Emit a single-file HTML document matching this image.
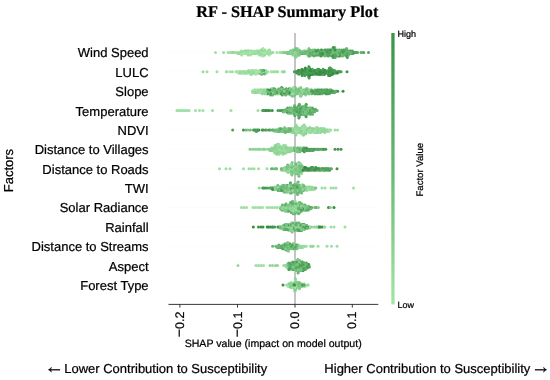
<!DOCTYPE html>
<html><head><meta charset="utf-8"><title>RF - SHAP Summary Plot</title>
<style>html,body{margin:0;padding:0;background:#fff}svg{display:block;text-rendering:geometricPrecision}text{stroke:#000;stroke-width:.22px}</style></head>
<body>
<svg width="550" height="380" viewBox="0 0 550 380">
<defs><linearGradient id="cb" x1="0" y1="0" x2="0" y2="1"><stop offset="0" stop-color="#3a9446"/><stop offset="0.5" stop-color="#68b872"/><stop offset="1" stop-color="#a2e6a6"/></linearGradient></defs>
<rect width="550" height="380" fill="#fff"/>
<line x1="168" x2="378" y1="52.40" y2="52.40" stroke="#ececec" stroke-width="0.5" stroke-dasharray="0.6 1.4"/>
<line x1="168" x2="378" y1="71.79" y2="71.79" stroke="#ececec" stroke-width="0.5" stroke-dasharray="0.6 1.4"/>
<line x1="168" x2="378" y1="91.17" y2="91.17" stroke="#ececec" stroke-width="0.5" stroke-dasharray="0.6 1.4"/>
<line x1="168" x2="378" y1="110.56" y2="110.56" stroke="#ececec" stroke-width="0.5" stroke-dasharray="0.6 1.4"/>
<line x1="168" x2="378" y1="129.94" y2="129.94" stroke="#ececec" stroke-width="0.5" stroke-dasharray="0.6 1.4"/>
<line x1="168" x2="378" y1="149.33" y2="149.33" stroke="#ececec" stroke-width="0.5" stroke-dasharray="0.6 1.4"/>
<line x1="168" x2="378" y1="168.72" y2="168.72" stroke="#ececec" stroke-width="0.5" stroke-dasharray="0.6 1.4"/>
<line x1="168" x2="378" y1="188.10" y2="188.10" stroke="#ececec" stroke-width="0.5" stroke-dasharray="0.6 1.4"/>
<line x1="168" x2="378" y1="207.49" y2="207.49" stroke="#ececec" stroke-width="0.5" stroke-dasharray="0.6 1.4"/>
<line x1="168" x2="378" y1="226.87" y2="226.87" stroke="#ececec" stroke-width="0.5" stroke-dasharray="0.6 1.4"/>
<line x1="168" x2="378" y1="246.26" y2="246.26" stroke="#ececec" stroke-width="0.5" stroke-dasharray="0.6 1.4"/>
<line x1="168" x2="378" y1="265.65" y2="265.65" stroke="#ececec" stroke-width="0.5" stroke-dasharray="0.6 1.4"/>
<line x1="168" x2="378" y1="285.03" y2="285.03" stroke="#ececec" stroke-width="0.5" stroke-dasharray="0.6 1.4"/>
<line x1="295" x2="295" y1="33" y2="304" stroke="#a6a6a6" stroke-width="1.3"/>
<g>
<circle cx="347.6" cy="51.1" r="1.5" fill="#52a35d"/>
<circle cx="316.5" cy="54.9" r="1.5" fill="#6cb976"/>
<circle cx="283.3" cy="52.4" r="1.5" fill="#8fd496"/>
<circle cx="304.4" cy="51.1" r="1.5" fill="#82ca8a"/>
<circle cx="291.5" cy="51.1" r="1.5" fill="#8dd294"/>
<circle cx="315.2" cy="54.9" r="1.5" fill="#5bab65"/>
<circle cx="345.0" cy="49.9" r="1.5" fill="#71bd7a"/>
<circle cx="241.2" cy="53.6" r="1.5" fill="#a9e7ad"/>
<circle cx="261.2" cy="49.9" r="1.5" fill="#93d799"/>
<circle cx="314.4" cy="49.9" r="1.5" fill="#75c07e"/>
<circle cx="256.7" cy="53.6" r="1.5" fill="#98db9e"/>
<circle cx="334.3" cy="51.1" r="1.5" fill="#469951"/>
<circle cx="265.1" cy="49.9" r="1.5" fill="#a7e5ab"/>
<circle cx="250.6" cy="53.6" r="1.5" fill="#9bdda1"/>
<circle cx="299.0" cy="51.1" r="1.5" fill="#85cc8d"/>
<circle cx="320.2" cy="52.4" r="1.5" fill="#76c07e"/>
<circle cx="302.4" cy="53.6" r="1.5" fill="#58a963"/>
<circle cx="298.2" cy="54.9" r="1.5" fill="#90d496"/>
<circle cx="256.5" cy="51.1" r="1.5" fill="#97d99c"/>
<circle cx="351.0" cy="51.1" r="1.5" fill="#61b06b"/>
<circle cx="342.5" cy="53.6" r="1.5" fill="#5faf69"/>
<circle cx="338.6" cy="53.6" r="1.5" fill="#67b571"/>
<circle cx="307.8" cy="51.1" r="1.5" fill="#6fbc79"/>
<circle cx="299.2" cy="52.4" r="1.5" fill="#82ca8a"/>
<circle cx="325.9" cy="53.6" r="1.5" fill="#64b26e"/>
<circle cx="324.9" cy="53.6" r="1.5" fill="#76c17f"/>
<circle cx="248.6" cy="53.6" r="1.5" fill="#9bdca0"/>
<circle cx="269.0" cy="54.9" r="1.5" fill="#a4e3a9"/>
<circle cx="324.6" cy="51.1" r="1.5" fill="#51a25b"/>
<circle cx="313.4" cy="54.9" r="1.5" fill="#52a35c"/>
<circle cx="334.7" cy="47.4" r="1.5" fill="#5dad67"/>
<circle cx="308.0" cy="54.9" r="1.5" fill="#82ca8a"/>
<circle cx="323.8" cy="53.6" r="1.5" fill="#77c180"/>
<circle cx="351.6" cy="52.4" r="1.5" fill="#70bc79"/>
<circle cx="241.5" cy="51.1" r="1.5" fill="#9adc9f"/>
<circle cx="263.1" cy="53.6" r="1.5" fill="#93d699"/>
<circle cx="241.2" cy="52.4" r="1.5" fill="#9fdfa4"/>
<circle cx="292.9" cy="49.9" r="1.5" fill="#7cc585"/>
<circle cx="357.8" cy="52.4" r="1.5" fill="#69b672"/>
<circle cx="295.7" cy="51.1" r="1.5" fill="#87ce8e"/>
<circle cx="228.1" cy="52.4" r="1.5" fill="#9cdea2"/>
<circle cx="293.3" cy="51.1" r="1.5" fill="#91d598"/>
<circle cx="264.2" cy="53.6" r="1.5" fill="#a9e7ad"/>
<circle cx="308.9" cy="48.6" r="1.5" fill="#81c988"/>
<circle cx="336.7" cy="52.4" r="1.5" fill="#4b9e56"/>
<circle cx="325.7" cy="49.9" r="1.5" fill="#5aaa64"/>
<circle cx="292.7" cy="52.4" r="1.5" fill="#85cc8c"/>
<circle cx="269.0" cy="51.1" r="1.5" fill="#97d99c"/>
<circle cx="268.7" cy="52.4" r="1.5" fill="#9bdda1"/>
<circle cx="313.3" cy="51.1" r="1.5" fill="#42964d"/>
<circle cx="331.0" cy="53.6" r="1.5" fill="#75c07e"/>
<circle cx="326.7" cy="53.6" r="1.5" fill="#6ab874"/>
<circle cx="250.8" cy="51.1" r="1.5" fill="#a4e3a8"/>
<circle cx="329.4" cy="51.1" r="1.5" fill="#6dba76"/>
<circle cx="251.8" cy="51.1" r="1.5" fill="#a8e6ac"/>
<circle cx="341.8" cy="49.9" r="1.5" fill="#5faf6a"/>
<circle cx="237.9" cy="53.6" r="1.5" fill="#94d79a"/>
<circle cx="301.0" cy="53.6" r="1.5" fill="#65b46f"/>
<circle cx="353.3" cy="52.4" r="1.5" fill="#6fbb78"/>
<circle cx="316.8" cy="53.6" r="1.5" fill="#56a761"/>
<circle cx="304.1" cy="52.4" r="1.5" fill="#7bc483"/>
<circle cx="257.3" cy="52.4" r="1.5" fill="#97d99c"/>
<circle cx="336.7" cy="53.6" r="1.5" fill="#69b773"/>
<circle cx="294.7" cy="53.6" r="1.5" fill="#8dd294"/>
<circle cx="326.8" cy="51.1" r="1.5" fill="#4a9c55"/>
<circle cx="330.9" cy="54.9" r="1.5" fill="#6cb976"/>
<circle cx="260.2" cy="52.4" r="1.5" fill="#9edfa4"/>
<circle cx="261.5" cy="52.4" r="1.5" fill="#92d698"/>
<circle cx="340.9" cy="53.6" r="1.5" fill="#5faf6a"/>
<circle cx="265.1" cy="51.1" r="1.5" fill="#97da9d"/>
<circle cx="300.5" cy="53.6" r="1.5" fill="#67b571"/>
<circle cx="294.3" cy="49.9" r="1.5" fill="#78c281"/>
<circle cx="335.8" cy="54.9" r="1.5" fill="#499b54"/>
<circle cx="289.4" cy="52.4" r="1.5" fill="#92d699"/>
<circle cx="344.0" cy="51.1" r="1.5" fill="#42964d"/>
<circle cx="347.3" cy="57.4" r="1.5" fill="#4d9f58"/>
<circle cx="248.2" cy="52.4" r="1.5" fill="#93d799"/>
<circle cx="347.0" cy="54.9" r="1.5" fill="#6bb874"/>
<circle cx="269.7" cy="52.4" r="1.5" fill="#95d89b"/>
<circle cx="245.7" cy="51.1" r="1.5" fill="#96d99c"/>
<circle cx="263.4" cy="54.9" r="1.5" fill="#a0e0a5"/>
<circle cx="310.6" cy="52.4" r="1.5" fill="#5dad67"/>
<circle cx="268.1" cy="51.1" r="1.5" fill="#9fe0a4"/>
<circle cx="338.5" cy="52.4" r="1.5" fill="#40944c"/>
<circle cx="314.3" cy="51.1" r="1.5" fill="#5dad67"/>
<circle cx="334.7" cy="53.6" r="1.5" fill="#4a9d55"/>
<circle cx="254.8" cy="52.4" r="1.5" fill="#99db9f"/>
<circle cx="336.4" cy="52.4" r="1.5" fill="#5cac67"/>
<circle cx="319.5" cy="54.9" r="1.5" fill="#469a52"/>
<circle cx="337.6" cy="52.4" r="1.5" fill="#6dba76"/>
<circle cx="259.4" cy="54.9" r="1.5" fill="#9bdda0"/>
<circle cx="333.3" cy="57.4" r="1.5" fill="#499c54"/>
<circle cx="254.7" cy="53.6" r="1.5" fill="#a1e1a6"/>
<circle cx="333.7" cy="52.4" r="1.5" fill="#3f944b"/>
<circle cx="293.4" cy="53.6" r="1.5" fill="#87cd8e"/>
<circle cx="343.9" cy="52.4" r="1.5" fill="#41954c"/>
<circle cx="336.3" cy="51.1" r="1.5" fill="#499c54"/>
<circle cx="251.4" cy="52.4" r="1.5" fill="#a9e8ad"/>
<circle cx="231.0" cy="52.4" r="1.5" fill="#9bdda0"/>
<circle cx="296.9" cy="49.9" r="1.5" fill="#84cb8b"/>
<circle cx="260.9" cy="54.9" r="1.5" fill="#a0e1a5"/>
<circle cx="322.1" cy="54.9" r="1.5" fill="#3d9249"/>
<circle cx="296.7" cy="53.6" r="1.5" fill="#82c989"/>
<circle cx="265.4" cy="53.6" r="1.5" fill="#9edfa3"/>
<circle cx="356.3" cy="52.4" r="1.5" fill="#67b571"/>
<circle cx="338.1" cy="51.1" r="1.5" fill="#58a963"/>
<circle cx="309.8" cy="49.9" r="1.5" fill="#75c07e"/>
<circle cx="256.3" cy="52.4" r="1.5" fill="#9ddea2"/>
<circle cx="337.7" cy="56.1" r="1.5" fill="#42964d"/>
<circle cx="262.0" cy="53.6" r="1.5" fill="#9cdda1"/>
<circle cx="252.0" cy="52.4" r="1.5" fill="#92d698"/>
<circle cx="243.2" cy="53.6" r="1.5" fill="#a3e3a8"/>
<circle cx="258.3" cy="52.4" r="1.5" fill="#92d698"/>
<circle cx="258.7" cy="51.1" r="1.5" fill="#a5e4aa"/>
<circle cx="307.2" cy="52.4" r="1.5" fill="#65b36f"/>
<circle cx="312.4" cy="53.6" r="1.5" fill="#61b06b"/>
<circle cx="248.6" cy="52.4" r="1.5" fill="#a0e1a5"/>
<circle cx="349.0" cy="51.1" r="1.5" fill="#64b36e"/>
<circle cx="293.7" cy="52.4" r="1.5" fill="#8cd192"/>
<circle cx="320.4" cy="54.9" r="1.5" fill="#61b06b"/>
<circle cx="333.9" cy="49.9" r="1.5" fill="#65b36f"/>
<circle cx="339.5" cy="54.9" r="1.5" fill="#63b26d"/>
<circle cx="291.5" cy="53.6" r="1.5" fill="#8ad091"/>
<circle cx="348.1" cy="54.9" r="1.5" fill="#5bab66"/>
<circle cx="353.2" cy="53.6" r="1.5" fill="#50a15b"/>
<circle cx="344.8" cy="51.1" r="1.5" fill="#6fbb79"/>
<circle cx="340.2" cy="51.1" r="1.5" fill="#51a35c"/>
<circle cx="266.1" cy="53.6" r="1.5" fill="#9edfa3"/>
<circle cx="330.9" cy="52.4" r="1.5" fill="#469951"/>
<circle cx="345.1" cy="52.4" r="1.5" fill="#72be7c"/>
<circle cx="264.3" cy="52.4" r="1.5" fill="#9ddea2"/>
<circle cx="261.7" cy="49.9" r="1.5" fill="#94d79a"/>
<circle cx="361.1" cy="52.4" r="1.5" fill="#60af6a"/>
<circle cx="346.1" cy="51.1" r="1.5" fill="#66b470"/>
<circle cx="242.7" cy="52.4" r="1.5" fill="#9edfa3"/>
<circle cx="333.4" cy="53.6" r="1.5" fill="#4ea059"/>
<circle cx="250.1" cy="53.6" r="1.5" fill="#a8e6ac"/>
<circle cx="334.7" cy="52.4" r="1.5" fill="#73be7c"/>
<circle cx="255.7" cy="53.6" r="1.5" fill="#a2e2a7"/>
<circle cx="341.3" cy="52.4" r="1.5" fill="#469a52"/>
<circle cx="343.9" cy="53.6" r="1.5" fill="#469951"/>
<circle cx="248.7" cy="51.1" r="1.5" fill="#a8e7ad"/>
<circle cx="343.4" cy="49.9" r="1.5" fill="#60af6a"/>
<circle cx="288.8" cy="53.6" r="1.5" fill="#87ce8e"/>
<circle cx="322.1" cy="53.6" r="1.5" fill="#70bc7a"/>
<circle cx="287.3" cy="52.4" r="1.5" fill="#8cd293"/>
<circle cx="250.6" cy="54.9" r="1.5" fill="#a1e1a6"/>
<circle cx="318.0" cy="49.9" r="1.5" fill="#4ea059"/>
<circle cx="328.8" cy="53.6" r="1.5" fill="#3f934b"/>
<circle cx="286.2" cy="52.4" r="1.5" fill="#84cb8b"/>
<circle cx="348.5" cy="54.9" r="1.5" fill="#6bb875"/>
<circle cx="341.6" cy="52.4" r="1.5" fill="#74bf7d"/>
<circle cx="329.9" cy="52.4" r="1.5" fill="#3c9147"/>
<circle cx="337.5" cy="49.9" r="1.5" fill="#75c07e"/>
<circle cx="310.9" cy="54.9" r="1.5" fill="#74bf7d"/>
<circle cx="325.5" cy="52.4" r="1.5" fill="#6bb874"/>
<circle cx="333.0" cy="48.6" r="1.5" fill="#4c9f57"/>
<circle cx="309.5" cy="56.1" r="1.5" fill="#5dad67"/>
<circle cx="318.2" cy="52.4" r="1.5" fill="#61b06b"/>
<circle cx="298.6" cy="53.6" r="1.5" fill="#7dc685"/>
<circle cx="293.7" cy="53.6" r="1.5" fill="#8ed394"/>
<circle cx="351.8" cy="53.6" r="1.5" fill="#4fa15a"/>
<circle cx="254.1" cy="51.1" r="1.5" fill="#a3e3a7"/>
<circle cx="318.0" cy="51.1" r="1.5" fill="#4a9d55"/>
<circle cx="290.7" cy="51.1" r="1.5" fill="#85cc8c"/>
<circle cx="340.6" cy="51.1" r="1.5" fill="#52a45d"/>
<circle cx="333.3" cy="54.9" r="1.5" fill="#54a55f"/>
<circle cx="320.6" cy="53.6" r="1.5" fill="#69b773"/>
<circle cx="346.5" cy="49.9" r="1.5" fill="#5cac67"/>
<circle cx="290.4" cy="52.4" r="1.5" fill="#88cf8f"/>
<circle cx="324.4" cy="54.9" r="1.5" fill="#51a25c"/>
<circle cx="297.5" cy="49.9" r="1.5" fill="#82ca8a"/>
<circle cx="268.4" cy="53.6" r="1.5" fill="#98da9d"/>
<circle cx="314.8" cy="52.4" r="1.5" fill="#67b571"/>
<circle cx="328.9" cy="49.9" r="1.5" fill="#50a15a"/>
<circle cx="307.0" cy="53.6" r="1.5" fill="#78c281"/>
<circle cx="331.8" cy="56.1" r="1.5" fill="#62b16c"/>
<circle cx="288.1" cy="52.4" r="1.5" fill="#79c382"/>
<circle cx="339.4" cy="49.9" r="1.5" fill="#62b16c"/>
<circle cx="262.0" cy="54.9" r="1.5" fill="#9cdda1"/>
<circle cx="264.0" cy="54.9" r="1.5" fill="#96d99c"/>
<circle cx="333.2" cy="51.1" r="1.5" fill="#66b570"/>
<circle cx="332.1" cy="52.4" r="1.5" fill="#69b773"/>
<circle cx="257.7" cy="53.6" r="1.5" fill="#9fdfa4"/>
<circle cx="327.0" cy="54.9" r="1.5" fill="#3e9249"/>
<circle cx="334.6" cy="48.6" r="1.5" fill="#73be7c"/>
<circle cx="257.8" cy="51.1" r="1.5" fill="#9bdda1"/>
<circle cx="318.8" cy="51.1" r="1.5" fill="#5eae68"/>
<circle cx="352.5" cy="51.1" r="1.5" fill="#54a55f"/>
<circle cx="322.2" cy="51.1" r="1.5" fill="#75c07e"/>
<circle cx="260.8" cy="53.6" r="1.5" fill="#97da9d"/>
<circle cx="309.1" cy="49.9" r="1.5" fill="#75c07e"/>
<circle cx="296.6" cy="54.9" r="1.5" fill="#7dc685"/>
<circle cx="309.6" cy="54.9" r="1.5" fill="#78c280"/>
<circle cx="306.0" cy="53.6" r="1.5" fill="#6fbb78"/>
<circle cx="247.2" cy="51.1" r="1.5" fill="#93d799"/>
<circle cx="244.8" cy="52.4" r="1.5" fill="#95d89b"/>
<circle cx="329.9" cy="49.9" r="1.5" fill="#4a9c55"/>
<circle cx="260.4" cy="51.1" r="1.5" fill="#9adca0"/>
<circle cx="319.1" cy="53.6" r="1.5" fill="#61b06b"/>
<circle cx="295.5" cy="57.4" r="1.5" fill="#8ad091"/>
<circle cx="308.9" cy="52.4" r="1.5" fill="#55a660"/>
<circle cx="347.4" cy="53.6" r="1.5" fill="#5aaa64"/>
<circle cx="326.7" cy="49.9" r="1.5" fill="#6dba76"/>
<circle cx="340.3" cy="52.4" r="1.5" fill="#53a55e"/>
<circle cx="308.6" cy="51.1" r="1.5" fill="#82ca8a"/>
<circle cx="317.3" cy="51.1" r="1.5" fill="#62b16c"/>
<circle cx="316.7" cy="52.4" r="1.5" fill="#6ab773"/>
<circle cx="311.2" cy="53.6" r="1.5" fill="#58a963"/>
<circle cx="252.7" cy="53.6" r="1.5" fill="#9edfa3"/>
<circle cx="345.6" cy="54.9" r="1.5" fill="#5aaa64"/>
<circle cx="339.4" cy="54.9" r="1.5" fill="#55a65f"/>
<circle cx="321.5" cy="52.4" r="1.5" fill="#499c54"/>
<circle cx="339.5" cy="49.9" r="1.5" fill="#64b26e"/>
<circle cx="304.6" cy="53.6" r="1.5" fill="#67b571"/>
<circle cx="312.5" cy="49.9" r="1.5" fill="#7fc787"/>
<circle cx="297.9" cy="53.6" r="1.5" fill="#7bc483"/>
<circle cx="324.6" cy="49.9" r="1.5" fill="#51a25c"/>
<circle cx="312.1" cy="54.9" r="1.5" fill="#66b470"/>
<circle cx="308.8" cy="56.1" r="1.5" fill="#68b672"/>
<circle cx="253.2" cy="52.4" r="1.5" fill="#9fdfa4"/>
<circle cx="264.2" cy="51.1" r="1.5" fill="#94d89a"/>
<circle cx="305.6" cy="52.4" r="1.5" fill="#68b672"/>
<circle cx="325.0" cy="52.4" r="1.5" fill="#58a963"/>
<circle cx="310.8" cy="51.1" r="1.5" fill="#5aaa64"/>
<circle cx="242.3" cy="52.4" r="1.5" fill="#92d698"/>
<circle cx="341.6" cy="51.1" r="1.5" fill="#51a35c"/>
<circle cx="350.3" cy="51.1" r="1.5" fill="#52a35d"/>
<circle cx="345.4" cy="54.9" r="1.5" fill="#59a963"/>
<circle cx="299.1" cy="49.9" r="1.5" fill="#7dc685"/>
<circle cx="314.0" cy="56.1" r="1.5" fill="#70bc7a"/>
<circle cx="296.8" cy="52.4" r="1.5" fill="#92d698"/>
<circle cx="296.6" cy="51.1" r="1.5" fill="#7ec786"/>
<circle cx="299.3" cy="54.9" r="1.5" fill="#7cc585"/>
<circle cx="248.0" cy="53.6" r="1.5" fill="#98db9e"/>
<circle cx="239.1" cy="52.4" r="1.5" fill="#98da9d"/>
<circle cx="315.7" cy="53.6" r="1.5" fill="#5aaa64"/>
<circle cx="328.2" cy="56.1" r="1.5" fill="#5dad67"/>
<circle cx="334.5" cy="51.1" r="1.5" fill="#74bf7d"/>
<circle cx="248.5" cy="51.1" r="1.5" fill="#95d89b"/>
<circle cx="262.7" cy="49.9" r="1.5" fill="#96d99c"/>
<circle cx="350.3" cy="53.6" r="1.5" fill="#5aab65"/>
<circle cx="315.2" cy="53.6" r="1.5" fill="#4b9e56"/>
<circle cx="319.4" cy="52.4" r="1.5" fill="#72be7b"/>
<circle cx="346.4" cy="53.6" r="1.5" fill="#70bc79"/>
<circle cx="334.8" cy="56.1" r="1.5" fill="#3c9147"/>
<circle cx="331.9" cy="53.6" r="1.5" fill="#60af6a"/>
<circle cx="237.8" cy="52.4" r="1.5" fill="#a6e5aa"/>
<circle cx="248.1" cy="54.9" r="1.5" fill="#9adc9f"/>
<circle cx="324.5" cy="51.1" r="1.5" fill="#5cac67"/>
<circle cx="313.8" cy="54.9" r="1.5" fill="#51a25c"/>
<circle cx="293.0" cy="54.9" r="1.5" fill="#88ce8f"/>
<circle cx="326.2" cy="54.9" r="1.5" fill="#479a53"/>
<circle cx="294.5" cy="54.9" r="1.5" fill="#90d597"/>
<circle cx="295.7" cy="56.1" r="1.5" fill="#85cc8c"/>
<circle cx="308.0" cy="52.4" r="1.5" fill="#55a660"/>
<circle cx="269.0" cy="53.6" r="1.5" fill="#a3e3a8"/>
<circle cx="295.8" cy="54.9" r="1.5" fill="#88ce8f"/>
<circle cx="276.9" cy="52.4" r="1.5" fill="#a0e1a5"/>
<circle cx="344.1" cy="49.9" r="1.5" fill="#57a761"/>
<circle cx="240.3" cy="53.6" r="1.5" fill="#9fe0a4"/>
<circle cx="347.4" cy="52.4" r="1.5" fill="#58a862"/>
<circle cx="316.4" cy="52.4" r="1.5" fill="#6cb975"/>
<circle cx="315.1" cy="49.9" r="1.5" fill="#71bd7a"/>
<circle cx="304.8" cy="51.1" r="1.5" fill="#7fc787"/>
<circle cx="281.8" cy="52.4" r="1.5" fill="#91d598"/>
<circle cx="297.5" cy="48.6" r="1.5" fill="#92d698"/>
<circle cx="307.0" cy="51.1" r="1.5" fill="#70bc79"/>
<circle cx="264.6" cy="54.9" r="1.5" fill="#97da9d"/>
<circle cx="297.1" cy="56.1" r="1.5" fill="#8cd193"/>
<circle cx="343.5" cy="54.9" r="1.5" fill="#6ebb78"/>
<circle cx="266.5" cy="53.6" r="1.5" fill="#a5e5aa"/>
<circle cx="279.9" cy="52.4" r="1.5" fill="#99db9f"/>
<circle cx="341.0" cy="54.9" r="1.5" fill="#76c07f"/>
<circle cx="263.4" cy="51.1" r="1.5" fill="#9ddea3"/>
<circle cx="337.7" cy="53.6" r="1.5" fill="#69b773"/>
<circle cx="330.1" cy="54.9" r="1.5" fill="#42964d"/>
<circle cx="250.4" cy="51.1" r="1.5" fill="#9ddea2"/>
<circle cx="269.4" cy="49.9" r="1.5" fill="#95d89b"/>
<circle cx="346.7" cy="56.1" r="1.5" fill="#4ea059"/>
<circle cx="335.2" cy="57.4" r="1.5" fill="#5aaa64"/>
<circle cx="339.5" cy="56.1" r="1.5" fill="#3b9046"/>
<circle cx="327.5" cy="51.1" r="1.5" fill="#74bf7d"/>
<circle cx="291.1" cy="53.6" r="1.5" fill="#7ac382"/>
<circle cx="244.9" cy="53.6" r="1.5" fill="#a0e0a5"/>
<circle cx="290.4" cy="51.1" r="1.5" fill="#80c888"/>
<circle cx="298.5" cy="51.1" r="1.5" fill="#8bd192"/>
<circle cx="256.9" cy="51.1" r="1.5" fill="#9edfa3"/>
<circle cx="241.7" cy="54.9" r="1.5" fill="#9fe0a4"/>
<circle cx="272.7" cy="52.4" r="1.5" fill="#93d699"/>
<circle cx="289.5" cy="53.6" r="1.5" fill="#82ca8a"/>
<circle cx="332.3" cy="51.1" r="1.5" fill="#5cac66"/>
<circle cx="270.7" cy="52.4" r="1.5" fill="#a0e0a5"/>
<circle cx="329.6" cy="53.6" r="1.5" fill="#71bd7a"/>
<circle cx="361.5" cy="52.4" r="1.5" fill="#66b470"/>
<circle cx="348.8" cy="52.4" r="1.5" fill="#59aa64"/>
<circle cx="314.7" cy="51.1" r="1.5" fill="#60af6a"/>
<circle cx="311.6" cy="51.1" r="1.5" fill="#79c381"/>
<circle cx="350.6" cy="52.4" r="1.5" fill="#6eba77"/>
<circle cx="230.0" cy="52.4" r="1.5" fill="#a1e1a6"/>
<circle cx="324.1" cy="52.4" r="1.5" fill="#6bb874"/>
<circle cx="315.6" cy="54.9" r="1.5" fill="#5dad67"/>
<circle cx="342.9" cy="54.9" r="1.5" fill="#51a25c"/>
<circle cx="295.3" cy="51.1" r="1.5" fill="#92d698"/>
<circle cx="335.8" cy="49.9" r="1.5" fill="#67b671"/>
<circle cx="347.1" cy="51.1" r="1.5" fill="#5aaa65"/>
<circle cx="319.5" cy="51.1" r="1.5" fill="#54a55f"/>
<circle cx="262.8" cy="56.1" r="1.5" fill="#a4e3a9"/>
<circle cx="309.5" cy="53.6" r="1.5" fill="#85cc8c"/>
<circle cx="320.0" cy="53.6" r="1.5" fill="#41954d"/>
<circle cx="334.2" cy="53.6" r="1.5" fill="#479a52"/>
<circle cx="266.6" cy="52.4" r="1.5" fill="#95d89b"/>
<circle cx="339.5" cy="53.6" r="1.5" fill="#50a15a"/>
<circle cx="259.6" cy="53.6" r="1.5" fill="#97d99d"/>
<circle cx="265.8" cy="52.4" r="1.5" fill="#9ddea2"/>
<circle cx="325.4" cy="54.9" r="1.5" fill="#6cb976"/>
<circle cx="342.5" cy="56.1" r="1.5" fill="#66b470"/>
<circle cx="233.7" cy="52.4" r="1.5" fill="#99db9f"/>
<circle cx="355.5" cy="52.4" r="1.5" fill="#6bb874"/>
<circle cx="245.5" cy="53.6" r="1.5" fill="#9adca0"/>
<circle cx="338.0" cy="54.9" r="1.5" fill="#72bd7b"/>
<circle cx="280.6" cy="52.4" r="1.5" fill="#9edfa3"/>
<circle cx="264.7" cy="52.4" r="1.5" fill="#a7e6ab"/>
<circle cx="308.8" cy="54.9" r="1.5" fill="#62b16c"/>
<circle cx="240.1" cy="52.4" r="1.5" fill="#9cdda1"/>
<circle cx="321.9" cy="49.9" r="1.5" fill="#58a963"/>
<circle cx="246.9" cy="52.4" r="1.5" fill="#aae8ae"/>
<circle cx="244.4" cy="52.4" r="1.5" fill="#a1e1a5"/>
<circle cx="346.3" cy="52.4" r="1.5" fill="#67b571"/>
<circle cx="262.5" cy="52.4" r="1.5" fill="#a7e6ab"/>
<circle cx="287.4" cy="53.6" r="1.5" fill="#8fd496"/>
<circle cx="317.9" cy="54.9" r="1.5" fill="#55a660"/>
<circle cx="321.4" cy="54.9" r="1.5" fill="#4fa159"/>
<circle cx="329.9" cy="51.1" r="1.5" fill="#73be7c"/>
<circle cx="313.5" cy="53.6" r="1.5" fill="#62b16c"/>
<circle cx="356.7" cy="52.4" r="1.5" fill="#56a761"/>
<circle cx="336.0" cy="53.6" r="1.5" fill="#6ab874"/>
<circle cx="328.5" cy="54.9" r="1.5" fill="#4b9d56"/>
<circle cx="299.5" cy="52.4" r="1.5" fill="#82ca8a"/>
<circle cx="325.7" cy="51.1" r="1.5" fill="#4fa059"/>
<circle cx="333.3" cy="47.4" r="1.5" fill="#40944c"/>
<circle cx="245.7" cy="52.4" r="1.5" fill="#a8e6ac"/>
<circle cx="232.9" cy="52.4" r="1.5" fill="#94d79a"/>
<circle cx="350.6" cy="53.6" r="1.5" fill="#62b16c"/>
<circle cx="309.4" cy="53.6" r="1.5" fill="#59a963"/>
<circle cx="291.7" cy="52.4" r="1.5" fill="#86cd8d"/>
<circle cx="335.4" cy="49.9" r="1.5" fill="#3c9148"/>
<circle cx="349.9" cy="52.4" r="1.5" fill="#60b06b"/>
<circle cx="332.6" cy="49.9" r="1.5" fill="#3e934a"/>
<circle cx="247.1" cy="53.6" r="1.5" fill="#a1e1a6"/>
<circle cx="251.6" cy="53.6" r="1.5" fill="#9edfa3"/>
<circle cx="314.2" cy="52.4" r="1.5" fill="#57a761"/>
<circle cx="348.9" cy="53.6" r="1.5" fill="#69b673"/>
<circle cx="284.4" cy="52.4" r="1.5" fill="#81c989"/>
<circle cx="235.8" cy="52.4" r="1.5" fill="#98db9e"/>
<circle cx="339.5" cy="51.1" r="1.5" fill="#6dba76"/>
<circle cx="262.1" cy="51.1" r="1.5" fill="#9adca0"/>
<circle cx="316.5" cy="51.1" r="1.5" fill="#41954c"/>
<circle cx="331.7" cy="54.9" r="1.5" fill="#74bf7d"/>
<circle cx="302.8" cy="53.6" r="1.5" fill="#62b16c"/>
<circle cx="268.1" cy="52.4" r="1.5" fill="#9edfa3"/>
<circle cx="258.7" cy="53.6" r="1.5" fill="#a5e4a9"/>
<circle cx="329.5" cy="52.4" r="1.5" fill="#4b9e56"/>
<circle cx="295.8" cy="52.4" r="1.5" fill="#81c989"/>
<circle cx="327.9" cy="54.9" r="1.5" fill="#54a55f"/>
<circle cx="310.0" cy="52.4" r="1.5" fill="#5aaa64"/>
<circle cx="269.8" cy="51.1" r="1.5" fill="#a1e1a5"/>
<circle cx="322.8" cy="52.4" r="1.5" fill="#72bd7b"/>
<circle cx="301.1" cy="52.4" r="1.5" fill="#68b672"/>
<circle cx="321.0" cy="56.1" r="1.5" fill="#499c54"/>
<circle cx="254.3" cy="53.6" r="1.5" fill="#94d79a"/>
<circle cx="295.8" cy="53.6" r="1.5" fill="#8dd294"/>
<circle cx="300.0" cy="51.1" r="1.5" fill="#74bf7d"/>
<circle cx="327.3" cy="52.4" r="1.5" fill="#65b470"/>
<circle cx="223.6" cy="52.4" r="1.5" fill="#9cdda1"/>
<circle cx="245.5" cy="51.1" r="1.5" fill="#95d89b"/>
<circle cx="238.8" cy="53.6" r="1.5" fill="#95d89b"/>
<circle cx="243.9" cy="53.6" r="1.5" fill="#a8e7ac"/>
<circle cx="333.8" cy="54.9" r="1.5" fill="#53a45e"/>
<circle cx="331.4" cy="51.1" r="1.5" fill="#62b16c"/>
<circle cx="270.6" cy="53.6" r="1.5" fill="#a3e2a7"/>
<circle cx="317.8" cy="53.6" r="1.5" fill="#6cb975"/>
<circle cx="258.9" cy="52.4" r="1.5" fill="#93d799"/>
<circle cx="346.6" cy="48.6" r="1.5" fill="#64b36f"/>
<circle cx="302.6" cy="52.4" r="1.5" fill="#66b570"/>
<circle cx="321.5" cy="52.4" r="1.5" fill="#44974f"/>
<circle cx="310.0" cy="51.1" r="1.5" fill="#6ebb78"/>
<circle cx="312.4" cy="52.4" r="1.5" fill="#82ca8a"/>
<circle cx="332.1" cy="49.9" r="1.5" fill="#74bf7d"/>
<circle cx="348.1" cy="52.4" r="1.5" fill="#70bc79"/>
<circle cx="294.2" cy="51.1" r="1.5" fill="#7bc483"/>
<circle cx="261.5" cy="51.1" r="1.5" fill="#97d99d"/>
<circle cx="269.9" cy="53.6" r="1.5" fill="#9fe0a4"/>
<circle cx="241.9" cy="53.6" r="1.5" fill="#a3e3a8"/>
<circle cx="343.3" cy="51.1" r="1.5" fill="#499c54"/>
<circle cx="215.5" cy="52.4" r="1.5" fill="#a1e1a5"/>
<circle cx="342.1" cy="53.6" r="1.5" fill="#60af6b"/>
<circle cx="295.8" cy="48.6" r="1.5" fill="#79c381"/>
<circle cx="334.8" cy="54.9" r="1.5" fill="#57a761"/>
<circle cx="327.7" cy="49.9" r="1.5" fill="#4d9f58"/>
<circle cx="332.6" cy="56.1" r="1.5" fill="#469951"/>
<circle cx="296.5" cy="49.9" r="1.5" fill="#79c381"/>
<circle cx="354.2" cy="52.4" r="1.5" fill="#4c9e57"/>
<circle cx="321.0" cy="51.1" r="1.5" fill="#6fbb78"/>
<circle cx="295.2" cy="52.4" r="1.5" fill="#92d699"/>
<circle cx="244.4" cy="51.1" r="1.5" fill="#9ddea2"/>
<circle cx="343.4" cy="52.4" r="1.5" fill="#4b9d56"/>
<circle cx="330.5" cy="49.9" r="1.5" fill="#41954d"/>
<circle cx="263.1" cy="48.6" r="1.5" fill="#a4e4a9"/>
<circle cx="271.9" cy="52.4" r="1.5" fill="#9bdca0"/>
<circle cx="312.7" cy="52.4" r="1.5" fill="#59a964"/>
<circle cx="250.1" cy="52.4" r="1.5" fill="#a7e6ac"/>
<circle cx="345.0" cy="53.6" r="1.5" fill="#62b16c"/>
<circle cx="298.2" cy="52.4" r="1.5" fill="#81c989"/>
<circle cx="363.7" cy="52.4" r="1.5" fill="#50a15b"/>
<circle cx="260.7" cy="52.4" r="1.5" fill="#9fdfa4"/>
<circle cx="327.6" cy="52.4" r="1.5" fill="#40954c"/>
<circle cx="302.8" cy="51.1" r="1.5" fill="#82ca8a"/>
<circle cx="305.1" cy="52.4" r="1.5" fill="#61b06b"/>
<circle cx="290.7" cy="52.4" r="1.5" fill="#8dd294"/>
<circle cx="304.3" cy="53.6" r="1.5" fill="#70bc79"/>
<circle cx="347.5" cy="53.6" r="1.5" fill="#55a660"/>
<circle cx="342.2" cy="54.9" r="1.5" fill="#6ebb78"/>
<circle cx="307.6" cy="53.6" r="1.5" fill="#77c180"/>
<circle cx="333.2" cy="52.4" r="1.5" fill="#75c07e"/>
<circle cx="322.7" cy="53.6" r="1.5" fill="#3e934a"/>
<circle cx="287.6" cy="53.6" r="1.5" fill="#7dc685"/>
<circle cx="254.2" cy="52.4" r="1.5" fill="#a1e1a6"/>
<circle cx="337.4" cy="51.1" r="1.5" fill="#6fbb78"/>
<circle cx="328.4" cy="53.6" r="1.5" fill="#54a55f"/>
<circle cx="321.1" cy="49.9" r="1.5" fill="#4c9e57"/>
<circle cx="324.9" cy="56.1" r="1.5" fill="#6ab874"/>
<circle cx="314.2" cy="53.6" r="1.5" fill="#75c07e"/>
<circle cx="301.6" cy="52.4" r="1.5" fill="#70bc79"/>
<circle cx="368.5" cy="52.4" r="1.5" fill="#55a65f"/>
</g>
<g>
<circle cx="301.9" cy="69.3" r="1.5" fill="#42964d"/>
<circle cx="314.9" cy="70.5" r="1.5" fill="#358b41"/>
<circle cx="255.8" cy="71.8" r="1.5" fill="#9edfa3"/>
<circle cx="339.8" cy="71.8" r="1.5" fill="#3f934a"/>
<circle cx="331.3" cy="70.5" r="1.5" fill="#32893e"/>
<circle cx="335.3" cy="71.8" r="1.5" fill="#3d9249"/>
<circle cx="304.0" cy="71.8" r="1.5" fill="#388e44"/>
<circle cx="317.0" cy="73.0" r="1.5" fill="#4c9e57"/>
<circle cx="305.4" cy="68.0" r="1.5" fill="#398e44"/>
<circle cx="296.1" cy="71.8" r="1.5" fill="#469951"/>
<circle cx="277.7" cy="71.8" r="1.5" fill="#97da9d"/>
<circle cx="306.3" cy="70.5" r="1.5" fill="#3d9249"/>
<circle cx="324.6" cy="74.3" r="1.5" fill="#3a8f45"/>
<circle cx="330.1" cy="73.0" r="1.5" fill="#4c9f57"/>
<circle cx="324.4" cy="70.5" r="1.5" fill="#469951"/>
<circle cx="261.8" cy="71.8" r="1.5" fill="#3e934a"/>
<circle cx="236.1" cy="71.8" r="1.5" fill="#9adc9f"/>
<circle cx="300.4" cy="71.8" r="1.5" fill="#3e934a"/>
<circle cx="244.0" cy="73.0" r="1.5" fill="#99db9e"/>
<circle cx="316.0" cy="70.5" r="1.5" fill="#4c9e57"/>
<circle cx="328.6" cy="75.5" r="1.5" fill="#398e45"/>
<circle cx="256.2" cy="70.5" r="1.5" fill="#94d89a"/>
<circle cx="336.1" cy="73.0" r="1.5" fill="#479a52"/>
<circle cx="304.8" cy="73.0" r="1.5" fill="#378d43"/>
<circle cx="304.3" cy="73.0" r="1.5" fill="#4ea059"/>
<circle cx="329.7" cy="70.5" r="1.5" fill="#3a8f45"/>
<circle cx="242.9" cy="73.0" r="1.5" fill="#98db9e"/>
<circle cx="266.4" cy="73.0" r="1.5" fill="#9bdda0"/>
<circle cx="308.5" cy="73.0" r="1.5" fill="#378d43"/>
<circle cx="331.6" cy="69.3" r="1.5" fill="#40954c"/>
<circle cx="261.6" cy="74.3" r="1.5" fill="#53a45e"/>
<circle cx="258.0" cy="71.8" r="1.5" fill="#9edfa3"/>
<circle cx="274.6" cy="71.8" r="1.5" fill="#a0e0a5"/>
<circle cx="250.8" cy="73.0" r="1.5" fill="#99db9e"/>
<circle cx="307.1" cy="70.5" r="1.5" fill="#368c42"/>
<circle cx="294.4" cy="71.8" r="1.5" fill="#479a52"/>
<circle cx="321.4" cy="71.8" r="1.5" fill="#378d43"/>
<circle cx="311.6" cy="73.0" r="1.5" fill="#499c54"/>
<circle cx="255.9" cy="73.0" r="1.5" fill="#9fdfa4"/>
<circle cx="317.3" cy="70.5" r="1.5" fill="#3d9249"/>
<circle cx="311.5" cy="70.5" r="1.5" fill="#3c9147"/>
<circle cx="319.6" cy="73.0" r="1.5" fill="#3f934b"/>
<circle cx="251.4" cy="70.5" r="1.5" fill="#a5e4a9"/>
<circle cx="333.5" cy="70.5" r="1.5" fill="#459850"/>
<circle cx="328.9" cy="73.0" r="1.5" fill="#499c54"/>
<circle cx="251.6" cy="71.8" r="1.5" fill="#95d89b"/>
<circle cx="261.3" cy="71.8" r="1.5" fill="#67b671"/>
<circle cx="250.1" cy="73.0" r="1.5" fill="#a2e2a7"/>
<circle cx="308.7" cy="75.5" r="1.5" fill="#479a52"/>
<circle cx="302.6" cy="71.8" r="1.5" fill="#479a52"/>
<circle cx="304.8" cy="69.3" r="1.5" fill="#388d44"/>
<circle cx="254.3" cy="71.8" r="1.5" fill="#a0e0a5"/>
<circle cx="317.0" cy="71.8" r="1.5" fill="#43964e"/>
<circle cx="311.0" cy="74.3" r="1.5" fill="#3d9148"/>
<circle cx="308.3" cy="71.8" r="1.5" fill="#348a3f"/>
<circle cx="267.8" cy="71.8" r="1.5" fill="#a3e2a7"/>
<circle cx="247.8" cy="71.8" r="1.5" fill="#a5e4a9"/>
<circle cx="301.3" cy="73.0" r="1.5" fill="#398e45"/>
<circle cx="260.4" cy="73.0" r="1.5" fill="#67b671"/>
<circle cx="311.7" cy="74.3" r="1.5" fill="#3b9046"/>
<circle cx="322.2" cy="73.0" r="1.5" fill="#4fa15a"/>
<circle cx="334.6" cy="73.0" r="1.5" fill="#50a15b"/>
<circle cx="332.5" cy="74.3" r="1.5" fill="#43974e"/>
<circle cx="328.4" cy="71.8" r="1.5" fill="#50a25b"/>
<circle cx="226.4" cy="71.8" r="1.5" fill="#9bdda0"/>
<circle cx="304.8" cy="71.8" r="1.5" fill="#41954c"/>
<circle cx="330.4" cy="74.3" r="1.5" fill="#378d43"/>
<circle cx="329.1" cy="69.3" r="1.5" fill="#42964e"/>
<circle cx="254.7" cy="71.8" r="1.5" fill="#a3e3a8"/>
<circle cx="242.1" cy="71.8" r="1.5" fill="#9fdfa4"/>
<circle cx="239.2" cy="71.8" r="1.5" fill="#9cdda1"/>
<circle cx="247.0" cy="71.8" r="1.5" fill="#a1e2a6"/>
<circle cx="322.3" cy="74.3" r="1.5" fill="#4fa15a"/>
<circle cx="301.4" cy="71.8" r="1.5" fill="#4c9e57"/>
<circle cx="321.3" cy="73.0" r="1.5" fill="#3a8f46"/>
<circle cx="339.0" cy="71.8" r="1.5" fill="#43974e"/>
<circle cx="309.3" cy="73.0" r="1.5" fill="#42964d"/>
<circle cx="309.4" cy="70.5" r="1.5" fill="#358b41"/>
<circle cx="320.6" cy="70.5" r="1.5" fill="#4b9e56"/>
<circle cx="244.9" cy="73.0" r="1.5" fill="#a3e2a7"/>
<circle cx="267.3" cy="71.8" r="1.5" fill="#a1e1a5"/>
<circle cx="315.0" cy="73.0" r="1.5" fill="#4b9e56"/>
<circle cx="299.5" cy="70.5" r="1.5" fill="#3f934a"/>
<circle cx="305.6" cy="73.0" r="1.5" fill="#459950"/>
<circle cx="308.9" cy="66.8" r="1.5" fill="#378c42"/>
<circle cx="319.7" cy="74.3" r="1.5" fill="#3b9046"/>
<circle cx="338.0" cy="71.8" r="1.5" fill="#42964e"/>
<circle cx="314.9" cy="74.3" r="1.5" fill="#4c9e57"/>
<circle cx="306.7" cy="74.3" r="1.5" fill="#3f934a"/>
<circle cx="323.3" cy="70.5" r="1.5" fill="#44984f"/>
<circle cx="240.4" cy="71.8" r="1.5" fill="#99db9f"/>
<circle cx="295.5" cy="71.8" r="1.5" fill="#4c9e57"/>
<circle cx="328.8" cy="74.3" r="1.5" fill="#4b9e56"/>
<circle cx="255.2" cy="73.0" r="1.5" fill="#9cdda1"/>
<circle cx="246.3" cy="71.8" r="1.5" fill="#9edfa3"/>
<circle cx="240.7" cy="71.8" r="1.5" fill="#9fdfa4"/>
<circle cx="297.3" cy="71.8" r="1.5" fill="#42964d"/>
<circle cx="306.5" cy="71.8" r="1.5" fill="#4fa15a"/>
<circle cx="282.2" cy="71.8" r="1.5" fill="#a1e1a5"/>
<circle cx="254.1" cy="73.0" r="1.5" fill="#9fdfa4"/>
<circle cx="331.9" cy="74.3" r="1.5" fill="#3d9249"/>
<circle cx="324.4" cy="73.0" r="1.5" fill="#3f934a"/>
<circle cx="317.7" cy="69.3" r="1.5" fill="#44984f"/>
<circle cx="258.8" cy="73.0" r="1.5" fill="#5eae69"/>
<circle cx="332.0" cy="71.8" r="1.5" fill="#4fa15a"/>
<circle cx="309.2" cy="71.8" r="1.5" fill="#459951"/>
<circle cx="257.5" cy="73.0" r="1.5" fill="#99db9f"/>
<circle cx="320.3" cy="70.5" r="1.5" fill="#4b9e56"/>
<circle cx="244.9" cy="71.8" r="1.5" fill="#a2e2a7"/>
<circle cx="313.1" cy="71.8" r="1.5" fill="#4ea059"/>
<circle cx="315.2" cy="71.8" r="1.5" fill="#479a52"/>
<circle cx="310.9" cy="69.3" r="1.5" fill="#459950"/>
<circle cx="321.1" cy="74.3" r="1.5" fill="#3c9148"/>
<circle cx="262.0" cy="73.0" r="1.5" fill="#92d598"/>
<circle cx="310.4" cy="73.0" r="1.5" fill="#469951"/>
<circle cx="328.6" cy="70.5" r="1.5" fill="#469951"/>
<circle cx="309.8" cy="71.8" r="1.5" fill="#50a15a"/>
<circle cx="248.5" cy="70.5" r="1.5" fill="#9bdda1"/>
<circle cx="262.5" cy="71.8" r="1.5" fill="#4a9c55"/>
<circle cx="238.6" cy="73.0" r="1.5" fill="#9cdea2"/>
<circle cx="330.0" cy="75.5" r="1.5" fill="#378c43"/>
<circle cx="314.1" cy="70.5" r="1.5" fill="#42964d"/>
<circle cx="323.6" cy="74.3" r="1.5" fill="#33893f"/>
<circle cx="324.2" cy="71.8" r="1.5" fill="#50a15b"/>
<circle cx="254.4" cy="70.5" r="1.5" fill="#9edfa3"/>
<circle cx="323.1" cy="71.8" r="1.5" fill="#489b53"/>
<circle cx="311.7" cy="71.8" r="1.5" fill="#42964d"/>
<circle cx="239.7" cy="73.0" r="1.5" fill="#9ddfa3"/>
<circle cx="284.5" cy="71.8" r="1.5" fill="#a7e6ac"/>
<circle cx="303.1" cy="70.5" r="1.5" fill="#348a40"/>
<circle cx="326.0" cy="71.8" r="1.5" fill="#33893f"/>
<circle cx="302.5" cy="71.8" r="1.5" fill="#4c9f57"/>
<circle cx="308.7" cy="76.8" r="1.5" fill="#41954c"/>
<circle cx="265.6" cy="70.5" r="1.5" fill="#a0e0a4"/>
<circle cx="314.3" cy="73.0" r="1.5" fill="#469a51"/>
<circle cx="335.8" cy="71.8" r="1.5" fill="#338a3f"/>
<circle cx="261.7" cy="70.5" r="1.5" fill="#9cdda1"/>
<circle cx="240.6" cy="73.0" r="1.5" fill="#96d99c"/>
<circle cx="237.9" cy="71.8" r="1.5" fill="#a7e6ac"/>
<circle cx="230.1" cy="71.8" r="1.5" fill="#a6e5aa"/>
<circle cx="300.6" cy="70.5" r="1.5" fill="#489b53"/>
<circle cx="256.5" cy="71.8" r="1.5" fill="#a7e6ab"/>
<circle cx="330.4" cy="68.0" r="1.5" fill="#459850"/>
<circle cx="261.0" cy="70.5" r="1.5" fill="#7ac382"/>
<circle cx="311.2" cy="73.0" r="1.5" fill="#4b9d56"/>
<circle cx="274.5" cy="71.8" r="1.5" fill="#9cdea1"/>
<circle cx="245.9" cy="73.0" r="1.5" fill="#98db9e"/>
<circle cx="259.8" cy="70.5" r="1.5" fill="#88ce8f"/>
<circle cx="334.1" cy="71.8" r="1.5" fill="#50a25b"/>
<circle cx="308.6" cy="69.3" r="1.5" fill="#3b9047"/>
<circle cx="302.0" cy="73.0" r="1.5" fill="#388e44"/>
<circle cx="252.0" cy="73.0" r="1.5" fill="#96d99c"/>
<circle cx="265.7" cy="71.8" r="1.5" fill="#9cdda1"/>
<circle cx="306.8" cy="69.3" r="1.5" fill="#348a40"/>
<circle cx="254.8" cy="70.5" r="1.5" fill="#a5e4a9"/>
<circle cx="264.7" cy="74.3" r="1.5" fill="#9bdca0"/>
<circle cx="334.2" cy="73.0" r="1.5" fill="#499b54"/>
<circle cx="321.7" cy="71.8" r="1.5" fill="#3f934a"/>
<circle cx="319.1" cy="71.8" r="1.5" fill="#4c9f57"/>
<circle cx="317.1" cy="74.3" r="1.5" fill="#348a40"/>
<circle cx="337.5" cy="71.8" r="1.5" fill="#4fa15a"/>
<circle cx="298.2" cy="73.0" r="1.5" fill="#3e9249"/>
<circle cx="309.2" cy="78.0" r="1.5" fill="#4a9c55"/>
<circle cx="331.3" cy="74.3" r="1.5" fill="#358b40"/>
<circle cx="306.7" cy="73.0" r="1.5" fill="#4ea059"/>
<circle cx="298.5" cy="71.8" r="1.5" fill="#3a8f46"/>
<circle cx="326.7" cy="71.8" r="1.5" fill="#4a9d55"/>
<circle cx="265.1" cy="73.0" r="1.5" fill="#9cdda1"/>
<circle cx="322.2" cy="70.5" r="1.5" fill="#44984f"/>
<circle cx="265.1" cy="71.8" r="1.5" fill="#96d99c"/>
<circle cx="303.2" cy="73.0" r="1.5" fill="#459850"/>
<circle cx="302.2" cy="75.5" r="1.5" fill="#388e44"/>
<circle cx="297.8" cy="71.8" r="1.5" fill="#469a52"/>
<circle cx="249.3" cy="73.0" r="1.5" fill="#a5e4a9"/>
<circle cx="329.0" cy="71.8" r="1.5" fill="#3d9249"/>
<circle cx="310.5" cy="71.8" r="1.5" fill="#479a52"/>
<circle cx="264.0" cy="73.0" r="1.5" fill="#459850"/>
<circle cx="322.6" cy="73.0" r="1.5" fill="#348a3f"/>
<circle cx="251.8" cy="70.5" r="1.5" fill="#9bdda1"/>
<circle cx="309.4" cy="74.3" r="1.5" fill="#3d9248"/>
<circle cx="333.2" cy="71.8" r="1.5" fill="#4b9d56"/>
<circle cx="304.9" cy="75.5" r="1.5" fill="#3f934a"/>
<circle cx="249.6" cy="71.8" r="1.5" fill="#a4e3a8"/>
<circle cx="332.9" cy="73.0" r="1.5" fill="#4a9d55"/>
<circle cx="307.5" cy="70.5" r="1.5" fill="#499c54"/>
<circle cx="325.3" cy="71.8" r="1.5" fill="#3b9046"/>
<circle cx="227.0" cy="71.8" r="1.5" fill="#a0e1a5"/>
<circle cx="247.6" cy="73.0" r="1.5" fill="#a0e1a5"/>
<circle cx="299.8" cy="73.0" r="1.5" fill="#388d43"/>
<circle cx="250.7" cy="71.8" r="1.5" fill="#a5e4a9"/>
<circle cx="315.8" cy="71.8" r="1.5" fill="#4c9e57"/>
<circle cx="319.0" cy="73.0" r="1.5" fill="#43974e"/>
<circle cx="315.8" cy="73.0" r="1.5" fill="#378c43"/>
<circle cx="310.9" cy="70.5" r="1.5" fill="#3f934a"/>
<circle cx="263.4" cy="73.0" r="1.5" fill="#52a35d"/>
<circle cx="303.7" cy="70.5" r="1.5" fill="#398e45"/>
<circle cx="318.9" cy="70.5" r="1.5" fill="#41954c"/>
<circle cx="317.9" cy="74.3" r="1.5" fill="#499c54"/>
<circle cx="323.2" cy="74.3" r="1.5" fill="#4d9f58"/>
<circle cx="246.6" cy="73.0" r="1.5" fill="#9cdda1"/>
<circle cx="327.8" cy="73.0" r="1.5" fill="#3a8f46"/>
<circle cx="263.5" cy="71.8" r="1.5" fill="#9ddea2"/>
<circle cx="310.3" cy="74.3" r="1.5" fill="#4fa15a"/>
<circle cx="310.1" cy="69.3" r="1.5" fill="#3b9046"/>
<circle cx="255.9" cy="74.3" r="1.5" fill="#a4e4a9"/>
<circle cx="312.9" cy="74.3" r="1.5" fill="#348a40"/>
<circle cx="250.7" cy="74.3" r="1.5" fill="#98db9e"/>
<circle cx="324.8" cy="73.0" r="1.5" fill="#368c42"/>
<circle cx="313.5" cy="70.5" r="1.5" fill="#398e44"/>
<circle cx="276.5" cy="71.8" r="1.5" fill="#9fe0a4"/>
<circle cx="299.8" cy="70.5" r="1.5" fill="#51a25c"/>
<circle cx="251.7" cy="74.3" r="1.5" fill="#9edfa3"/>
<circle cx="317.7" cy="70.5" r="1.5" fill="#499c54"/>
<circle cx="314.0" cy="71.8" r="1.5" fill="#3d9249"/>
<circle cx="260.3" cy="71.8" r="1.5" fill="#81c989"/>
<circle cx="307.1" cy="71.8" r="1.5" fill="#489b53"/>
<circle cx="249.3" cy="71.8" r="1.5" fill="#96d99c"/>
<circle cx="319.4" cy="74.3" r="1.5" fill="#388e44"/>
<circle cx="317.9" cy="73.0" r="1.5" fill="#33893f"/>
<circle cx="331.9" cy="70.5" r="1.5" fill="#499c54"/>
<circle cx="326.8" cy="73.0" r="1.5" fill="#4ea059"/>
<circle cx="323.1" cy="69.3" r="1.5" fill="#499c54"/>
<circle cx="298.1" cy="70.5" r="1.5" fill="#388d44"/>
<circle cx="306.1" cy="74.3" r="1.5" fill="#4c9e57"/>
<circle cx="334.5" cy="70.5" r="1.5" fill="#4d9f58"/>
<circle cx="312.4" cy="69.3" r="1.5" fill="#50a15b"/>
<circle cx="302.0" cy="70.5" r="1.5" fill="#398e44"/>
<circle cx="283.1" cy="71.8" r="1.5" fill="#a6e5aa"/>
<circle cx="326.0" cy="73.0" r="1.5" fill="#41954c"/>
<circle cx="337.4" cy="73.0" r="1.5" fill="#348a40"/>
<circle cx="244.1" cy="71.8" r="1.5" fill="#99db9f"/>
<circle cx="307.7" cy="74.3" r="1.5" fill="#4b9d56"/>
<circle cx="252.9" cy="71.8" r="1.5" fill="#99db9f"/>
<circle cx="236.9" cy="71.8" r="1.5" fill="#a3e3a7"/>
<circle cx="341.0" cy="71.8" r="1.5" fill="#489b53"/>
<circle cx="242.5" cy="73.0" r="1.5" fill="#a3e3a8"/>
<circle cx="265.1" cy="70.5" r="1.5" fill="#9adca0"/>
<circle cx="259.2" cy="71.8" r="1.5" fill="#a6e5aa"/>
<circle cx="325.5" cy="70.5" r="1.5" fill="#40944c"/>
<circle cx="263.6" cy="70.5" r="1.5" fill="#4c9e57"/>
<circle cx="262.5" cy="70.5" r="1.5" fill="#69b673"/>
<circle cx="304.6" cy="74.3" r="1.5" fill="#4a9d55"/>
<circle cx="271.9" cy="71.8" r="1.5" fill="#99db9e"/>
<circle cx="307.6" cy="69.3" r="1.5" fill="#4ea059"/>
<circle cx="271.1" cy="71.8" r="1.5" fill="#a7e5ab"/>
<circle cx="261.3" cy="73.0" r="1.5" fill="#87cd8e"/>
<circle cx="330.7" cy="71.8" r="1.5" fill="#469a51"/>
<circle cx="324.9" cy="70.5" r="1.5" fill="#3b9046"/>
<circle cx="253.1" cy="73.0" r="1.5" fill="#97d99c"/>
<circle cx="283.8" cy="71.8" r="1.5" fill="#96d99c"/>
<circle cx="330.4" cy="71.8" r="1.5" fill="#3e934a"/>
<circle cx="232.3" cy="71.8" r="1.5" fill="#9bdda1"/>
<circle cx="299.3" cy="73.0" r="1.5" fill="#4c9e57"/>
<circle cx="309.4" cy="68.0" r="1.5" fill="#4ea059"/>
<circle cx="332.4" cy="73.0" r="1.5" fill="#33893f"/>
<circle cx="318.9" cy="69.3" r="1.5" fill="#489b53"/>
<circle cx="296.8" cy="73.0" r="1.5" fill="#43974e"/>
<circle cx="302.0" cy="74.3" r="1.5" fill="#40944c"/>
<circle cx="313.2" cy="73.0" r="1.5" fill="#459950"/>
<circle cx="304.7" cy="70.5" r="1.5" fill="#41954c"/>
<circle cx="243.3" cy="71.8" r="1.5" fill="#9bdca0"/>
<circle cx="309.6" cy="75.5" r="1.5" fill="#32893e"/>
<circle cx="329.9" cy="69.3" r="1.5" fill="#459850"/>
<circle cx="330.9" cy="73.0" r="1.5" fill="#469a52"/>
<circle cx="310.3" cy="70.5" r="1.5" fill="#358b41"/>
<circle cx="329.4" cy="68.0" r="1.5" fill="#4d9f58"/>
<circle cx="318.3" cy="71.8" r="1.5" fill="#4d9f58"/>
<circle cx="298.9" cy="74.3" r="1.5" fill="#499c54"/>
<circle cx="319.7" cy="71.8" r="1.5" fill="#358b40"/>
<circle cx="203.0" cy="71.8" r="1.5" fill="#9edfa3"/>
<circle cx="207.0" cy="71.8" r="1.5" fill="#9edfa3"/>
<circle cx="217.0" cy="71.8" r="1.5" fill="#9edfa3"/>
<circle cx="347.0" cy="71.8" r="1.5" fill="#41954d"/>
</g>
<g>
<circle cx="309.8" cy="89.9" r="1.5" fill="#73be7c"/>
<circle cx="266.6" cy="89.9" r="1.5" fill="#43974e"/>
<circle cx="282.7" cy="88.7" r="1.5" fill="#469951"/>
<circle cx="307.9" cy="89.9" r="1.5" fill="#8fd496"/>
<circle cx="262.1" cy="93.7" r="1.5" fill="#8ed395"/>
<circle cx="300.2" cy="89.9" r="1.5" fill="#77c17f"/>
<circle cx="280.7" cy="92.4" r="1.5" fill="#6ebb78"/>
<circle cx="272.6" cy="94.9" r="1.5" fill="#6db976"/>
<circle cx="287.4" cy="93.7" r="1.5" fill="#469a52"/>
<circle cx="270.2" cy="91.2" r="1.5" fill="#89cf90"/>
<circle cx="311.8" cy="93.7" r="1.5" fill="#67b571"/>
<circle cx="273.5" cy="89.9" r="1.5" fill="#4d9f58"/>
<circle cx="330.7" cy="92.4" r="1.5" fill="#67b571"/>
<circle cx="305.7" cy="94.9" r="1.5" fill="#97d99d"/>
<circle cx="268.5" cy="89.9" r="1.5" fill="#94d79a"/>
<circle cx="293.9" cy="89.9" r="1.5" fill="#9adc9f"/>
<circle cx="298.4" cy="89.9" r="1.5" fill="#71bd7a"/>
<circle cx="322.3" cy="93.7" r="1.5" fill="#60af6a"/>
<circle cx="266.5" cy="93.7" r="1.5" fill="#7dc686"/>
<circle cx="289.7" cy="88.7" r="1.5" fill="#75c07e"/>
<circle cx="304.1" cy="91.2" r="1.5" fill="#79c381"/>
<circle cx="324.8" cy="91.2" r="1.5" fill="#5eae69"/>
<circle cx="281.7" cy="87.4" r="1.5" fill="#3c9148"/>
<circle cx="275.1" cy="92.4" r="1.5" fill="#388d43"/>
<circle cx="290.6" cy="91.2" r="1.5" fill="#7dc685"/>
<circle cx="304.9" cy="89.9" r="1.5" fill="#80c887"/>
<circle cx="291.1" cy="92.4" r="1.5" fill="#82ca8a"/>
<circle cx="309.5" cy="91.2" r="1.5" fill="#93d699"/>
<circle cx="294.5" cy="94.9" r="1.5" fill="#7cc584"/>
<circle cx="283.6" cy="89.9" r="1.5" fill="#71bd7a"/>
<circle cx="317.0" cy="91.2" r="1.5" fill="#58a862"/>
<circle cx="332.1" cy="91.2" r="1.5" fill="#63b26d"/>
<circle cx="275.0" cy="91.2" r="1.5" fill="#7fc787"/>
<circle cx="329.9" cy="91.2" r="1.5" fill="#55a65f"/>
<circle cx="299.0" cy="88.7" r="1.5" fill="#6ebb78"/>
<circle cx="289.4" cy="91.2" r="1.5" fill="#378d43"/>
<circle cx="306.2" cy="92.4" r="1.5" fill="#7cc584"/>
<circle cx="327.0" cy="92.4" r="1.5" fill="#5bab66"/>
<circle cx="320.0" cy="89.9" r="1.5" fill="#63b26d"/>
<circle cx="267.4" cy="92.4" r="1.5" fill="#4c9e57"/>
<circle cx="306.9" cy="91.2" r="1.5" fill="#8bd091"/>
<circle cx="302.0" cy="93.7" r="1.5" fill="#91d597"/>
<circle cx="300.4" cy="94.9" r="1.5" fill="#8bd192"/>
<circle cx="257.4" cy="91.2" r="1.5" fill="#a4e3a8"/>
<circle cx="318.1" cy="92.4" r="1.5" fill="#67b571"/>
<circle cx="274.9" cy="93.7" r="1.5" fill="#92d698"/>
<circle cx="263.8" cy="91.2" r="1.5" fill="#97da9d"/>
<circle cx="276.6" cy="91.2" r="1.5" fill="#54a55e"/>
<circle cx="282.9" cy="89.9" r="1.5" fill="#79c382"/>
<circle cx="314.8" cy="93.7" r="1.5" fill="#4fa15a"/>
<circle cx="329.4" cy="93.7" r="1.5" fill="#68b672"/>
<circle cx="297.4" cy="91.2" r="1.5" fill="#9cdea2"/>
<circle cx="253.8" cy="91.2" r="1.5" fill="#8fd496"/>
<circle cx="265.8" cy="89.9" r="1.5" fill="#a2e2a7"/>
<circle cx="304.3" cy="89.9" r="1.5" fill="#90d597"/>
<circle cx="308.8" cy="92.4" r="1.5" fill="#76c07e"/>
<circle cx="323.1" cy="92.4" r="1.5" fill="#65b470"/>
<circle cx="292.6" cy="96.2" r="1.5" fill="#7bc584"/>
<circle cx="258.8" cy="92.4" r="1.5" fill="#9adc9f"/>
<circle cx="269.2" cy="92.4" r="1.5" fill="#50a25b"/>
<circle cx="317.1" cy="92.4" r="1.5" fill="#51a35c"/>
<circle cx="295.9" cy="91.2" r="1.5" fill="#98da9e"/>
<circle cx="275.6" cy="93.7" r="1.5" fill="#54a55f"/>
<circle cx="264.6" cy="93.7" r="1.5" fill="#8fd395"/>
<circle cx="289.9" cy="91.2" r="1.5" fill="#83ca8a"/>
<circle cx="289.1" cy="89.9" r="1.5" fill="#388e44"/>
<circle cx="272.8" cy="91.2" r="1.5" fill="#469951"/>
<circle cx="333.7" cy="92.4" r="1.5" fill="#68b672"/>
<circle cx="272.3" cy="92.4" r="1.5" fill="#79c382"/>
<circle cx="293.3" cy="94.9" r="1.5" fill="#7cc584"/>
<circle cx="294.8" cy="94.9" r="1.5" fill="#7ac483"/>
<circle cx="295.4" cy="93.7" r="1.5" fill="#83ca8b"/>
<circle cx="332.2" cy="92.4" r="1.5" fill="#52a35d"/>
<circle cx="288.2" cy="92.4" r="1.5" fill="#499c54"/>
<circle cx="266.3" cy="91.2" r="1.5" fill="#91d597"/>
<circle cx="329.5" cy="91.2" r="1.5" fill="#479a52"/>
<circle cx="285.7" cy="89.9" r="1.5" fill="#6ab774"/>
<circle cx="288.0" cy="89.9" r="1.5" fill="#61b06b"/>
<circle cx="284.7" cy="93.7" r="1.5" fill="#55a65f"/>
<circle cx="291.7" cy="92.4" r="1.5" fill="#7fc787"/>
<circle cx="292.9" cy="89.9" r="1.5" fill="#9adca0"/>
<circle cx="314.9" cy="91.2" r="1.5" fill="#42964d"/>
<circle cx="312.1" cy="92.4" r="1.5" fill="#5ead68"/>
<circle cx="289.1" cy="88.7" r="1.5" fill="#56a760"/>
<circle cx="280.5" cy="92.4" r="1.5" fill="#6bb875"/>
<circle cx="290.4" cy="89.9" r="1.5" fill="#97da9d"/>
<circle cx="336.5" cy="91.2" r="1.5" fill="#489b53"/>
<circle cx="278.9" cy="89.9" r="1.5" fill="#53a45e"/>
<circle cx="320.3" cy="93.7" r="1.5" fill="#60af6a"/>
<circle cx="323.9" cy="91.2" r="1.5" fill="#5faf69"/>
<circle cx="315.6" cy="93.7" r="1.5" fill="#4a9d55"/>
<circle cx="271.3" cy="89.9" r="1.5" fill="#98da9e"/>
<circle cx="256.9" cy="92.4" r="1.5" fill="#9adca0"/>
<circle cx="328.4" cy="92.4" r="1.5" fill="#4a9c55"/>
<circle cx="324.7" cy="92.4" r="1.5" fill="#57a862"/>
<circle cx="256.0" cy="91.2" r="1.5" fill="#8fd495"/>
<circle cx="319.2" cy="89.9" r="1.5" fill="#56a660"/>
<circle cx="290.7" cy="88.7" r="1.5" fill="#91d598"/>
<circle cx="257.6" cy="91.2" r="1.5" fill="#9adca0"/>
<circle cx="270.1" cy="92.4" r="1.5" fill="#63b16d"/>
<circle cx="279.5" cy="91.2" r="1.5" fill="#62b16c"/>
<circle cx="328.5" cy="92.4" r="1.5" fill="#5cac67"/>
<circle cx="317.2" cy="93.7" r="1.5" fill="#5bab66"/>
<circle cx="266.2" cy="92.4" r="1.5" fill="#9fe0a4"/>
<circle cx="326.1" cy="92.4" r="1.5" fill="#60af6a"/>
<circle cx="265.2" cy="91.2" r="1.5" fill="#a4e3a8"/>
<circle cx="296.3" cy="88.7" r="1.5" fill="#84cb8b"/>
<circle cx="329.9" cy="89.9" r="1.5" fill="#59a963"/>
<circle cx="272.4" cy="89.9" r="1.5" fill="#77c17f"/>
<circle cx="309.4" cy="89.9" r="1.5" fill="#96d99b"/>
<circle cx="322.4" cy="91.2" r="1.5" fill="#57a862"/>
<circle cx="296.9" cy="92.4" r="1.5" fill="#92d699"/>
<circle cx="261.8" cy="89.9" r="1.5" fill="#93d799"/>
<circle cx="276.2" cy="91.2" r="1.5" fill="#8bd092"/>
<circle cx="298.5" cy="93.7" r="1.5" fill="#89cf90"/>
<circle cx="280.2" cy="93.7" r="1.5" fill="#78c281"/>
<circle cx="290.9" cy="89.9" r="1.5" fill="#71bd7a"/>
<circle cx="290.2" cy="92.4" r="1.5" fill="#8cd293"/>
<circle cx="322.4" cy="92.4" r="1.5" fill="#60af6a"/>
<circle cx="270.8" cy="92.4" r="1.5" fill="#55a660"/>
<circle cx="268.0" cy="92.4" r="1.5" fill="#53a45e"/>
<circle cx="268.7" cy="93.7" r="1.5" fill="#88cf8f"/>
<circle cx="254.9" cy="89.9" r="1.5" fill="#96d99c"/>
<circle cx="290.9" cy="93.7" r="1.5" fill="#92d699"/>
<circle cx="315.6" cy="89.9" r="1.5" fill="#62b16c"/>
<circle cx="296.9" cy="93.7" r="1.5" fill="#6fbb78"/>
<circle cx="269.4" cy="91.2" r="1.5" fill="#8dd294"/>
<circle cx="281.7" cy="92.4" r="1.5" fill="#80c888"/>
<circle cx="285.9" cy="91.2" r="1.5" fill="#5aaa64"/>
<circle cx="283.3" cy="92.4" r="1.5" fill="#86cd8e"/>
<circle cx="261.7" cy="91.2" r="1.5" fill="#98da9e"/>
<circle cx="254.6" cy="91.2" r="1.5" fill="#8cd293"/>
<circle cx="284.6" cy="89.9" r="1.5" fill="#60af6a"/>
<circle cx="281.0" cy="91.2" r="1.5" fill="#8ed294"/>
<circle cx="293.1" cy="88.7" r="1.5" fill="#75c07d"/>
<circle cx="332.6" cy="92.4" r="1.5" fill="#66b470"/>
<circle cx="306.5" cy="88.7" r="1.5" fill="#77c180"/>
<circle cx="309.4" cy="91.2" r="1.5" fill="#7bc584"/>
<circle cx="259.3" cy="89.9" r="1.5" fill="#a3e3a8"/>
<circle cx="258.8" cy="91.2" r="1.5" fill="#99db9e"/>
<circle cx="274.7" cy="88.7" r="1.5" fill="#70bc7a"/>
<circle cx="267.6" cy="93.7" r="1.5" fill="#3e934a"/>
<circle cx="258.3" cy="92.4" r="1.5" fill="#a1e1a6"/>
<circle cx="296.5" cy="89.9" r="1.5" fill="#7dc685"/>
<circle cx="267.5" cy="91.2" r="1.5" fill="#3f934a"/>
<circle cx="326.5" cy="91.2" r="1.5" fill="#5cac67"/>
<circle cx="278.7" cy="92.4" r="1.5" fill="#7dc685"/>
<circle cx="294.5" cy="91.2" r="1.5" fill="#84cb8b"/>
<circle cx="337.7" cy="91.2" r="1.5" fill="#42964e"/>
<circle cx="310.6" cy="92.4" r="1.5" fill="#81c989"/>
<circle cx="282.2" cy="91.2" r="1.5" fill="#3b9047"/>
<circle cx="305.8" cy="91.2" r="1.5" fill="#7cc584"/>
<circle cx="273.1" cy="88.7" r="1.5" fill="#469951"/>
<circle cx="255.7" cy="92.4" r="1.5" fill="#91d597"/>
<circle cx="325.8" cy="93.7" r="1.5" fill="#469a52"/>
<circle cx="320.9" cy="91.2" r="1.5" fill="#44974f"/>
<circle cx="314.3" cy="91.2" r="1.5" fill="#479a52"/>
<circle cx="306.8" cy="93.7" r="1.5" fill="#7bc584"/>
<circle cx="277.7" cy="89.9" r="1.5" fill="#71bd7a"/>
<circle cx="290.7" cy="94.9" r="1.5" fill="#70bc79"/>
<circle cx="301.4" cy="94.9" r="1.5" fill="#88ce8f"/>
<circle cx="280.5" cy="89.9" r="1.5" fill="#64b26e"/>
<circle cx="317.1" cy="89.9" r="1.5" fill="#4fa159"/>
<circle cx="295.2" cy="87.4" r="1.5" fill="#79c382"/>
<circle cx="302.5" cy="91.2" r="1.5" fill="#88ce8f"/>
<circle cx="284.8" cy="92.4" r="1.5" fill="#89cf90"/>
<circle cx="320.5" cy="93.7" r="1.5" fill="#62b16c"/>
<circle cx="314.8" cy="89.9" r="1.5" fill="#67b571"/>
<circle cx="259.9" cy="89.9" r="1.5" fill="#a1e1a6"/>
<circle cx="281.5" cy="89.9" r="1.5" fill="#8bd092"/>
<circle cx="271.5" cy="91.2" r="1.5" fill="#55a660"/>
<circle cx="270.9" cy="91.2" r="1.5" fill="#80c887"/>
<circle cx="271.4" cy="88.7" r="1.5" fill="#94d79a"/>
<circle cx="306.6" cy="89.9" r="1.5" fill="#82ca89"/>
<circle cx="326.8" cy="91.2" r="1.5" fill="#489b53"/>
<circle cx="287.5" cy="91.2" r="1.5" fill="#74bf7d"/>
<circle cx="273.6" cy="92.4" r="1.5" fill="#3c9147"/>
<circle cx="309.3" cy="93.7" r="1.5" fill="#84cb8b"/>
<circle cx="290.1" cy="93.7" r="1.5" fill="#85cc8c"/>
<circle cx="257.4" cy="89.9" r="1.5" fill="#9cdda1"/>
<circle cx="270.5" cy="94.9" r="1.5" fill="#5dad67"/>
<circle cx="288.6" cy="93.7" r="1.5" fill="#489b53"/>
<circle cx="331.2" cy="89.9" r="1.5" fill="#499c54"/>
<circle cx="267.9" cy="89.9" r="1.5" fill="#348a40"/>
<circle cx="288.0" cy="93.7" r="1.5" fill="#64b26e"/>
<circle cx="254.3" cy="92.4" r="1.5" fill="#8ed395"/>
<circle cx="305.3" cy="91.2" r="1.5" fill="#8fd496"/>
<circle cx="307.4" cy="92.4" r="1.5" fill="#79c381"/>
<circle cx="275.5" cy="89.9" r="1.5" fill="#53a45e"/>
<circle cx="299.7" cy="92.4" r="1.5" fill="#9cdea2"/>
<circle cx="278.3" cy="92.4" r="1.5" fill="#378c42"/>
<circle cx="292.3" cy="91.2" r="1.5" fill="#93d799"/>
<circle cx="270.0" cy="93.7" r="1.5" fill="#82ca8a"/>
<circle cx="327.1" cy="93.7" r="1.5" fill="#4ea059"/>
<circle cx="314.1" cy="92.4" r="1.5" fill="#65b36f"/>
<circle cx="285.0" cy="91.2" r="1.5" fill="#69b672"/>
<circle cx="303.9" cy="92.4" r="1.5" fill="#80c887"/>
<circle cx="333.4" cy="91.2" r="1.5" fill="#66b470"/>
<circle cx="293.9" cy="93.7" r="1.5" fill="#80c888"/>
<circle cx="252.7" cy="91.2" r="1.5" fill="#a3e2a7"/>
<circle cx="265.3" cy="92.4" r="1.5" fill="#93d799"/>
<circle cx="285.5" cy="93.7" r="1.5" fill="#74bf7d"/>
<circle cx="329.5" cy="89.9" r="1.5" fill="#64b26e"/>
<circle cx="311.5" cy="91.2" r="1.5" fill="#7bc483"/>
<circle cx="327.6" cy="91.2" r="1.5" fill="#60af6a"/>
<circle cx="323.9" cy="92.4" r="1.5" fill="#459850"/>
<circle cx="311.4" cy="89.9" r="1.5" fill="#77c180"/>
<circle cx="326.7" cy="89.9" r="1.5" fill="#469951"/>
<circle cx="301.8" cy="89.9" r="1.5" fill="#7ec786"/>
<circle cx="261.6" cy="92.4" r="1.5" fill="#99db9f"/>
<circle cx="295.2" cy="91.2" r="1.5" fill="#90d496"/>
<circle cx="316.2" cy="91.2" r="1.5" fill="#50a25b"/>
<circle cx="273.2" cy="93.7" r="1.5" fill="#54a55f"/>
<circle cx="323.2" cy="91.2" r="1.5" fill="#64b26e"/>
<circle cx="272.2" cy="93.7" r="1.5" fill="#70bc79"/>
<circle cx="334.0" cy="91.2" r="1.5" fill="#42964e"/>
<circle cx="307.7" cy="91.2" r="1.5" fill="#9adca0"/>
<circle cx="282.3" cy="94.9" r="1.5" fill="#5aaa64"/>
<circle cx="326.4" cy="89.9" r="1.5" fill="#62b16c"/>
<circle cx="302.6" cy="92.4" r="1.5" fill="#82ca8a"/>
<circle cx="286.3" cy="88.7" r="1.5" fill="#5dac67"/>
<circle cx="300.3" cy="88.7" r="1.5" fill="#96d99c"/>
<circle cx="309.9" cy="92.4" r="1.5" fill="#9cdda1"/>
<circle cx="277.1" cy="89.9" r="1.5" fill="#81c989"/>
<circle cx="277.7" cy="91.2" r="1.5" fill="#56a760"/>
<circle cx="260.7" cy="89.9" r="1.5" fill="#8dd294"/>
<circle cx="277.5" cy="93.7" r="1.5" fill="#54a55f"/>
<circle cx="270.8" cy="93.7" r="1.5" fill="#4b9e56"/>
<circle cx="295.4" cy="89.9" r="1.5" fill="#80c888"/>
<circle cx="309.6" cy="93.7" r="1.5" fill="#86cd8d"/>
<circle cx="311.8" cy="89.9" r="1.5" fill="#67b671"/>
<circle cx="262.9" cy="91.2" r="1.5" fill="#97da9d"/>
<circle cx="281.1" cy="93.7" r="1.5" fill="#3d9148"/>
<circle cx="325.3" cy="89.9" r="1.5" fill="#60af6a"/>
<circle cx="303.4" cy="89.9" r="1.5" fill="#7cc685"/>
<circle cx="300.8" cy="87.4" r="1.5" fill="#8fd395"/>
<circle cx="276.9" cy="93.7" r="1.5" fill="#8dd293"/>
<circle cx="278.6" cy="91.2" r="1.5" fill="#84cb8c"/>
<circle cx="274.7" cy="89.9" r="1.5" fill="#63b26e"/>
<circle cx="255.9" cy="89.9" r="1.5" fill="#a0e0a5"/>
<circle cx="321.4" cy="89.9" r="1.5" fill="#4b9e56"/>
<circle cx="302.6" cy="93.7" r="1.5" fill="#73be7c"/>
<circle cx="320.7" cy="92.4" r="1.5" fill="#62b16c"/>
<circle cx="305.0" cy="92.4" r="1.5" fill="#7bc483"/>
<circle cx="303.1" cy="91.2" r="1.5" fill="#8dd294"/>
<circle cx="300.8" cy="88.7" r="1.5" fill="#7bc483"/>
<circle cx="315.4" cy="92.4" r="1.5" fill="#44974f"/>
<circle cx="292.6" cy="91.2" r="1.5" fill="#83ca8a"/>
<circle cx="267.4" cy="91.2" r="1.5" fill="#71bd7a"/>
<circle cx="282.8" cy="91.2" r="1.5" fill="#4fa15a"/>
<circle cx="327.9" cy="93.7" r="1.5" fill="#4a9d55"/>
<circle cx="327.5" cy="89.9" r="1.5" fill="#4c9e57"/>
<circle cx="264.7" cy="89.9" r="1.5" fill="#9edfa3"/>
<circle cx="321.9" cy="89.9" r="1.5" fill="#459950"/>
<circle cx="294.0" cy="92.4" r="1.5" fill="#95d89b"/>
<circle cx="324.4" cy="89.9" r="1.5" fill="#4fa159"/>
<circle cx="295.6" cy="93.7" r="1.5" fill="#81c989"/>
<circle cx="276.0" cy="92.4" r="1.5" fill="#69b773"/>
<circle cx="280.2" cy="89.9" r="1.5" fill="#69b773"/>
<circle cx="295.5" cy="89.9" r="1.5" fill="#7bc584"/>
<circle cx="263.2" cy="89.9" r="1.5" fill="#92d698"/>
<circle cx="273.4" cy="92.4" r="1.5" fill="#8fd496"/>
<circle cx="282.3" cy="93.7" r="1.5" fill="#4c9e57"/>
<circle cx="308.5" cy="93.7" r="1.5" fill="#88ce8f"/>
<circle cx="295.4" cy="92.4" r="1.5" fill="#8acf91"/>
<circle cx="318.9" cy="93.7" r="1.5" fill="#4a9d55"/>
<circle cx="285.6" cy="94.9" r="1.5" fill="#67b571"/>
<circle cx="334.6" cy="92.4" r="1.5" fill="#55a65f"/>
<circle cx="281.7" cy="88.7" r="1.5" fill="#7cc584"/>
<circle cx="264.1" cy="89.9" r="1.5" fill="#94d79a"/>
<circle cx="293.1" cy="92.4" r="1.5" fill="#85cc8d"/>
<circle cx="331.5" cy="91.2" r="1.5" fill="#469951"/>
<circle cx="315.6" cy="92.4" r="1.5" fill="#5bab66"/>
<circle cx="300.3" cy="91.2" r="1.5" fill="#74bf7d"/>
<circle cx="262.6" cy="92.4" r="1.5" fill="#98da9d"/>
<circle cx="294.7" cy="88.7" r="1.5" fill="#74bf7d"/>
<circle cx="323.4" cy="89.9" r="1.5" fill="#58a963"/>
<circle cx="282.9" cy="93.7" r="1.5" fill="#63b26d"/>
<circle cx="297.7" cy="92.4" r="1.5" fill="#92d698"/>
<circle cx="318.1" cy="93.7" r="1.5" fill="#4d9f58"/>
<circle cx="293.5" cy="88.7" r="1.5" fill="#9cdda1"/>
<circle cx="312.8" cy="92.4" r="1.5" fill="#4ea059"/>
<circle cx="307.2" cy="88.7" r="1.5" fill="#83ca8a"/>
<circle cx="308.1" cy="92.4" r="1.5" fill="#72bd7b"/>
<circle cx="252.5" cy="91.2" r="1.5" fill="#96d99c"/>
<circle cx="306.4" cy="93.7" r="1.5" fill="#86cd8d"/>
<circle cx="292.2" cy="89.9" r="1.5" fill="#7ec786"/>
<circle cx="318.5" cy="92.4" r="1.5" fill="#63b26d"/>
<circle cx="304.4" cy="93.7" r="1.5" fill="#74bf7d"/>
<circle cx="330.0" cy="92.4" r="1.5" fill="#4b9d56"/>
<circle cx="320.1" cy="92.4" r="1.5" fill="#44974f"/>
<circle cx="300.9" cy="91.2" r="1.5" fill="#85cc8d"/>
<circle cx="260.9" cy="92.4" r="1.5" fill="#93d699"/>
<circle cx="257.7" cy="89.9" r="1.5" fill="#9cdda1"/>
<circle cx="265.9" cy="93.7" r="1.5" fill="#90d597"/>
<circle cx="270.1" cy="89.9" r="1.5" fill="#3a9046"/>
<circle cx="278.9" cy="88.7" r="1.5" fill="#6bb875"/>
<circle cx="284.5" cy="92.4" r="1.5" fill="#3d9148"/>
<circle cx="297.6" cy="91.2" r="1.5" fill="#87cd8e"/>
<circle cx="286.4" cy="92.4" r="1.5" fill="#378c42"/>
<circle cx="311.5" cy="91.2" r="1.5" fill="#4c9f57"/>
<circle cx="284.3" cy="91.2" r="1.5" fill="#8ed394"/>
<circle cx="252.7" cy="92.4" r="1.5" fill="#9fdfa4"/>
<circle cx="273.4" cy="89.9" r="1.5" fill="#6fbc79"/>
<circle cx="301.1" cy="89.9" r="1.5" fill="#98da9d"/>
<circle cx="299.5" cy="92.4" r="1.5" fill="#92d698"/>
<circle cx="298.8" cy="89.9" r="1.5" fill="#79c382"/>
<circle cx="274.0" cy="91.2" r="1.5" fill="#6fbb78"/>
<circle cx="299.1" cy="91.2" r="1.5" fill="#76c17f"/>
<circle cx="300.7" cy="96.2" r="1.5" fill="#87cd8e"/>
<circle cx="318.0" cy="91.2" r="1.5" fill="#499b54"/>
<circle cx="292.0" cy="93.7" r="1.5" fill="#93d799"/>
<circle cx="301.6" cy="92.4" r="1.5" fill="#9cdda1"/>
<circle cx="300.0" cy="93.7" r="1.5" fill="#8bd192"/>
<circle cx="335.2" cy="91.2" r="1.5" fill="#62b16c"/>
<circle cx="301.3" cy="93.7" r="1.5" fill="#94d79a"/>
<circle cx="293.5" cy="87.4" r="1.5" fill="#98db9e"/>
<circle cx="319.4" cy="91.2" r="1.5" fill="#54a55e"/>
<circle cx="289.5" cy="92.4" r="1.5" fill="#42964e"/>
<circle cx="318.0" cy="89.9" r="1.5" fill="#4fa15a"/>
<circle cx="306.3" cy="89.9" r="1.5" fill="#74bf7d"/>
<circle cx="259.6" cy="91.2" r="1.5" fill="#93d799"/>
<circle cx="292.9" cy="93.7" r="1.5" fill="#9adca0"/>
<circle cx="254.1" cy="89.9" r="1.5" fill="#9ddea2"/>
<circle cx="286.8" cy="92.4" r="1.5" fill="#70bc79"/>
<circle cx="296.4" cy="92.4" r="1.5" fill="#7bc483"/>
<circle cx="320.5" cy="91.2" r="1.5" fill="#59a963"/>
<circle cx="300.8" cy="92.4" r="1.5" fill="#85cc8c"/>
<circle cx="260.9" cy="91.2" r="1.5" fill="#a0e1a5"/>
<circle cx="312.9" cy="91.2" r="1.5" fill="#4fa15a"/>
<circle cx="278.8" cy="93.7" r="1.5" fill="#8dd294"/>
<circle cx="260.3" cy="92.4" r="1.5" fill="#9edfa3"/>
<circle cx="263.9" cy="92.4" r="1.5" fill="#91d598"/>
<circle cx="287.2" cy="89.9" r="1.5" fill="#6eba77"/>
<circle cx="287.0" cy="91.2" r="1.5" fill="#57a862"/>
<circle cx="255.2" cy="92.4" r="1.5" fill="#94d79a"/>
<circle cx="277.1" cy="92.4" r="1.5" fill="#53a45d"/>
<circle cx="343.0" cy="91.2" r="1.5" fill="#3b9046"/>
</g>
<g>
<circle cx="310.5" cy="108.1" r="1.5" fill="#56a761"/>
<circle cx="312.3" cy="108.1" r="1.5" fill="#53a45e"/>
<circle cx="283.3" cy="111.8" r="1.5" fill="#459950"/>
<circle cx="298.9" cy="118.1" r="1.5" fill="#53a55e"/>
<circle cx="304.5" cy="110.6" r="1.5" fill="#5bab65"/>
<circle cx="301.2" cy="106.8" r="1.5" fill="#77c17f"/>
<circle cx="291.0" cy="111.8" r="1.5" fill="#77c17f"/>
<circle cx="294.8" cy="108.1" r="1.5" fill="#54a55f"/>
<circle cx="305.8" cy="115.6" r="1.5" fill="#57a761"/>
<circle cx="288.0" cy="113.1" r="1.5" fill="#59a963"/>
<circle cx="316.4" cy="110.6" r="1.5" fill="#64b36e"/>
<circle cx="301.3" cy="114.3" r="1.5" fill="#5cac66"/>
<circle cx="297.3" cy="110.6" r="1.5" fill="#64b36e"/>
<circle cx="294.5" cy="106.8" r="1.5" fill="#4ea059"/>
<circle cx="293.3" cy="110.6" r="1.5" fill="#65b36f"/>
<circle cx="304.7" cy="106.8" r="1.5" fill="#63b26e"/>
<circle cx="303.8" cy="113.1" r="1.5" fill="#57a862"/>
<circle cx="299.4" cy="104.3" r="1.5" fill="#5bab65"/>
<circle cx="282.8" cy="110.6" r="1.5" fill="#41954c"/>
<circle cx="295.2" cy="113.1" r="1.5" fill="#5eae68"/>
<circle cx="298.3" cy="110.6" r="1.5" fill="#60af6a"/>
<circle cx="310.8" cy="110.6" r="1.5" fill="#57a862"/>
<circle cx="306.4" cy="109.3" r="1.5" fill="#4d9f58"/>
<circle cx="305.5" cy="110.6" r="1.5" fill="#57a862"/>
<circle cx="266.7" cy="110.6" r="1.5" fill="#42964e"/>
<circle cx="305.9" cy="105.6" r="1.5" fill="#62b16c"/>
<circle cx="300.8" cy="109.3" r="1.5" fill="#5eae68"/>
<circle cx="306.2" cy="104.3" r="1.5" fill="#54a55f"/>
<circle cx="293.3" cy="109.3" r="1.5" fill="#71bd7b"/>
<circle cx="314.7" cy="111.8" r="1.5" fill="#6fbb78"/>
<circle cx="301.3" cy="111.8" r="1.5" fill="#6bb975"/>
<circle cx="308.2" cy="110.6" r="1.5" fill="#75c07d"/>
<circle cx="289.0" cy="111.8" r="1.5" fill="#7bc483"/>
<circle cx="286.8" cy="109.3" r="1.5" fill="#7ac482"/>
<circle cx="298.3" cy="111.8" r="1.5" fill="#65b36f"/>
<circle cx="312.4" cy="114.3" r="1.5" fill="#59aa64"/>
<circle cx="303.5" cy="111.8" r="1.5" fill="#64b26e"/>
<circle cx="292.5" cy="111.8" r="1.5" fill="#61b06c"/>
<circle cx="289.0" cy="110.6" r="1.5" fill="#5faf6a"/>
<circle cx="263.5" cy="110.6" r="1.5" fill="#41954d"/>
<circle cx="302.8" cy="106.8" r="1.5" fill="#54a55f"/>
<circle cx="299.0" cy="114.3" r="1.5" fill="#73be7c"/>
<circle cx="302.3" cy="113.1" r="1.5" fill="#6cb975"/>
<circle cx="295.7" cy="109.3" r="1.5" fill="#56a761"/>
<circle cx="268.9" cy="110.6" r="1.5" fill="#43974e"/>
<circle cx="286.1" cy="111.8" r="1.5" fill="#4fa15a"/>
<circle cx="300.8" cy="113.1" r="1.5" fill="#78c281"/>
<circle cx="309.1" cy="111.8" r="1.5" fill="#65b470"/>
<circle cx="298.2" cy="114.3" r="1.5" fill="#55a660"/>
<circle cx="298.7" cy="108.1" r="1.5" fill="#53a45d"/>
<circle cx="305.5" cy="108.1" r="1.5" fill="#60af6a"/>
<circle cx="301.7" cy="109.3" r="1.5" fill="#75c07e"/>
<circle cx="303.6" cy="109.3" r="1.5" fill="#5cab66"/>
<circle cx="303.5" cy="110.6" r="1.5" fill="#64b36e"/>
<circle cx="285.0" cy="110.6" r="1.5" fill="#5fae69"/>
<circle cx="303.0" cy="114.3" r="1.5" fill="#4d9f58"/>
<circle cx="290.6" cy="109.3" r="1.5" fill="#62b16c"/>
<circle cx="300.0" cy="114.3" r="1.5" fill="#51a25b"/>
<circle cx="291.7" cy="113.1" r="1.5" fill="#62b16d"/>
<circle cx="290.7" cy="113.1" r="1.5" fill="#66b470"/>
<circle cx="299.2" cy="115.6" r="1.5" fill="#4fa15a"/>
<circle cx="294.9" cy="115.6" r="1.5" fill="#4da058"/>
<circle cx="306.5" cy="113.1" r="1.5" fill="#64b36e"/>
<circle cx="305.3" cy="110.6" r="1.5" fill="#4ea058"/>
<circle cx="288.3" cy="109.3" r="1.5" fill="#53a45e"/>
<circle cx="292.2" cy="109.3" r="1.5" fill="#4fa15a"/>
<circle cx="307.3" cy="109.3" r="1.5" fill="#6dba76"/>
<circle cx="300.5" cy="108.1" r="1.5" fill="#5fae69"/>
<circle cx="300.9" cy="108.1" r="1.5" fill="#5aaa64"/>
<circle cx="289.8" cy="108.1" r="1.5" fill="#53a45e"/>
<circle cx="308.9" cy="109.3" r="1.5" fill="#4ea059"/>
<circle cx="312.4" cy="109.3" r="1.5" fill="#50a25b"/>
<circle cx="299.3" cy="116.8" r="1.5" fill="#55a660"/>
<circle cx="287.6" cy="111.8" r="1.5" fill="#6bb875"/>
<circle cx="315.4" cy="110.6" r="1.5" fill="#69b672"/>
<circle cx="264.7" cy="110.6" r="1.5" fill="#4a9d55"/>
<circle cx="296.3" cy="111.8" r="1.5" fill="#74bf7d"/>
<circle cx="300.2" cy="110.6" r="1.5" fill="#71bd7b"/>
<circle cx="307.3" cy="114.3" r="1.5" fill="#73be7c"/>
<circle cx="290.1" cy="113.1" r="1.5" fill="#7cc584"/>
<circle cx="286.8" cy="110.6" r="1.5" fill="#4c9e57"/>
<circle cx="302.4" cy="110.6" r="1.5" fill="#6ab874"/>
<circle cx="301.8" cy="111.8" r="1.5" fill="#6ab774"/>
<circle cx="299.5" cy="109.3" r="1.5" fill="#77c17f"/>
<circle cx="297.8" cy="109.3" r="1.5" fill="#64b36e"/>
<circle cx="291.8" cy="110.6" r="1.5" fill="#4d9f58"/>
<circle cx="309.3" cy="108.1" r="1.5" fill="#6dba77"/>
<circle cx="299.0" cy="106.8" r="1.5" fill="#71bd7a"/>
<circle cx="309.7" cy="110.6" r="1.5" fill="#70bc79"/>
<circle cx="304.6" cy="108.1" r="1.5" fill="#50a25b"/>
<circle cx="305.2" cy="109.3" r="1.5" fill="#64b36f"/>
<circle cx="310.1" cy="114.3" r="1.5" fill="#66b470"/>
<circle cx="310.8" cy="109.3" r="1.5" fill="#63b16d"/>
<circle cx="312.1" cy="113.1" r="1.5" fill="#78c280"/>
<circle cx="314.4" cy="111.8" r="1.5" fill="#6cb976"/>
<circle cx="297.9" cy="106.8" r="1.5" fill="#74bf7d"/>
<circle cx="278.0" cy="110.6" r="1.5" fill="#489b54"/>
<circle cx="289.1" cy="113.1" r="1.5" fill="#76c17f"/>
<circle cx="312.5" cy="111.8" r="1.5" fill="#6bb875"/>
<circle cx="291.0" cy="108.1" r="1.5" fill="#62b16d"/>
<circle cx="296.2" cy="113.1" r="1.5" fill="#4ea059"/>
<circle cx="303.0" cy="113.1" r="1.5" fill="#75c07d"/>
<circle cx="299.8" cy="106.8" r="1.5" fill="#69b773"/>
<circle cx="303.8" cy="114.3" r="1.5" fill="#6db976"/>
<circle cx="299.4" cy="111.8" r="1.5" fill="#63b16d"/>
<circle cx="304.0" cy="108.1" r="1.5" fill="#68b672"/>
<circle cx="294.1" cy="110.6" r="1.5" fill="#68b672"/>
<circle cx="304.8" cy="114.3" r="1.5" fill="#6ab874"/>
<circle cx="296.0" cy="110.6" r="1.5" fill="#75c07e"/>
<circle cx="293.2" cy="111.8" r="1.5" fill="#61b06b"/>
<circle cx="292.8" cy="113.1" r="1.5" fill="#75c07e"/>
<circle cx="284.4" cy="110.6" r="1.5" fill="#50a25b"/>
<circle cx="297.3" cy="113.1" r="1.5" fill="#5ead68"/>
<circle cx="282.4" cy="110.6" r="1.5" fill="#4b9e56"/>
<circle cx="309.4" cy="110.6" r="1.5" fill="#6fbc79"/>
<circle cx="307.4" cy="111.8" r="1.5" fill="#6bb875"/>
<circle cx="298.0" cy="108.1" r="1.5" fill="#7ac482"/>
<circle cx="306.2" cy="114.3" r="1.5" fill="#6ab773"/>
<circle cx="291.6" cy="108.1" r="1.5" fill="#78c280"/>
<circle cx="310.1" cy="109.3" r="1.5" fill="#53a45d"/>
<circle cx="289.9" cy="111.8" r="1.5" fill="#58a963"/>
<circle cx="294.6" cy="105.6" r="1.5" fill="#69b773"/>
<circle cx="300.7" cy="110.6" r="1.5" fill="#6cb976"/>
<circle cx="265.7" cy="110.6" r="1.5" fill="#40954c"/>
<circle cx="287.2" cy="111.8" r="1.5" fill="#4d9f58"/>
<circle cx="299.8" cy="113.1" r="1.5" fill="#6eba77"/>
<circle cx="306.1" cy="113.1" r="1.5" fill="#75c07e"/>
<circle cx="269.7" cy="110.6" r="1.5" fill="#4b9d56"/>
<circle cx="313.2" cy="111.8" r="1.5" fill="#5dad68"/>
<circle cx="294.1" cy="111.8" r="1.5" fill="#77c180"/>
<circle cx="307.4" cy="108.1" r="1.5" fill="#62b16d"/>
<circle cx="294.5" cy="109.3" r="1.5" fill="#4b9e56"/>
<circle cx="299.5" cy="110.6" r="1.5" fill="#6ebb77"/>
<circle cx="298.8" cy="113.1" r="1.5" fill="#55a660"/>
<circle cx="296.6" cy="108.1" r="1.5" fill="#55a660"/>
<circle cx="310.0" cy="111.8" r="1.5" fill="#4fa15a"/>
<circle cx="304.3" cy="111.8" r="1.5" fill="#58a963"/>
<circle cx="287.6" cy="108.1" r="1.5" fill="#57a862"/>
<circle cx="302.7" cy="108.1" r="1.5" fill="#7cc585"/>
<circle cx="305.6" cy="111.8" r="1.5" fill="#6dba76"/>
<circle cx="280.2" cy="110.6" r="1.5" fill="#43974e"/>
<circle cx="313.5" cy="110.6" r="1.5" fill="#5dac67"/>
<circle cx="305.8" cy="106.8" r="1.5" fill="#5dad67"/>
<circle cx="307.5" cy="110.6" r="1.5" fill="#64b36f"/>
<circle cx="283.8" cy="111.8" r="1.5" fill="#73be7c"/>
<circle cx="314.0" cy="110.6" r="1.5" fill="#69b773"/>
<circle cx="313.6" cy="109.3" r="1.5" fill="#59a964"/>
<circle cx="302.5" cy="108.1" r="1.5" fill="#50a25b"/>
<circle cx="289.6" cy="109.3" r="1.5" fill="#5cac66"/>
<circle cx="303.3" cy="109.3" r="1.5" fill="#73bf7c"/>
<circle cx="262.6" cy="110.6" r="1.5" fill="#4b9e56"/>
<circle cx="293.7" cy="113.1" r="1.5" fill="#72be7b"/>
<circle cx="298.4" cy="115.6" r="1.5" fill="#5dad67"/>
<circle cx="312.9" cy="109.3" r="1.5" fill="#56a761"/>
<circle cx="286.3" cy="110.6" r="1.5" fill="#56a761"/>
<circle cx="305.4" cy="113.1" r="1.5" fill="#7cc584"/>
<circle cx="268.2" cy="110.6" r="1.5" fill="#44974f"/>
<circle cx="308.9" cy="113.1" r="1.5" fill="#5bab65"/>
<circle cx="286.1" cy="109.3" r="1.5" fill="#6ebb77"/>
<circle cx="306.1" cy="116.8" r="1.5" fill="#4b9e56"/>
<circle cx="298.9" cy="105.6" r="1.5" fill="#59aa64"/>
<circle cx="287.8" cy="110.6" r="1.5" fill="#65b46f"/>
<circle cx="297.8" cy="113.1" r="1.5" fill="#5aaa65"/>
<circle cx="295.1" cy="111.8" r="1.5" fill="#71bd7a"/>
<circle cx="294.2" cy="109.3" r="1.5" fill="#77c17f"/>
<circle cx="307.8" cy="109.3" r="1.5" fill="#7ac482"/>
<circle cx="295.6" cy="108.1" r="1.5" fill="#59aa64"/>
<circle cx="305.2" cy="111.8" r="1.5" fill="#7ac382"/>
<circle cx="311.4" cy="111.8" r="1.5" fill="#6bb875"/>
<circle cx="307.8" cy="111.8" r="1.5" fill="#74bf7d"/>
<circle cx="284.6" cy="111.8" r="1.5" fill="#78c281"/>
<circle cx="317.1" cy="110.6" r="1.5" fill="#69b773"/>
<circle cx="308.5" cy="113.1" r="1.5" fill="#6ab874"/>
<circle cx="299.9" cy="109.3" r="1.5" fill="#4fa15a"/>
<circle cx="309.8" cy="113.1" r="1.5" fill="#56a760"/>
<circle cx="315.4" cy="109.3" r="1.5" fill="#5bab65"/>
<circle cx="296.7" cy="109.3" r="1.5" fill="#5dad67"/>
<circle cx="300.2" cy="111.8" r="1.5" fill="#55a660"/>
<circle cx="310.3" cy="108.1" r="1.5" fill="#75c07e"/>
<circle cx="272.2" cy="110.6" r="1.5" fill="#3a8f45"/>
<circle cx="297.3" cy="111.8" r="1.5" fill="#4fa15a"/>
<circle cx="289.1" cy="109.3" r="1.5" fill="#78c280"/>
<circle cx="303.8" cy="106.8" r="1.5" fill="#6ebb78"/>
<circle cx="295.0" cy="114.3" r="1.5" fill="#54a55f"/>
<circle cx="310.8" cy="113.1" r="1.5" fill="#5dad68"/>
<circle cx="294.6" cy="110.6" r="1.5" fill="#59aa64"/>
<circle cx="291.4" cy="110.6" r="1.5" fill="#78c280"/>
<circle cx="290.2" cy="110.6" r="1.5" fill="#79c381"/>
<circle cx="312.1" cy="110.6" r="1.5" fill="#6eba77"/>
<circle cx="296.4" cy="114.3" r="1.5" fill="#7cc584"/>
<circle cx="177.0" cy="110.6" r="1.5" fill="#9edfa3"/>
<circle cx="179.0" cy="110.6" r="1.5" fill="#9edfa3"/>
<circle cx="181.0" cy="110.6" r="1.5" fill="#9edfa3"/>
<circle cx="183.0" cy="110.6" r="1.5" fill="#9edfa3"/>
<circle cx="185.0" cy="110.6" r="1.5" fill="#9edfa3"/>
<circle cx="187.0" cy="110.6" r="1.5" fill="#9edfa3"/>
<circle cx="189.0" cy="110.6" r="1.5" fill="#9edfa3"/>
<circle cx="195.5" cy="110.6" r="1.5" fill="#9edfa3"/>
<circle cx="199.5" cy="110.6" r="1.5" fill="#9edfa3"/>
<circle cx="203.0" cy="110.6" r="1.5" fill="#9edfa3"/>
<circle cx="212.5" cy="110.6" r="1.5" fill="#9edfa3"/>
<circle cx="231.0" cy="110.6" r="1.5" fill="#9edfa3"/>
<circle cx="258.0" cy="110.6" r="1.5" fill="#9edfa3"/>
</g>
<g>
<circle cx="310.2" cy="129.9" r="1.5" fill="#90d496"/>
<circle cx="253.5" cy="129.9" r="1.5" fill="#479a52"/>
<circle cx="297.7" cy="131.2" r="1.5" fill="#a4e3a8"/>
<circle cx="294.1" cy="131.2" r="1.5" fill="#8dd294"/>
<circle cx="296.2" cy="124.9" r="1.5" fill="#9bdca0"/>
<circle cx="290.8" cy="128.7" r="1.5" fill="#64b36e"/>
<circle cx="281.9" cy="129.9" r="1.5" fill="#72bd7b"/>
<circle cx="299.9" cy="131.2" r="1.5" fill="#8dd294"/>
<circle cx="328.9" cy="131.2" r="1.5" fill="#96d99c"/>
<circle cx="304.5" cy="129.9" r="1.5" fill="#95d89b"/>
<circle cx="304.1" cy="124.9" r="1.5" fill="#91d597"/>
<circle cx="297.4" cy="127.4" r="1.5" fill="#9fdfa4"/>
<circle cx="316.8" cy="129.9" r="1.5" fill="#9bdda0"/>
<circle cx="254.5" cy="129.9" r="1.5" fill="#499c54"/>
<circle cx="311.2" cy="131.2" r="1.5" fill="#9adca0"/>
<circle cx="305.5" cy="131.2" r="1.5" fill="#94d79a"/>
<circle cx="309.8" cy="132.4" r="1.5" fill="#99db9e"/>
<circle cx="315.9" cy="132.4" r="1.5" fill="#8fd496"/>
<circle cx="298.8" cy="132.4" r="1.5" fill="#a3e2a7"/>
<circle cx="298.1" cy="132.4" r="1.5" fill="#94d79a"/>
<circle cx="311.3" cy="132.4" r="1.5" fill="#9edfa3"/>
<circle cx="269.1" cy="129.9" r="1.5" fill="#3b9047"/>
<circle cx="311.6" cy="128.7" r="1.5" fill="#93d799"/>
<circle cx="327.7" cy="129.9" r="1.5" fill="#94d89a"/>
<circle cx="287.5" cy="129.9" r="1.5" fill="#63b26d"/>
<circle cx="292.0" cy="129.9" r="1.5" fill="#9bdda1"/>
<circle cx="296.1" cy="132.4" r="1.5" fill="#a2e2a7"/>
<circle cx="304.5" cy="132.4" r="1.5" fill="#a0e0a5"/>
<circle cx="279.2" cy="131.2" r="1.5" fill="#72be7b"/>
<circle cx="309.7" cy="131.2" r="1.5" fill="#94d79a"/>
<circle cx="265.4" cy="129.9" r="1.5" fill="#499c54"/>
<circle cx="284.5" cy="127.4" r="1.5" fill="#88ce8f"/>
<circle cx="301.6" cy="128.7" r="1.5" fill="#a4e3a8"/>
<circle cx="293.1" cy="131.2" r="1.5" fill="#91d598"/>
<circle cx="313.4" cy="131.2" r="1.5" fill="#9adc9f"/>
<circle cx="311.3" cy="128.7" r="1.5" fill="#96d99c"/>
<circle cx="308.4" cy="129.9" r="1.5" fill="#99db9f"/>
<circle cx="304.4" cy="126.2" r="1.5" fill="#99db9e"/>
<circle cx="302.6" cy="129.9" r="1.5" fill="#93d799"/>
<circle cx="322.6" cy="129.9" r="1.5" fill="#92d698"/>
<circle cx="306.3" cy="128.7" r="1.5" fill="#94d89a"/>
<circle cx="316.9" cy="127.4" r="1.5" fill="#94d79a"/>
<circle cx="309.4" cy="129.9" r="1.5" fill="#96d99c"/>
<circle cx="320.3" cy="128.7" r="1.5" fill="#9cdda1"/>
<circle cx="321.3" cy="129.9" r="1.5" fill="#8dd294"/>
<circle cx="304.0" cy="132.4" r="1.5" fill="#a3e2a7"/>
<circle cx="285.4" cy="131.2" r="1.5" fill="#5cac66"/>
<circle cx="297.7" cy="128.7" r="1.5" fill="#8ed395"/>
<circle cx="305.6" cy="132.4" r="1.5" fill="#94d79a"/>
<circle cx="295.6" cy="128.7" r="1.5" fill="#97da9d"/>
<circle cx="309.7" cy="128.7" r="1.5" fill="#8ed395"/>
<circle cx="292.7" cy="128.7" r="1.5" fill="#94d89a"/>
<circle cx="313.7" cy="131.2" r="1.5" fill="#9edfa3"/>
<circle cx="296.0" cy="126.2" r="1.5" fill="#8ed394"/>
<circle cx="318.4" cy="131.2" r="1.5" fill="#a2e2a7"/>
<circle cx="315.6" cy="129.9" r="1.5" fill="#8ed395"/>
<circle cx="255.6" cy="129.9" r="1.5" fill="#469a52"/>
<circle cx="314.0" cy="128.7" r="1.5" fill="#96d99c"/>
<circle cx="274.3" cy="131.2" r="1.5" fill="#8bd192"/>
<circle cx="293.7" cy="128.7" r="1.5" fill="#95d89b"/>
<circle cx="256.7" cy="131.2" r="1.5" fill="#53a45e"/>
<circle cx="326.1" cy="129.9" r="1.5" fill="#a1e1a6"/>
<circle cx="295.1" cy="132.4" r="1.5" fill="#8dd294"/>
<circle cx="297.8" cy="129.9" r="1.5" fill="#94d79a"/>
<circle cx="298.8" cy="131.2" r="1.5" fill="#a3e2a7"/>
<circle cx="293.4" cy="132.4" r="1.5" fill="#92d698"/>
<circle cx="293.6" cy="129.9" r="1.5" fill="#9adc9f"/>
<circle cx="303.8" cy="127.4" r="1.5" fill="#98da9d"/>
<circle cx="288.4" cy="128.7" r="1.5" fill="#84cb8c"/>
<circle cx="295.2" cy="131.2" r="1.5" fill="#a3e3a8"/>
<circle cx="301.8" cy="131.2" r="1.5" fill="#8fd395"/>
<circle cx="289.8" cy="129.9" r="1.5" fill="#72be7b"/>
<circle cx="303.4" cy="133.7" r="1.5" fill="#99db9e"/>
<circle cx="302.6" cy="132.4" r="1.5" fill="#99db9f"/>
<circle cx="281.2" cy="131.2" r="1.5" fill="#69b773"/>
<circle cx="306.9" cy="129.9" r="1.5" fill="#8fd496"/>
<circle cx="307.1" cy="128.7" r="1.5" fill="#9fdfa4"/>
<circle cx="311.8" cy="129.9" r="1.5" fill="#95d89b"/>
<circle cx="305.2" cy="129.9" r="1.5" fill="#9fe0a4"/>
<circle cx="262.2" cy="129.9" r="1.5" fill="#43964e"/>
<circle cx="314.6" cy="132.4" r="1.5" fill="#93d799"/>
<circle cx="263.2" cy="129.9" r="1.5" fill="#459850"/>
<circle cx="301.2" cy="129.9" r="1.5" fill="#a0e0a5"/>
<circle cx="317.7" cy="129.9" r="1.5" fill="#8dd294"/>
<circle cx="326.7" cy="131.2" r="1.5" fill="#8dd293"/>
<circle cx="285.5" cy="129.9" r="1.5" fill="#6ab773"/>
<circle cx="301.3" cy="128.7" r="1.5" fill="#a0e0a5"/>
<circle cx="291.7" cy="131.2" r="1.5" fill="#8dd293"/>
<circle cx="273.1" cy="129.9" r="1.5" fill="#5fae69"/>
<circle cx="310.7" cy="129.9" r="1.5" fill="#a3e3a8"/>
<circle cx="279.3" cy="129.9" r="1.5" fill="#6fbb78"/>
<circle cx="309.4" cy="128.7" r="1.5" fill="#a4e3a8"/>
<circle cx="320.7" cy="128.7" r="1.5" fill="#8dd294"/>
<circle cx="281.2" cy="129.9" r="1.5" fill="#82ca8a"/>
<circle cx="295.9" cy="129.9" r="1.5" fill="#a2e2a7"/>
<circle cx="324.5" cy="128.7" r="1.5" fill="#98db9e"/>
<circle cx="276.3" cy="129.9" r="1.5" fill="#83ca8b"/>
<circle cx="280.3" cy="128.7" r="1.5" fill="#64b36e"/>
<circle cx="292.1" cy="128.7" r="1.5" fill="#97da9d"/>
<circle cx="319.8" cy="129.9" r="1.5" fill="#9fe0a4"/>
<circle cx="305.0" cy="128.7" r="1.5" fill="#8cd293"/>
<circle cx="282.8" cy="131.2" r="1.5" fill="#7dc685"/>
<circle cx="266.7" cy="129.9" r="1.5" fill="#59a963"/>
<circle cx="300.5" cy="132.4" r="1.5" fill="#8ed394"/>
<circle cx="294.8" cy="128.7" r="1.5" fill="#9fe0a4"/>
<circle cx="299.3" cy="129.9" r="1.5" fill="#98db9e"/>
<circle cx="302.6" cy="126.2" r="1.5" fill="#97d99c"/>
<circle cx="301.7" cy="129.9" r="1.5" fill="#90d496"/>
<circle cx="297.3" cy="132.4" r="1.5" fill="#a3e3a8"/>
<circle cx="303.9" cy="131.2" r="1.5" fill="#8ed394"/>
<circle cx="283.6" cy="128.7" r="1.5" fill="#88cf8f"/>
<circle cx="324.7" cy="131.2" r="1.5" fill="#9adc9f"/>
<circle cx="315.5" cy="128.7" r="1.5" fill="#92d698"/>
<circle cx="299.6" cy="129.9" r="1.5" fill="#90d496"/>
<circle cx="299.1" cy="128.7" r="1.5" fill="#a2e2a7"/>
<circle cx="322.7" cy="131.2" r="1.5" fill="#9fdfa4"/>
<circle cx="316.9" cy="128.7" r="1.5" fill="#96d99c"/>
<circle cx="297.3" cy="128.7" r="1.5" fill="#9cdda1"/>
<circle cx="297.4" cy="131.2" r="1.5" fill="#a2e2a6"/>
<circle cx="299.6" cy="128.7" r="1.5" fill="#93d699"/>
<circle cx="284.7" cy="128.7" r="1.5" fill="#70bc7a"/>
<circle cx="315.1" cy="129.9" r="1.5" fill="#9edfa3"/>
<circle cx="317.8" cy="132.4" r="1.5" fill="#93d799"/>
<circle cx="279.5" cy="129.9" r="1.5" fill="#79c381"/>
<circle cx="306.1" cy="129.9" r="1.5" fill="#8ed395"/>
<circle cx="276.0" cy="131.2" r="1.5" fill="#84cb8c"/>
<circle cx="312.1" cy="131.2" r="1.5" fill="#99db9f"/>
<circle cx="306.7" cy="131.2" r="1.5" fill="#8ed395"/>
<circle cx="312.6" cy="128.7" r="1.5" fill="#8cd193"/>
<circle cx="287.7" cy="131.2" r="1.5" fill="#7ac382"/>
<circle cx="286.3" cy="131.2" r="1.5" fill="#6bb975"/>
<circle cx="309.2" cy="131.2" r="1.5" fill="#9adca0"/>
<circle cx="302.0" cy="127.4" r="1.5" fill="#9ddea2"/>
<circle cx="289.3" cy="129.9" r="1.5" fill="#67b571"/>
<circle cx="321.9" cy="128.7" r="1.5" fill="#93d799"/>
<circle cx="304.0" cy="133.7" r="1.5" fill="#a2e2a6"/>
<circle cx="288.7" cy="128.7" r="1.5" fill="#7fc787"/>
<circle cx="326.1" cy="131.2" r="1.5" fill="#9ddea2"/>
<circle cx="313.6" cy="129.9" r="1.5" fill="#8fd395"/>
<circle cx="258.9" cy="129.9" r="1.5" fill="#378c42"/>
<circle cx="320.4" cy="132.4" r="1.5" fill="#8dd294"/>
<circle cx="317.0" cy="132.4" r="1.5" fill="#98da9e"/>
<circle cx="304.6" cy="131.2" r="1.5" fill="#9bdda1"/>
<circle cx="322.5" cy="128.7" r="1.5" fill="#9edfa3"/>
<circle cx="314.7" cy="131.2" r="1.5" fill="#9fdfa4"/>
<circle cx="328.0" cy="131.2" r="1.5" fill="#a2e2a7"/>
<circle cx="320.9" cy="131.2" r="1.5" fill="#9edfa3"/>
<circle cx="290.6" cy="131.2" r="1.5" fill="#72be7c"/>
<circle cx="301.6" cy="133.7" r="1.5" fill="#98db9e"/>
<circle cx="279.1" cy="128.7" r="1.5" fill="#6cb976"/>
<circle cx="289.3" cy="131.2" r="1.5" fill="#5bab66"/>
<circle cx="308.5" cy="131.2" r="1.5" fill="#9ddea2"/>
<circle cx="286.8" cy="131.2" r="1.5" fill="#6ebb78"/>
<circle cx="256.1" cy="131.2" r="1.5" fill="#4fa159"/>
<circle cx="282.2" cy="131.2" r="1.5" fill="#87ce8f"/>
<circle cx="301.4" cy="127.4" r="1.5" fill="#94d89a"/>
<circle cx="305.8" cy="133.7" r="1.5" fill="#8fd395"/>
<circle cx="312.8" cy="129.9" r="1.5" fill="#97d99c"/>
<circle cx="321.6" cy="129.9" r="1.5" fill="#9adca0"/>
<circle cx="289.5" cy="128.7" r="1.5" fill="#65b36f"/>
<circle cx="303.0" cy="131.2" r="1.5" fill="#a1e1a6"/>
<circle cx="301.9" cy="132.4" r="1.5" fill="#9bdda0"/>
<circle cx="316.5" cy="128.7" r="1.5" fill="#9ddea2"/>
<circle cx="325.2" cy="129.9" r="1.5" fill="#9bdda1"/>
<circle cx="307.8" cy="128.7" r="1.5" fill="#90d496"/>
<circle cx="319.5" cy="129.9" r="1.5" fill="#9adca0"/>
<circle cx="278.0" cy="131.2" r="1.5" fill="#64b36e"/>
<circle cx="323.8" cy="128.7" r="1.5" fill="#99db9f"/>
<circle cx="324.1" cy="129.9" r="1.5" fill="#8fd395"/>
<circle cx="295.2" cy="127.4" r="1.5" fill="#96d99c"/>
<circle cx="329.6" cy="129.9" r="1.5" fill="#9ddfa3"/>
<circle cx="327.2" cy="129.9" r="1.5" fill="#95d89b"/>
<circle cx="294.8" cy="129.9" r="1.5" fill="#9edfa3"/>
<circle cx="297.7" cy="127.4" r="1.5" fill="#94d79a"/>
<circle cx="301.4" cy="131.2" r="1.5" fill="#8fd496"/>
<circle cx="283.5" cy="131.2" r="1.5" fill="#67b571"/>
<circle cx="317.7" cy="128.7" r="1.5" fill="#96d99c"/>
<circle cx="305.9" cy="127.4" r="1.5" fill="#9bdda1"/>
<circle cx="309.0" cy="132.4" r="1.5" fill="#9edfa3"/>
<circle cx="286.6" cy="129.9" r="1.5" fill="#65b46f"/>
<circle cx="282.8" cy="129.9" r="1.5" fill="#88ce8f"/>
<circle cx="303.2" cy="134.9" r="1.5" fill="#9fdfa4"/>
<circle cx="303.9" cy="128.7" r="1.5" fill="#a3e2a7"/>
<circle cx="295.8" cy="134.9" r="1.5" fill="#8ed395"/>
<circle cx="296.1" cy="127.4" r="1.5" fill="#93d699"/>
<circle cx="281.1" cy="128.7" r="1.5" fill="#5cac66"/>
<circle cx="318.6" cy="128.7" r="1.5" fill="#93d799"/>
<circle cx="315.8" cy="131.2" r="1.5" fill="#a4e3a8"/>
<circle cx="270.5" cy="129.9" r="1.5" fill="#5aaa64"/>
<circle cx="309.8" cy="127.4" r="1.5" fill="#91d597"/>
<circle cx="273.7" cy="129.9" r="1.5" fill="#7fc887"/>
<circle cx="278.1" cy="129.9" r="1.5" fill="#63b26d"/>
<circle cx="319.9" cy="131.2" r="1.5" fill="#8ed394"/>
<circle cx="284.9" cy="129.9" r="1.5" fill="#82c989"/>
<circle cx="329.4" cy="129.9" r="1.5" fill="#a3e3a8"/>
<circle cx="324.7" cy="132.4" r="1.5" fill="#94d79a"/>
<circle cx="272.3" cy="129.9" r="1.5" fill="#5dad68"/>
<circle cx="324.0" cy="131.2" r="1.5" fill="#94d89a"/>
<circle cx="292.4" cy="132.4" r="1.5" fill="#97da9d"/>
<circle cx="302.9" cy="127.4" r="1.5" fill="#a2e2a7"/>
<circle cx="319.3" cy="131.2" r="1.5" fill="#9edfa3"/>
<circle cx="299.8" cy="132.4" r="1.5" fill="#91d597"/>
<circle cx="293.8" cy="132.4" r="1.5" fill="#8dd294"/>
<circle cx="296.2" cy="131.2" r="1.5" fill="#a2e2a7"/>
<circle cx="297.2" cy="129.9" r="1.5" fill="#99db9f"/>
<circle cx="303.6" cy="134.9" r="1.5" fill="#91d597"/>
<circle cx="275.4" cy="129.9" r="1.5" fill="#68b672"/>
<circle cx="296.4" cy="133.7" r="1.5" fill="#98da9d"/>
<circle cx="302.7" cy="128.7" r="1.5" fill="#a0e0a5"/>
<circle cx="284.5" cy="129.9" r="1.5" fill="#6fbb78"/>
<circle cx="286.6" cy="128.7" r="1.5" fill="#80c888"/>
<circle cx="277.4" cy="131.2" r="1.5" fill="#7ac382"/>
<circle cx="277.5" cy="129.9" r="1.5" fill="#74bf7c"/>
<circle cx="279.5" cy="131.2" r="1.5" fill="#68b672"/>
<circle cx="257.6" cy="129.9" r="1.5" fill="#4c9f57"/>
<circle cx="257.1" cy="129.9" r="1.5" fill="#489b53"/>
<circle cx="291.3" cy="129.9" r="1.5" fill="#61b06b"/>
<circle cx="321.9" cy="131.2" r="1.5" fill="#92d698"/>
<circle cx="317.2" cy="131.2" r="1.5" fill="#94d79a"/>
<circle cx="293.0" cy="129.9" r="1.5" fill="#8ed394"/>
<circle cx="330.7" cy="129.9" r="1.5" fill="#a2e2a7"/>
<circle cx="289.9" cy="131.2" r="1.5" fill="#72bd7b"/>
<circle cx="285.3" cy="132.4" r="1.5" fill="#68b672"/>
<circle cx="232.7" cy="129.9" r="1.5" fill="#4ea059"/>
<circle cx="243.5" cy="129.9" r="1.5" fill="#3b9046"/>
<circle cx="246.0" cy="129.9" r="1.5" fill="#6ebb77"/>
<circle cx="248.0" cy="129.9" r="1.5" fill="#80c888"/>
<circle cx="250.3" cy="129.9" r="1.5" fill="#6ebb77"/>
<circle cx="335.0" cy="129.9" r="1.5" fill="#9edfa3"/>
<circle cx="337.5" cy="129.9" r="1.5" fill="#9edfa3"/>
</g>
<g>
<circle cx="288.5" cy="148.1" r="1.5" fill="#94d79a"/>
<circle cx="273.4" cy="149.3" r="1.5" fill="#9edfa3"/>
<circle cx="272.5" cy="150.6" r="1.5" fill="#8bd092"/>
<circle cx="285.2" cy="146.8" r="1.5" fill="#9edfa3"/>
<circle cx="278.3" cy="148.1" r="1.5" fill="#95d89b"/>
<circle cx="284.9" cy="148.1" r="1.5" fill="#9bdca0"/>
<circle cx="282.9" cy="154.3" r="1.5" fill="#98da9d"/>
<circle cx="255.2" cy="149.3" r="1.5" fill="#8cd193"/>
<circle cx="283.7" cy="149.3" r="1.5" fill="#9ddea2"/>
<circle cx="275.1" cy="151.8" r="1.5" fill="#9edfa3"/>
<circle cx="309.9" cy="149.3" r="1.5" fill="#4b9e56"/>
<circle cx="284.4" cy="153.1" r="1.5" fill="#95d89b"/>
<circle cx="288.3" cy="151.8" r="1.5" fill="#8bd092"/>
<circle cx="285.1" cy="145.6" r="1.5" fill="#8cd193"/>
<circle cx="278.7" cy="149.3" r="1.5" fill="#8bd092"/>
<circle cx="280.7" cy="148.1" r="1.5" fill="#93d79a"/>
<circle cx="283.1" cy="150.6" r="1.5" fill="#8bd092"/>
<circle cx="273.1" cy="148.1" r="1.5" fill="#98da9d"/>
<circle cx="325.8" cy="149.3" r="1.5" fill="#479a52"/>
<circle cx="309.3" cy="149.3" r="1.5" fill="#59a963"/>
<circle cx="307.9" cy="150.6" r="1.5" fill="#4c9e57"/>
<circle cx="289.3" cy="149.3" r="1.5" fill="#92d698"/>
<circle cx="271.7" cy="148.1" r="1.5" fill="#98db9e"/>
<circle cx="280.0" cy="151.8" r="1.5" fill="#96d99c"/>
<circle cx="313.5" cy="149.3" r="1.5" fill="#43974e"/>
<circle cx="282.4" cy="146.8" r="1.5" fill="#8cd193"/>
<circle cx="282.9" cy="146.8" r="1.5" fill="#93d799"/>
<circle cx="259.9" cy="149.3" r="1.5" fill="#9adc9f"/>
<circle cx="279.4" cy="153.1" r="1.5" fill="#8bd092"/>
<circle cx="278.4" cy="151.8" r="1.5" fill="#a0e1a5"/>
<circle cx="276.0" cy="149.3" r="1.5" fill="#9bdda1"/>
<circle cx="279.0" cy="146.8" r="1.5" fill="#9fe0a4"/>
<circle cx="294.1" cy="149.3" r="1.5" fill="#5ead68"/>
<circle cx="315.2" cy="149.3" r="1.5" fill="#499c55"/>
<circle cx="322.2" cy="149.3" r="1.5" fill="#499b54"/>
<circle cx="297.9" cy="149.3" r="1.5" fill="#7cc585"/>
<circle cx="267.6" cy="149.3" r="1.5" fill="#90d597"/>
<circle cx="280.3" cy="149.3" r="1.5" fill="#91d598"/>
<circle cx="298.0" cy="150.6" r="1.5" fill="#77c17f"/>
<circle cx="277.3" cy="148.1" r="1.5" fill="#94d79a"/>
<circle cx="294.6" cy="148.1" r="1.5" fill="#79c382"/>
<circle cx="256.5" cy="149.3" r="1.5" fill="#93d699"/>
<circle cx="279.8" cy="148.1" r="1.5" fill="#9adca0"/>
<circle cx="279.2" cy="145.6" r="1.5" fill="#8fd496"/>
<circle cx="323.8" cy="149.3" r="1.5" fill="#469951"/>
<circle cx="282.7" cy="151.8" r="1.5" fill="#9cdea2"/>
<circle cx="306.9" cy="150.6" r="1.5" fill="#5aaa64"/>
<circle cx="286.1" cy="153.1" r="1.5" fill="#99db9f"/>
<circle cx="275.2" cy="145.6" r="1.5" fill="#8bd192"/>
<circle cx="271.7" cy="150.6" r="1.5" fill="#8cd192"/>
<circle cx="278.5" cy="150.6" r="1.5" fill="#94d79a"/>
<circle cx="308.8" cy="150.6" r="1.5" fill="#58a963"/>
<circle cx="274.8" cy="150.6" r="1.5" fill="#8fd395"/>
<circle cx="279.0" cy="154.3" r="1.5" fill="#9bdda1"/>
<circle cx="287.6" cy="148.1" r="1.5" fill="#9cdda1"/>
<circle cx="290.4" cy="149.3" r="1.5" fill="#94d79a"/>
<circle cx="258.5" cy="149.3" r="1.5" fill="#8bd092"/>
<circle cx="282.2" cy="148.1" r="1.5" fill="#8ed395"/>
<circle cx="302.4" cy="150.6" r="1.5" fill="#499c54"/>
<circle cx="286.6" cy="149.3" r="1.5" fill="#8acf91"/>
<circle cx="285.0" cy="149.3" r="1.5" fill="#94d79a"/>
<circle cx="303.9" cy="150.6" r="1.5" fill="#53a45e"/>
<circle cx="277.5" cy="145.6" r="1.5" fill="#8bd192"/>
<circle cx="301.4" cy="149.3" r="1.5" fill="#62b16d"/>
<circle cx="303.5" cy="148.1" r="1.5" fill="#51a25b"/>
<circle cx="286.1" cy="149.3" r="1.5" fill="#8cd192"/>
<circle cx="285.9" cy="146.8" r="1.5" fill="#97d99d"/>
<circle cx="270.0" cy="150.6" r="1.5" fill="#8bd192"/>
<circle cx="299.4" cy="148.1" r="1.5" fill="#6ebb78"/>
<circle cx="295.5" cy="148.1" r="1.5" fill="#86cd8d"/>
<circle cx="292.7" cy="149.3" r="1.5" fill="#85cc8c"/>
<circle cx="289.9" cy="148.1" r="1.5" fill="#98db9e"/>
<circle cx="273.9" cy="150.6" r="1.5" fill="#95d89b"/>
<circle cx="304.1" cy="149.3" r="1.5" fill="#43974e"/>
<circle cx="276.9" cy="154.3" r="1.5" fill="#96d99c"/>
<circle cx="288.4" cy="149.3" r="1.5" fill="#98db9e"/>
<circle cx="286.4" cy="151.8" r="1.5" fill="#91d598"/>
<circle cx="287.1" cy="148.1" r="1.5" fill="#8dd294"/>
<circle cx="296.5" cy="149.3" r="1.5" fill="#6fbc79"/>
<circle cx="276.9" cy="151.8" r="1.5" fill="#8dd294"/>
<circle cx="298.9" cy="150.6" r="1.5" fill="#6db976"/>
<circle cx="269.4" cy="149.3" r="1.5" fill="#8cd193"/>
<circle cx="317.9" cy="149.3" r="1.5" fill="#43974e"/>
<circle cx="260.8" cy="149.3" r="1.5" fill="#97da9d"/>
<circle cx="276.2" cy="150.6" r="1.5" fill="#8ad091"/>
<circle cx="250.0" cy="149.3" r="1.5" fill="#8ad091"/>
<circle cx="295.4" cy="150.6" r="1.5" fill="#68b672"/>
<circle cx="282.4" cy="153.1" r="1.5" fill="#9fe0a4"/>
<circle cx="284.0" cy="151.8" r="1.5" fill="#9cdda1"/>
<circle cx="319.0" cy="149.3" r="1.5" fill="#54a55f"/>
<circle cx="270.5" cy="149.3" r="1.5" fill="#8cd193"/>
<circle cx="276.0" cy="151.8" r="1.5" fill="#93d699"/>
<circle cx="300.0" cy="151.8" r="1.5" fill="#6cb976"/>
<circle cx="271.3" cy="149.3" r="1.5" fill="#8dd294"/>
<circle cx="293.2" cy="148.1" r="1.5" fill="#69b773"/>
<circle cx="307.3" cy="149.3" r="1.5" fill="#4ea059"/>
<circle cx="311.9" cy="150.6" r="1.5" fill="#54a55f"/>
<circle cx="298.2" cy="148.1" r="1.5" fill="#8bd092"/>
<circle cx="279.6" cy="146.8" r="1.5" fill="#95d89b"/>
<circle cx="281.4" cy="149.3" r="1.5" fill="#8dd294"/>
<circle cx="305.8" cy="149.3" r="1.5" fill="#469a52"/>
<circle cx="264.8" cy="149.3" r="1.5" fill="#8dd294"/>
<circle cx="282.2" cy="150.6" r="1.5" fill="#92d698"/>
<circle cx="275.4" cy="149.3" r="1.5" fill="#95d89b"/>
<circle cx="252.6" cy="149.3" r="1.5" fill="#89cf90"/>
<circle cx="278.6" cy="148.1" r="1.5" fill="#8bd192"/>
<circle cx="263.6" cy="149.3" r="1.5" fill="#91d597"/>
<circle cx="283.4" cy="149.3" r="1.5" fill="#8cd192"/>
<circle cx="304.4" cy="148.1" r="1.5" fill="#54a55f"/>
<circle cx="295.6" cy="150.6" r="1.5" fill="#8ad091"/>
<circle cx="285.0" cy="150.6" r="1.5" fill="#94d79a"/>
<circle cx="277.2" cy="149.3" r="1.5" fill="#96d99c"/>
<circle cx="276.6" cy="150.6" r="1.5" fill="#96d99c"/>
<circle cx="290.3" cy="151.8" r="1.5" fill="#92d698"/>
<circle cx="282.8" cy="148.1" r="1.5" fill="#96d99c"/>
<circle cx="300.1" cy="148.1" r="1.5" fill="#8bd092"/>
<circle cx="278.5" cy="149.3" r="1.5" fill="#99db9e"/>
<circle cx="273.7" cy="149.3" r="1.5" fill="#8fd395"/>
<circle cx="292.0" cy="149.3" r="1.5" fill="#99db9f"/>
<circle cx="284.0" cy="148.1" r="1.5" fill="#99db9e"/>
<circle cx="288.8" cy="150.6" r="1.5" fill="#96d99c"/>
<circle cx="281.7" cy="149.3" r="1.5" fill="#8bd092"/>
<circle cx="303.2" cy="149.3" r="1.5" fill="#50a25b"/>
<circle cx="297.1" cy="150.6" r="1.5" fill="#83cb8b"/>
<circle cx="310.3" cy="150.6" r="1.5" fill="#449850"/>
<circle cx="291.7" cy="148.1" r="1.5" fill="#9fdfa4"/>
<circle cx="280.1" cy="150.6" r="1.5" fill="#96d99c"/>
<circle cx="284.6" cy="151.8" r="1.5" fill="#97da9d"/>
<circle cx="299.9" cy="150.6" r="1.5" fill="#8bd192"/>
<circle cx="291.3" cy="149.3" r="1.5" fill="#a0e0a5"/>
<circle cx="297.7" cy="151.8" r="1.5" fill="#60af6b"/>
<circle cx="274.9" cy="153.1" r="1.5" fill="#95d89b"/>
<circle cx="291.3" cy="150.6" r="1.5" fill="#9fe0a4"/>
<circle cx="279.1" cy="150.6" r="1.5" fill="#a0e0a5"/>
<circle cx="306.0" cy="150.6" r="1.5" fill="#4c9f57"/>
<circle cx="263.1" cy="149.3" r="1.5" fill="#8ed394"/>
<circle cx="313.1" cy="150.6" r="1.5" fill="#50a25b"/>
<circle cx="277.4" cy="144.3" r="1.5" fill="#8fd496"/>
<circle cx="312.2" cy="149.3" r="1.5" fill="#56a660"/>
<circle cx="300.6" cy="150.6" r="1.5" fill="#71bd7a"/>
<circle cx="281.8" cy="151.8" r="1.5" fill="#8fd496"/>
<circle cx="302.4" cy="149.3" r="1.5" fill="#4ea059"/>
<circle cx="305.2" cy="149.3" r="1.5" fill="#42964d"/>
<circle cx="275.1" cy="148.1" r="1.5" fill="#8bd192"/>
<circle cx="286.3" cy="150.6" r="1.5" fill="#a0e1a5"/>
<circle cx="303.2" cy="150.6" r="1.5" fill="#4c9f57"/>
<circle cx="274.5" cy="148.1" r="1.5" fill="#8dd294"/>
<circle cx="284.5" cy="146.8" r="1.5" fill="#96d99c"/>
<circle cx="311.1" cy="149.3" r="1.5" fill="#489b53"/>
<circle cx="283.7" cy="150.6" r="1.5" fill="#9edfa3"/>
<circle cx="300.9" cy="148.1" r="1.5" fill="#84cb8b"/>
<circle cx="294.7" cy="149.3" r="1.5" fill="#77c180"/>
<circle cx="306.4" cy="148.1" r="1.5" fill="#43964e"/>
<circle cx="317.1" cy="149.3" r="1.5" fill="#54a55e"/>
<circle cx="285.2" cy="153.1" r="1.5" fill="#98db9e"/>
<circle cx="300.4" cy="149.3" r="1.5" fill="#72bd7b"/>
<circle cx="280.7" cy="151.8" r="1.5" fill="#8dd293"/>
<circle cx="293.6" cy="150.6" r="1.5" fill="#5faf69"/>
<circle cx="320.4" cy="149.3" r="1.5" fill="#59a963"/>
<circle cx="314.4" cy="149.3" r="1.5" fill="#4fa15a"/>
<circle cx="276.2" cy="148.1" r="1.5" fill="#8cd192"/>
<circle cx="276.7" cy="153.1" r="1.5" fill="#8dd294"/>
<circle cx="287.4" cy="150.6" r="1.5" fill="#98da9d"/>
<circle cx="283.4" cy="145.6" r="1.5" fill="#9bdda0"/>
<circle cx="299.1" cy="149.3" r="1.5" fill="#66b470"/>
<circle cx="275.0" cy="146.8" r="1.5" fill="#8cd293"/>
<circle cx="296.7" cy="149.3" r="1.5" fill="#87cd8e"/>
<circle cx="277.2" cy="146.8" r="1.5" fill="#9bdda0"/>
<circle cx="281.3" cy="150.6" r="1.5" fill="#9cdea2"/>
<circle cx="277.9" cy="146.8" r="1.5" fill="#92d698"/>
<circle cx="297.5" cy="148.1" r="1.5" fill="#6cb975"/>
<circle cx="292.8" cy="150.6" r="1.5" fill="#89cf90"/>
<circle cx="290.5" cy="148.1" r="1.5" fill="#91d598"/>
<circle cx="308.4" cy="149.3" r="1.5" fill="#4c9f57"/>
<circle cx="278.7" cy="144.3" r="1.5" fill="#9ddea2"/>
<circle cx="323.5" cy="149.3" r="1.5" fill="#4b9e56"/>
<circle cx="271.4" cy="150.6" r="1.5" fill="#89cf90"/>
<circle cx="311.0" cy="150.6" r="1.5" fill="#59a963"/>
<circle cx="283.5" cy="153.1" r="1.5" fill="#8fd496"/>
<circle cx="291.9" cy="150.6" r="1.5" fill="#8ad091"/>
<circle cx="287.9" cy="150.6" r="1.5" fill="#93d799"/>
<circle cx="274.1" cy="151.8" r="1.5" fill="#99db9f"/>
<circle cx="278.6" cy="151.8" r="1.5" fill="#93d699"/>
<circle cx="290.0" cy="150.6" r="1.5" fill="#91d597"/>
<circle cx="304.3" cy="151.8" r="1.5" fill="#479a52"/>
<circle cx="297.5" cy="151.8" r="1.5" fill="#7bc483"/>
<circle cx="285.9" cy="148.1" r="1.5" fill="#8fd395"/>
<circle cx="305.3" cy="150.6" r="1.5" fill="#53a45e"/>
<circle cx="272.3" cy="149.3" r="1.5" fill="#8ed294"/>
<circle cx="335.0" cy="149.3" r="1.5" fill="#41954d"/>
<circle cx="338.0" cy="149.3" r="1.5" fill="#41954d"/>
<circle cx="341.0" cy="149.3" r="1.5" fill="#41954d"/>
</g>
<g>
<circle cx="292.0" cy="175.0" r="1.5" fill="#80c888"/>
<circle cx="293.7" cy="170.0" r="1.5" fill="#75c07e"/>
<circle cx="289.8" cy="167.5" r="1.5" fill="#75c07e"/>
<circle cx="286.9" cy="170.0" r="1.5" fill="#8dd294"/>
<circle cx="292.4" cy="168.7" r="1.5" fill="#89cf90"/>
<circle cx="300.3" cy="170.0" r="1.5" fill="#96d99c"/>
<circle cx="298.6" cy="168.7" r="1.5" fill="#8dd294"/>
<circle cx="301.1" cy="168.7" r="1.5" fill="#90d496"/>
<circle cx="319.4" cy="170.0" r="1.5" fill="#4ea059"/>
<circle cx="301.5" cy="167.5" r="1.5" fill="#90d597"/>
<circle cx="299.9" cy="168.7" r="1.5" fill="#7cc584"/>
<circle cx="296.0" cy="166.2" r="1.5" fill="#75c07d"/>
<circle cx="302.0" cy="171.2" r="1.5" fill="#7fc887"/>
<circle cx="287.2" cy="168.7" r="1.5" fill="#8bd192"/>
<circle cx="296.3" cy="173.7" r="1.5" fill="#6dba77"/>
<circle cx="311.2" cy="168.7" r="1.5" fill="#3b9047"/>
<circle cx="306.9" cy="170.0" r="1.5" fill="#388e44"/>
<circle cx="306.0" cy="170.0" r="1.5" fill="#56a760"/>
<circle cx="327.8" cy="168.7" r="1.5" fill="#4a9c55"/>
<circle cx="312.3" cy="167.5" r="1.5" fill="#32883e"/>
<circle cx="290.5" cy="168.7" r="1.5" fill="#83ca8b"/>
<circle cx="297.3" cy="165.0" r="1.5" fill="#91d597"/>
<circle cx="328.7" cy="168.7" r="1.5" fill="#4c9f57"/>
<circle cx="328.1" cy="170.0" r="1.5" fill="#489b54"/>
<circle cx="295.2" cy="171.2" r="1.5" fill="#7ac382"/>
<circle cx="298.2" cy="165.0" r="1.5" fill="#88ce8f"/>
<circle cx="325.3" cy="168.7" r="1.5" fill="#499c55"/>
<circle cx="287.8" cy="168.7" r="1.5" fill="#8fd395"/>
<circle cx="305.3" cy="168.7" r="1.5" fill="#50a25b"/>
<circle cx="329.4" cy="170.0" r="1.5" fill="#489b53"/>
<circle cx="303.9" cy="170.0" r="1.5" fill="#388d44"/>
<circle cx="304.2" cy="168.7" r="1.5" fill="#42964e"/>
<circle cx="294.7" cy="168.7" r="1.5" fill="#75c07e"/>
<circle cx="300.8" cy="172.5" r="1.5" fill="#6eba77"/>
<circle cx="302.0" cy="170.0" r="1.5" fill="#76c17f"/>
<circle cx="289.5" cy="167.5" r="1.5" fill="#7cc584"/>
<circle cx="299.7" cy="172.5" r="1.5" fill="#86cd8d"/>
<circle cx="298.7" cy="175.0" r="1.5" fill="#97da9d"/>
<circle cx="301.5" cy="170.0" r="1.5" fill="#81c989"/>
<circle cx="285.9" cy="167.5" r="1.5" fill="#8ad091"/>
<circle cx="327.5" cy="170.0" r="1.5" fill="#55a660"/>
<circle cx="299.3" cy="170.0" r="1.5" fill="#76c17f"/>
<circle cx="287.6" cy="165.0" r="1.5" fill="#6dba77"/>
<circle cx="299.4" cy="171.2" r="1.5" fill="#73be7c"/>
<circle cx="319.8" cy="170.0" r="1.5" fill="#58a862"/>
<circle cx="281.7" cy="168.7" r="1.5" fill="#70bc79"/>
<circle cx="306.5" cy="168.7" r="1.5" fill="#5fae69"/>
<circle cx="313.2" cy="168.7" r="1.5" fill="#388e44"/>
<circle cx="301.3" cy="171.2" r="1.5" fill="#69b773"/>
<circle cx="286.0" cy="170.0" r="1.5" fill="#84cc8c"/>
<circle cx="289.8" cy="166.2" r="1.5" fill="#76c07f"/>
<circle cx="289.2" cy="170.0" r="1.5" fill="#77c180"/>
<circle cx="295.3" cy="170.0" r="1.5" fill="#8dd293"/>
<circle cx="293.9" cy="167.5" r="1.5" fill="#82ca8a"/>
<circle cx="276.6" cy="168.7" r="1.5" fill="#72bd7b"/>
<circle cx="296.9" cy="172.5" r="1.5" fill="#95d89b"/>
<circle cx="296.7" cy="166.2" r="1.5" fill="#96d99c"/>
<circle cx="292.8" cy="172.5" r="1.5" fill="#7ec786"/>
<circle cx="296.6" cy="167.5" r="1.5" fill="#87ce8e"/>
<circle cx="319.6" cy="168.7" r="1.5" fill="#42964d"/>
<circle cx="296.7" cy="171.2" r="1.5" fill="#78c280"/>
<circle cx="325.7" cy="170.0" r="1.5" fill="#388e44"/>
<circle cx="296.3" cy="171.2" r="1.5" fill="#93d699"/>
<circle cx="287.9" cy="170.0" r="1.5" fill="#7ac482"/>
<circle cx="324.1" cy="168.7" r="1.5" fill="#499b54"/>
<circle cx="293.0" cy="166.2" r="1.5" fill="#6ebb78"/>
<circle cx="304.1" cy="167.5" r="1.5" fill="#31883d"/>
<circle cx="313.4" cy="167.5" r="1.5" fill="#59a964"/>
<circle cx="323.9" cy="170.0" r="1.5" fill="#368c42"/>
<circle cx="308.7" cy="170.0" r="1.5" fill="#56a760"/>
<circle cx="291.8" cy="163.7" r="1.5" fill="#8dd294"/>
<circle cx="310.8" cy="170.0" r="1.5" fill="#378c42"/>
<circle cx="314.5" cy="168.7" r="1.5" fill="#4a9d55"/>
<circle cx="292.0" cy="172.5" r="1.5" fill="#7fc887"/>
<circle cx="295.2" cy="167.5" r="1.5" fill="#79c381"/>
<circle cx="297.9" cy="171.2" r="1.5" fill="#97da9d"/>
<circle cx="309.0" cy="168.7" r="1.5" fill="#489b53"/>
<circle cx="291.4" cy="171.2" r="1.5" fill="#91d597"/>
<circle cx="305.8" cy="167.5" r="1.5" fill="#4ea059"/>
<circle cx="302.8" cy="167.5" r="1.5" fill="#459850"/>
<circle cx="322.5" cy="168.7" r="1.5" fill="#43974e"/>
<circle cx="331.4" cy="168.7" r="1.5" fill="#55a660"/>
<circle cx="275.8" cy="168.7" r="1.5" fill="#75c07e"/>
<circle cx="299.1" cy="166.2" r="1.5" fill="#92d698"/>
<circle cx="293.1" cy="170.0" r="1.5" fill="#92d698"/>
<circle cx="285.0" cy="167.5" r="1.5" fill="#8cd293"/>
<circle cx="291.2" cy="172.5" r="1.5" fill="#86cd8d"/>
<circle cx="297.8" cy="167.5" r="1.5" fill="#7bc584"/>
<circle cx="275.4" cy="168.7" r="1.5" fill="#6eba77"/>
<circle cx="302.9" cy="168.7" r="1.5" fill="#55a65f"/>
<circle cx="285.6" cy="168.7" r="1.5" fill="#78c281"/>
<circle cx="292.1" cy="173.7" r="1.5" fill="#7fc887"/>
<circle cx="297.5" cy="166.2" r="1.5" fill="#86cd8d"/>
<circle cx="298.9" cy="176.2" r="1.5" fill="#79c381"/>
<circle cx="292.5" cy="167.5" r="1.5" fill="#7cc584"/>
<circle cx="288.6" cy="168.7" r="1.5" fill="#81c989"/>
<circle cx="293.2" cy="171.2" r="1.5" fill="#81c989"/>
<circle cx="321.5" cy="170.0" r="1.5" fill="#459951"/>
<circle cx="324.7" cy="170.0" r="1.5" fill="#4a9d55"/>
<circle cx="298.9" cy="173.7" r="1.5" fill="#8dd293"/>
<circle cx="287.8" cy="167.5" r="1.5" fill="#77c280"/>
<circle cx="294.0" cy="168.7" r="1.5" fill="#71bd7a"/>
<circle cx="290.1" cy="170.0" r="1.5" fill="#95d89b"/>
<circle cx="284.7" cy="168.7" r="1.5" fill="#8dd294"/>
<circle cx="329.7" cy="170.0" r="1.5" fill="#4b9e56"/>
<circle cx="318.4" cy="170.0" r="1.5" fill="#56a660"/>
<circle cx="284.0" cy="170.0" r="1.5" fill="#76c07e"/>
<circle cx="307.7" cy="168.7" r="1.5" fill="#5ead68"/>
<circle cx="330.3" cy="168.7" r="1.5" fill="#58a862"/>
<circle cx="322.7" cy="168.7" r="1.5" fill="#3d9248"/>
<circle cx="281.6" cy="170.0" r="1.5" fill="#79c381"/>
<circle cx="296.3" cy="170.0" r="1.5" fill="#6ab773"/>
<circle cx="298.9" cy="162.5" r="1.5" fill="#88ce8f"/>
<circle cx="283.3" cy="168.7" r="1.5" fill="#71bd7a"/>
<circle cx="285.0" cy="170.0" r="1.5" fill="#8cd192"/>
<circle cx="299.4" cy="172.5" r="1.5" fill="#7fc887"/>
<circle cx="298.3" cy="172.5" r="1.5" fill="#86cd8d"/>
<circle cx="301.7" cy="167.5" r="1.5" fill="#69b773"/>
<circle cx="294.6" cy="166.2" r="1.5" fill="#8bd092"/>
<circle cx="321.2" cy="168.7" r="1.5" fill="#51a35c"/>
<circle cx="286.9" cy="167.5" r="1.5" fill="#77c180"/>
<circle cx="315.7" cy="170.0" r="1.5" fill="#388d43"/>
<circle cx="320.7" cy="170.0" r="1.5" fill="#5bab65"/>
<circle cx="286.6" cy="171.2" r="1.5" fill="#91d597"/>
<circle cx="297.2" cy="170.0" r="1.5" fill="#79c382"/>
<circle cx="282.5" cy="170.0" r="1.5" fill="#8ad091"/>
<circle cx="299.0" cy="165.0" r="1.5" fill="#94d79a"/>
<circle cx="301.4" cy="173.7" r="1.5" fill="#95d89b"/>
<circle cx="304.9" cy="170.0" r="1.5" fill="#4fa15a"/>
<circle cx="297.7" cy="173.7" r="1.5" fill="#7ac482"/>
<circle cx="298.4" cy="168.7" r="1.5" fill="#92d698"/>
<circle cx="315.2" cy="170.0" r="1.5" fill="#44974f"/>
<circle cx="292.9" cy="167.5" r="1.5" fill="#83ca8a"/>
<circle cx="296.2" cy="165.0" r="1.5" fill="#81c988"/>
<circle cx="326.7" cy="168.7" r="1.5" fill="#4d9f58"/>
<circle cx="312.8" cy="170.0" r="1.5" fill="#3d9148"/>
<circle cx="288.1" cy="172.5" r="1.5" fill="#95d89b"/>
<circle cx="284.2" cy="168.7" r="1.5" fill="#93d799"/>
<circle cx="299.6" cy="166.2" r="1.5" fill="#69b673"/>
<circle cx="291.9" cy="165.0" r="1.5" fill="#88ce8f"/>
<circle cx="281.4" cy="168.7" r="1.5" fill="#72be7b"/>
<circle cx="311.8" cy="168.7" r="1.5" fill="#5aaa64"/>
<circle cx="301.8" cy="168.7" r="1.5" fill="#80c887"/>
<circle cx="302.4" cy="166.2" r="1.5" fill="#86cd8d"/>
<circle cx="300.0" cy="171.2" r="1.5" fill="#73be7c"/>
<circle cx="291.7" cy="166.2" r="1.5" fill="#7dc685"/>
<circle cx="304.9" cy="167.5" r="1.5" fill="#33893e"/>
<circle cx="301.2" cy="165.0" r="1.5" fill="#6ebb78"/>
<circle cx="290.6" cy="166.2" r="1.5" fill="#76c07e"/>
<circle cx="316.7" cy="168.7" r="1.5" fill="#42964e"/>
<circle cx="309.8" cy="168.7" r="1.5" fill="#3f934a"/>
<circle cx="292.4" cy="170.0" r="1.5" fill="#72be7b"/>
<circle cx="316.0" cy="167.5" r="1.5" fill="#398e44"/>
<circle cx="314.2" cy="170.0" r="1.5" fill="#398e44"/>
<circle cx="294.5" cy="172.5" r="1.5" fill="#87cd8e"/>
<circle cx="299.0" cy="167.5" r="1.5" fill="#8cd293"/>
<circle cx="317.3" cy="170.0" r="1.5" fill="#5bab65"/>
<circle cx="292.8" cy="168.7" r="1.5" fill="#96d99c"/>
<circle cx="296.7" cy="168.7" r="1.5" fill="#91d597"/>
<circle cx="291.2" cy="170.0" r="1.5" fill="#94d79a"/>
<circle cx="303.1" cy="170.0" r="1.5" fill="#388d43"/>
<circle cx="291.4" cy="173.7" r="1.5" fill="#87ce8e"/>
<circle cx="299.4" cy="163.7" r="1.5" fill="#68b672"/>
<circle cx="291.1" cy="167.5" r="1.5" fill="#6ebb78"/>
<circle cx="287.9" cy="166.2" r="1.5" fill="#7dc685"/>
<circle cx="292.4" cy="171.2" r="1.5" fill="#79c382"/>
<circle cx="318.4" cy="168.7" r="1.5" fill="#469951"/>
<circle cx="318.6" cy="168.7" r="1.5" fill="#43974e"/>
<circle cx="301.4" cy="166.2" r="1.5" fill="#74bf7d"/>
<circle cx="326.2" cy="168.7" r="1.5" fill="#52a35d"/>
<circle cx="288.4" cy="171.2" r="1.5" fill="#93d799"/>
<circle cx="295.8" cy="167.5" r="1.5" fill="#8dd294"/>
<circle cx="290.5" cy="165.0" r="1.5" fill="#98da9d"/>
<circle cx="289.8" cy="168.7" r="1.5" fill="#93d699"/>
<circle cx="315.1" cy="168.7" r="1.5" fill="#5bab66"/>
<circle cx="308.2" cy="170.0" r="1.5" fill="#32893e"/>
<circle cx="311.7" cy="170.0" r="1.5" fill="#51a35c"/>
<circle cx="323.4" cy="170.0" r="1.5" fill="#5bab65"/>
<circle cx="307.0" cy="168.7" r="1.5" fill="#3a8f46"/>
<circle cx="289.9" cy="171.2" r="1.5" fill="#77c17f"/>
<circle cx="293.9" cy="171.2" r="1.5" fill="#89cf90"/>
<circle cx="295.8" cy="172.5" r="1.5" fill="#86cd8e"/>
<circle cx="273.0" cy="168.7" r="1.5" fill="#70bc79"/>
<circle cx="299.8" cy="167.5" r="1.5" fill="#71bd7a"/>
<circle cx="295.9" cy="163.7" r="1.5" fill="#6ebb78"/>
<circle cx="292.2" cy="162.5" r="1.5" fill="#84cb8b"/>
<circle cx="309.6" cy="170.0" r="1.5" fill="#41954c"/>
<circle cx="311.2" cy="167.5" r="1.5" fill="#469951"/>
<circle cx="298.2" cy="163.7" r="1.5" fill="#97da9d"/>
<circle cx="296.2" cy="168.7" r="1.5" fill="#7fc787"/>
<circle cx="300.5" cy="163.7" r="1.5" fill="#8fd496"/>
<circle cx="289.2" cy="171.2" r="1.5" fill="#96d99c"/>
<circle cx="315.8" cy="168.7" r="1.5" fill="#3d9249"/>
<circle cx="297.9" cy="170.0" r="1.5" fill="#83ca8a"/>
<circle cx="219.5" cy="168.7" r="1.5" fill="#9edfa3"/>
<circle cx="226.0" cy="168.7" r="1.5" fill="#9edfa3"/>
<circle cx="230.0" cy="168.7" r="1.5" fill="#9edfa3"/>
<circle cx="243.5" cy="168.7" r="1.5" fill="#9edfa3"/>
<circle cx="249.0" cy="168.7" r="1.5" fill="#9edfa3"/>
<circle cx="251.5" cy="168.7" r="1.5" fill="#9edfa3"/>
<circle cx="254.0" cy="168.7" r="1.5" fill="#9edfa3"/>
<circle cx="258.5" cy="168.7" r="1.5" fill="#9edfa3"/>
<circle cx="267.0" cy="168.7" r="1.5" fill="#9edfa3"/>
<circle cx="271.5" cy="168.7" r="1.5" fill="#62b16c"/>
<circle cx="337.0" cy="168.7" r="1.5" fill="#3b9046"/>
</g>
<g>
<circle cx="287.5" cy="191.9" r="1.5" fill="#86cd8d"/>
<circle cx="275.8" cy="189.4" r="1.5" fill="#93d799"/>
<circle cx="287.5" cy="188.1" r="1.5" fill="#7cc584"/>
<circle cx="278.4" cy="189.4" r="1.5" fill="#6dba77"/>
<circle cx="303.8" cy="189.4" r="1.5" fill="#82ca8a"/>
<circle cx="303.1" cy="188.1" r="1.5" fill="#76c07e"/>
<circle cx="314.4" cy="189.4" r="1.5" fill="#a4e3a8"/>
<circle cx="294.1" cy="185.6" r="1.5" fill="#7cc584"/>
<circle cx="265.8" cy="188.1" r="1.5" fill="#44974f"/>
<circle cx="271.9" cy="188.1" r="1.5" fill="#54a55e"/>
<circle cx="287.5" cy="190.6" r="1.5" fill="#70bc7a"/>
<circle cx="263.9" cy="188.1" r="1.5" fill="#3f944b"/>
<circle cx="297.8" cy="183.1" r="1.5" fill="#95d89b"/>
<circle cx="313.7" cy="188.1" r="1.5" fill="#85cc8d"/>
<circle cx="291.0" cy="191.9" r="1.5" fill="#79c381"/>
<circle cx="304.0" cy="186.9" r="1.5" fill="#95d89b"/>
<circle cx="281.6" cy="189.4" r="1.5" fill="#5ead68"/>
<circle cx="295.0" cy="190.6" r="1.5" fill="#75c07e"/>
<circle cx="290.7" cy="183.1" r="1.5" fill="#66b570"/>
<circle cx="298.1" cy="191.9" r="1.5" fill="#6ab874"/>
<circle cx="290.3" cy="186.9" r="1.5" fill="#70bc7a"/>
<circle cx="299.8" cy="189.4" r="1.5" fill="#8dd294"/>
<circle cx="302.3" cy="190.6" r="1.5" fill="#73be7c"/>
<circle cx="288.7" cy="186.9" r="1.5" fill="#78c280"/>
<circle cx="280.8" cy="189.4" r="1.5" fill="#57a761"/>
<circle cx="314.6" cy="188.1" r="1.5" fill="#8dd294"/>
<circle cx="291.4" cy="190.6" r="1.5" fill="#62b16c"/>
<circle cx="280.9" cy="188.1" r="1.5" fill="#7dc685"/>
<circle cx="279.1" cy="188.1" r="1.5" fill="#83cb8b"/>
<circle cx="291.0" cy="189.4" r="1.5" fill="#74bf7d"/>
<circle cx="310.2" cy="188.1" r="1.5" fill="#84cb8c"/>
<circle cx="284.8" cy="189.4" r="1.5" fill="#73be7c"/>
<circle cx="292.5" cy="188.1" r="1.5" fill="#75c07e"/>
<circle cx="281.5" cy="190.6" r="1.5" fill="#5dad67"/>
<circle cx="290.1" cy="193.1" r="1.5" fill="#6bb875"/>
<circle cx="287.0" cy="188.1" r="1.5" fill="#57a761"/>
<circle cx="299.0" cy="190.6" r="1.5" fill="#65b46f"/>
<circle cx="259.2" cy="188.1" r="1.5" fill="#90d597"/>
<circle cx="299.1" cy="188.1" r="1.5" fill="#96d99c"/>
<circle cx="288.9" cy="188.1" r="1.5" fill="#77c17f"/>
<circle cx="300.0" cy="188.1" r="1.5" fill="#95d89b"/>
<circle cx="295.8" cy="189.4" r="1.5" fill="#7cc585"/>
<circle cx="301.7" cy="191.9" r="1.5" fill="#73bf7c"/>
<circle cx="287.5" cy="190.6" r="1.5" fill="#7dc685"/>
<circle cx="294.6" cy="185.6" r="1.5" fill="#7dc685"/>
<circle cx="299.5" cy="185.6" r="1.5" fill="#6cb976"/>
<circle cx="304.4" cy="190.6" r="1.5" fill="#9cdda1"/>
<circle cx="309.1" cy="189.4" r="1.5" fill="#98da9e"/>
<circle cx="292.4" cy="190.6" r="1.5" fill="#80c888"/>
<circle cx="296.2" cy="191.9" r="1.5" fill="#91d597"/>
<circle cx="283.1" cy="185.6" r="1.5" fill="#76c07f"/>
<circle cx="282.4" cy="188.1" r="1.5" fill="#52a45d"/>
<circle cx="298.3" cy="189.4" r="1.5" fill="#87ce8e"/>
<circle cx="280.0" cy="186.9" r="1.5" fill="#73bf7c"/>
<circle cx="293.8" cy="191.9" r="1.5" fill="#74bf7d"/>
<circle cx="303.5" cy="189.4" r="1.5" fill="#72be7b"/>
<circle cx="287.7" cy="185.6" r="1.5" fill="#51a35c"/>
<circle cx="311.6" cy="189.4" r="1.5" fill="#9fdfa4"/>
<circle cx="301.4" cy="191.9" r="1.5" fill="#8dd294"/>
<circle cx="301.6" cy="186.9" r="1.5" fill="#86cc8d"/>
<circle cx="296.7" cy="184.4" r="1.5" fill="#56a761"/>
<circle cx="290.2" cy="189.4" r="1.5" fill="#5dad67"/>
<circle cx="292.0" cy="186.9" r="1.5" fill="#8ed395"/>
<circle cx="300.3" cy="190.6" r="1.5" fill="#82ca8a"/>
<circle cx="262.7" cy="188.1" r="1.5" fill="#4b9d56"/>
<circle cx="298.4" cy="186.9" r="1.5" fill="#7bc583"/>
<circle cx="297.6" cy="194.4" r="1.5" fill="#68b672"/>
<circle cx="284.2" cy="190.6" r="1.5" fill="#66b470"/>
<circle cx="283.0" cy="189.4" r="1.5" fill="#8ad091"/>
<circle cx="275.0" cy="188.1" r="1.5" fill="#8fd395"/>
<circle cx="279.6" cy="189.4" r="1.5" fill="#88ce8f"/>
<circle cx="295.9" cy="185.6" r="1.5" fill="#75c07d"/>
<circle cx="290.8" cy="186.9" r="1.5" fill="#95d89b"/>
<circle cx="299.7" cy="186.9" r="1.5" fill="#74bf7d"/>
<circle cx="294.3" cy="189.4" r="1.5" fill="#5aaa64"/>
<circle cx="277.8" cy="185.6" r="1.5" fill="#64b26e"/>
<circle cx="302.8" cy="190.6" r="1.5" fill="#6dba76"/>
<circle cx="288.4" cy="186.9" r="1.5" fill="#97da9d"/>
<circle cx="306.0" cy="186.9" r="1.5" fill="#74bf7d"/>
<circle cx="311.4" cy="189.4" r="1.5" fill="#93d799"/>
<circle cx="302.4" cy="184.4" r="1.5" fill="#a4e3a8"/>
<circle cx="311.9" cy="186.9" r="1.5" fill="#a0e1a5"/>
<circle cx="286.3" cy="189.4" r="1.5" fill="#85cc8c"/>
<circle cx="300.6" cy="185.6" r="1.5" fill="#90d597"/>
<circle cx="290.3" cy="184.4" r="1.5" fill="#6fbb78"/>
<circle cx="285.8" cy="186.9" r="1.5" fill="#76c07f"/>
<circle cx="305.3" cy="189.4" r="1.5" fill="#75c07e"/>
<circle cx="281.4" cy="186.9" r="1.5" fill="#50a15b"/>
<circle cx="313.0" cy="189.4" r="1.5" fill="#9edfa3"/>
<circle cx="306.2" cy="189.4" r="1.5" fill="#6dba76"/>
<circle cx="283.9" cy="189.4" r="1.5" fill="#51a35c"/>
<circle cx="312.8" cy="188.1" r="1.5" fill="#95d89b"/>
<circle cx="298.2" cy="181.9" r="1.5" fill="#65b36f"/>
<circle cx="309.9" cy="189.4" r="1.5" fill="#9cdea2"/>
<circle cx="310.8" cy="188.1" r="1.5" fill="#97da9d"/>
<circle cx="293.3" cy="189.4" r="1.5" fill="#5bab65"/>
<circle cx="285.7" cy="191.9" r="1.5" fill="#68b672"/>
<circle cx="274.0" cy="188.1" r="1.5" fill="#4a9d55"/>
<circle cx="295.6" cy="186.9" r="1.5" fill="#6bb975"/>
<circle cx="276.1" cy="188.1" r="1.5" fill="#70bc79"/>
<circle cx="279.0" cy="190.6" r="1.5" fill="#6ab874"/>
<circle cx="308.0" cy="188.1" r="1.5" fill="#9cdea2"/>
<circle cx="290.0" cy="190.6" r="1.5" fill="#8dd294"/>
<circle cx="283.1" cy="188.1" r="1.5" fill="#85cc8d"/>
<circle cx="308.8" cy="186.9" r="1.5" fill="#8ad091"/>
<circle cx="277.5" cy="189.4" r="1.5" fill="#81c989"/>
<circle cx="306.7" cy="189.4" r="1.5" fill="#6fbb79"/>
<circle cx="283.7" cy="188.1" r="1.5" fill="#95d89b"/>
<circle cx="281.6" cy="186.9" r="1.5" fill="#71bc7a"/>
<circle cx="303.3" cy="186.9" r="1.5" fill="#90d597"/>
<circle cx="292.9" cy="186.9" r="1.5" fill="#94d79a"/>
<circle cx="287.5" cy="185.6" r="1.5" fill="#5dac67"/>
<circle cx="277.5" cy="186.9" r="1.5" fill="#6fbc79"/>
<circle cx="283.9" cy="186.9" r="1.5" fill="#79c382"/>
<circle cx="274.3" cy="189.4" r="1.5" fill="#40944b"/>
<circle cx="297.8" cy="188.1" r="1.5" fill="#94d79a"/>
<circle cx="279.0" cy="189.4" r="1.5" fill="#96d99c"/>
<circle cx="290.2" cy="191.9" r="1.5" fill="#8ad091"/>
<circle cx="304.6" cy="188.1" r="1.5" fill="#7cc584"/>
<circle cx="272.9" cy="188.1" r="1.5" fill="#3d9249"/>
<circle cx="302.4" cy="185.6" r="1.5" fill="#97da9d"/>
<circle cx="307.3" cy="186.9" r="1.5" fill="#a0e0a5"/>
<circle cx="298.4" cy="193.1" r="1.5" fill="#82ca8a"/>
<circle cx="296.6" cy="188.1" r="1.5" fill="#6dba76"/>
<circle cx="301.3" cy="186.9" r="1.5" fill="#a4e3a8"/>
<circle cx="286.6" cy="191.9" r="1.5" fill="#83cb8b"/>
<circle cx="295.3" cy="189.4" r="1.5" fill="#96d99c"/>
<circle cx="294.5" cy="184.4" r="1.5" fill="#6cb976"/>
<circle cx="297.3" cy="183.1" r="1.5" fill="#83ca8a"/>
<circle cx="298.2" cy="184.4" r="1.5" fill="#8dd294"/>
<circle cx="286.3" cy="190.6" r="1.5" fill="#7dc686"/>
<circle cx="285.2" cy="190.6" r="1.5" fill="#92d698"/>
<circle cx="277.9" cy="188.1" r="1.5" fill="#53a45d"/>
<circle cx="288.6" cy="189.4" r="1.5" fill="#68b672"/>
<circle cx="290.3" cy="183.1" r="1.5" fill="#54a55f"/>
<circle cx="274.6" cy="186.9" r="1.5" fill="#88ce8f"/>
<circle cx="282.2" cy="185.6" r="1.5" fill="#85cc8d"/>
<circle cx="274.7" cy="189.4" r="1.5" fill="#97da9d"/>
<circle cx="284.6" cy="188.1" r="1.5" fill="#7cc584"/>
<circle cx="297.3" cy="191.9" r="1.5" fill="#54a55f"/>
<circle cx="308.9" cy="188.1" r="1.5" fill="#9ddea2"/>
<circle cx="272.6" cy="189.4" r="1.5" fill="#41954c"/>
<circle cx="301.3" cy="189.4" r="1.5" fill="#9ddea2"/>
<circle cx="297.4" cy="189.4" r="1.5" fill="#6dba76"/>
<circle cx="290.2" cy="188.1" r="1.5" fill="#96d99c"/>
<circle cx="292.2" cy="188.1" r="1.5" fill="#86cd8d"/>
<circle cx="287.4" cy="189.4" r="1.5" fill="#76c07e"/>
<circle cx="289.9" cy="185.6" r="1.5" fill="#85cc8c"/>
<circle cx="307.2" cy="190.6" r="1.5" fill="#9fdfa4"/>
<circle cx="298.4" cy="185.6" r="1.5" fill="#79c381"/>
<circle cx="296.8" cy="185.6" r="1.5" fill="#68b672"/>
<circle cx="286.3" cy="185.6" r="1.5" fill="#5aaa65"/>
<circle cx="282.6" cy="186.9" r="1.5" fill="#64b36e"/>
<circle cx="293.9" cy="188.1" r="1.5" fill="#52a35d"/>
<circle cx="298.7" cy="189.4" r="1.5" fill="#5ead68"/>
<circle cx="290.5" cy="188.1" r="1.5" fill="#67b571"/>
<circle cx="306.8" cy="188.1" r="1.5" fill="#9edfa3"/>
<circle cx="295.5" cy="188.1" r="1.5" fill="#88ce8f"/>
<circle cx="298.8" cy="185.6" r="1.5" fill="#6cb976"/>
<circle cx="280.0" cy="188.1" r="1.5" fill="#5ead68"/>
<circle cx="296.9" cy="193.1" r="1.5" fill="#6ebb78"/>
<circle cx="289.1" cy="190.6" r="1.5" fill="#94d79a"/>
<circle cx="277.1" cy="188.1" r="1.5" fill="#78c281"/>
<circle cx="286.4" cy="188.1" r="1.5" fill="#5bab66"/>
<circle cx="279.1" cy="186.9" r="1.5" fill="#81c988"/>
<circle cx="291.6" cy="189.4" r="1.5" fill="#57a761"/>
<circle cx="290.8" cy="185.6" r="1.5" fill="#85cc8d"/>
<circle cx="294.0" cy="190.6" r="1.5" fill="#82ca8a"/>
<circle cx="302.1" cy="188.1" r="1.5" fill="#7ac482"/>
<circle cx="295.4" cy="186.9" r="1.5" fill="#5aaa64"/>
<circle cx="301.6" cy="193.1" r="1.5" fill="#72be7b"/>
<circle cx="298.7" cy="186.9" r="1.5" fill="#7dc685"/>
<circle cx="308.4" cy="189.4" r="1.5" fill="#a1e1a6"/>
<circle cx="293.2" cy="185.6" r="1.5" fill="#57a862"/>
<circle cx="284.0" cy="191.9" r="1.5" fill="#6fbb78"/>
<circle cx="291.4" cy="193.1" r="1.5" fill="#6fbb79"/>
<circle cx="289.3" cy="185.6" r="1.5" fill="#96d99c"/>
<circle cx="285.1" cy="185.6" r="1.5" fill="#93d699"/>
<circle cx="315.8" cy="188.1" r="1.5" fill="#7cc585"/>
<circle cx="277.6" cy="186.9" r="1.5" fill="#91d597"/>
<circle cx="278.1" cy="190.6" r="1.5" fill="#66b470"/>
<circle cx="304.3" cy="188.1" r="1.5" fill="#7bc483"/>
<circle cx="303.7" cy="185.6" r="1.5" fill="#6fbb78"/>
<circle cx="283.9" cy="185.6" r="1.5" fill="#69b773"/>
<circle cx="309.8" cy="186.9" r="1.5" fill="#92d699"/>
<circle cx="295.5" cy="188.1" r="1.5" fill="#6ebb78"/>
<circle cx="270.4" cy="188.1" r="1.5" fill="#3c9148"/>
<circle cx="293.7" cy="186.9" r="1.5" fill="#6eba77"/>
<circle cx="284.5" cy="186.9" r="1.5" fill="#70bc79"/>
<circle cx="291.0" cy="184.4" r="1.5" fill="#78c280"/>
<circle cx="297.3" cy="186.9" r="1.5" fill="#4fa15a"/>
<circle cx="298.2" cy="190.6" r="1.5" fill="#5ead68"/>
<circle cx="287.9" cy="189.4" r="1.5" fill="#79c381"/>
<circle cx="270.5" cy="188.1" r="1.5" fill="#52a35c"/>
<circle cx="306.2" cy="188.1" r="1.5" fill="#91d597"/>
<circle cx="292.5" cy="190.6" r="1.5" fill="#93d799"/>
<circle cx="267.7" cy="188.1" r="1.5" fill="#4ea058"/>
<circle cx="297.4" cy="190.6" r="1.5" fill="#95d89b"/>
<circle cx="302.3" cy="189.4" r="1.5" fill="#9ddea2"/>
<circle cx="286.6" cy="186.9" r="1.5" fill="#72be7b"/>
<circle cx="282.6" cy="190.6" r="1.5" fill="#68b672"/>
<circle cx="281.4" cy="190.6" r="1.5" fill="#4fa15a"/>
<circle cx="301.2" cy="190.6" r="1.5" fill="#7bc483"/>
<circle cx="300.6" cy="188.1" r="1.5" fill="#74bf7d"/>
<circle cx="295.9" cy="190.6" r="1.5" fill="#71bd7a"/>
<circle cx="299.5" cy="191.9" r="1.5" fill="#6eba77"/>
<circle cx="312.1" cy="188.1" r="1.5" fill="#92d698"/>
<circle cx="322.0" cy="188.1" r="1.5" fill="#9edfa3"/>
<circle cx="325.0" cy="188.1" r="1.5" fill="#9edfa3"/>
<circle cx="331.0" cy="188.1" r="1.5" fill="#9edfa3"/>
<circle cx="333.5" cy="188.1" r="1.5" fill="#9edfa3"/>
<circle cx="336.0" cy="188.1" r="1.5" fill="#9edfa3"/>
<circle cx="353.5" cy="188.1" r="1.5" fill="#9edfa3"/>
</g>
<g>
<circle cx="291.4" cy="211.2" r="1.5" fill="#9edfa3"/>
<circle cx="296.5" cy="206.2" r="1.5" fill="#6ab874"/>
<circle cx="299.4" cy="210.0" r="1.5" fill="#a0e0a5"/>
<circle cx="301.8" cy="205.0" r="1.5" fill="#62b16c"/>
<circle cx="297.8" cy="206.2" r="1.5" fill="#91d597"/>
<circle cx="290.9" cy="203.7" r="1.5" fill="#73bf7c"/>
<circle cx="303.2" cy="206.2" r="1.5" fill="#499c54"/>
<circle cx="283.2" cy="208.7" r="1.5" fill="#5dad68"/>
<circle cx="297.9" cy="210.0" r="1.5" fill="#78c281"/>
<circle cx="294.0" cy="207.5" r="1.5" fill="#81c988"/>
<circle cx="299.0" cy="203.7" r="1.5" fill="#6bb874"/>
<circle cx="285.7" cy="205.0" r="1.5" fill="#92d698"/>
<circle cx="289.9" cy="206.2" r="1.5" fill="#76c07f"/>
<circle cx="287.0" cy="206.2" r="1.5" fill="#7fc787"/>
<circle cx="293.5" cy="208.7" r="1.5" fill="#9adca0"/>
<circle cx="294.6" cy="206.2" r="1.5" fill="#7fc787"/>
<circle cx="280.7" cy="207.5" r="1.5" fill="#7ac483"/>
<circle cx="286.2" cy="206.2" r="1.5" fill="#91d598"/>
<circle cx="279.8" cy="207.5" r="1.5" fill="#9ddea2"/>
<circle cx="298.8" cy="206.2" r="1.5" fill="#83ca8a"/>
<circle cx="283.6" cy="208.7" r="1.5" fill="#5fae69"/>
<circle cx="310.1" cy="207.5" r="1.5" fill="#96d99c"/>
<circle cx="291.5" cy="210.0" r="1.5" fill="#90d497"/>
<circle cx="291.0" cy="205.0" r="1.5" fill="#a2e2a7"/>
<circle cx="295.7" cy="207.5" r="1.5" fill="#6cb976"/>
<circle cx="288.0" cy="205.0" r="1.5" fill="#9edfa3"/>
<circle cx="291.4" cy="207.5" r="1.5" fill="#a1e1a6"/>
<circle cx="300.2" cy="210.0" r="1.5" fill="#86cd8d"/>
<circle cx="299.6" cy="203.7" r="1.5" fill="#57a761"/>
<circle cx="286.6" cy="207.5" r="1.5" fill="#89cf90"/>
<circle cx="284.0" cy="207.5" r="1.5" fill="#90d496"/>
<circle cx="296.6" cy="206.2" r="1.5" fill="#7bc483"/>
<circle cx="312.3" cy="207.5" r="1.5" fill="#72bd7b"/>
<circle cx="306.0" cy="210.0" r="1.5" fill="#71bd7a"/>
<circle cx="301.6" cy="211.2" r="1.5" fill="#95d89b"/>
<circle cx="308.5" cy="206.2" r="1.5" fill="#66b470"/>
<circle cx="295.4" cy="212.5" r="1.5" fill="#75c07e"/>
<circle cx="308.3" cy="210.0" r="1.5" fill="#51a35c"/>
<circle cx="304.7" cy="210.0" r="1.5" fill="#61b06c"/>
<circle cx="301.7" cy="203.7" r="1.5" fill="#69b773"/>
<circle cx="283.2" cy="207.5" r="1.5" fill="#8bd192"/>
<circle cx="299.4" cy="207.5" r="1.5" fill="#a3e3a8"/>
<circle cx="316.1" cy="207.5" r="1.5" fill="#4fa15a"/>
<circle cx="296.4" cy="212.5" r="1.5" fill="#7cc584"/>
<circle cx="299.9" cy="206.2" r="1.5" fill="#44984f"/>
<circle cx="289.6" cy="207.5" r="1.5" fill="#8cd192"/>
<circle cx="292.6" cy="202.5" r="1.5" fill="#5bab66"/>
<circle cx="293.6" cy="206.2" r="1.5" fill="#6ab874"/>
<circle cx="298.0" cy="207.5" r="1.5" fill="#93d699"/>
<circle cx="285.7" cy="210.0" r="1.5" fill="#93d799"/>
<circle cx="305.5" cy="207.5" r="1.5" fill="#4fa159"/>
<circle cx="296.3" cy="208.7" r="1.5" fill="#8bd192"/>
<circle cx="291.5" cy="207.5" r="1.5" fill="#78c281"/>
<circle cx="300.2" cy="207.5" r="1.5" fill="#52a35d"/>
<circle cx="281.6" cy="207.5" r="1.5" fill="#99db9f"/>
<circle cx="291.9" cy="208.7" r="1.5" fill="#61b06b"/>
<circle cx="300.1" cy="205.0" r="1.5" fill="#73be7c"/>
<circle cx="302.1" cy="210.0" r="1.5" fill="#76c07e"/>
<circle cx="294.9" cy="202.5" r="1.5" fill="#95d89b"/>
<circle cx="307.1" cy="207.5" r="1.5" fill="#8cd293"/>
<circle cx="284.8" cy="210.0" r="1.5" fill="#70bc79"/>
<circle cx="293.4" cy="210.0" r="1.5" fill="#99db9f"/>
<circle cx="298.7" cy="212.5" r="1.5" fill="#88ce8f"/>
<circle cx="282.4" cy="206.2" r="1.5" fill="#91d597"/>
<circle cx="292.7" cy="206.2" r="1.5" fill="#6fbb78"/>
<circle cx="315.2" cy="207.5" r="1.5" fill="#6ab773"/>
<circle cx="294.6" cy="211.2" r="1.5" fill="#97da9d"/>
<circle cx="289.5" cy="210.0" r="1.5" fill="#80c888"/>
<circle cx="305.8" cy="207.5" r="1.5" fill="#78c281"/>
<circle cx="299.5" cy="212.5" r="1.5" fill="#5dad67"/>
<circle cx="295.2" cy="201.2" r="1.5" fill="#9adc9f"/>
<circle cx="288.1" cy="207.5" r="1.5" fill="#5fae69"/>
<circle cx="284.8" cy="208.7" r="1.5" fill="#84cb8b"/>
<circle cx="304.8" cy="205.0" r="1.5" fill="#499c54"/>
<circle cx="304.3" cy="210.0" r="1.5" fill="#77c17f"/>
<circle cx="286.8" cy="205.0" r="1.5" fill="#9edfa3"/>
<circle cx="291.0" cy="210.0" r="1.5" fill="#8ed395"/>
<circle cx="298.7" cy="205.0" r="1.5" fill="#68b672"/>
<circle cx="294.1" cy="211.2" r="1.5" fill="#83ca8a"/>
<circle cx="309.6" cy="208.7" r="1.5" fill="#4da058"/>
<circle cx="305.3" cy="206.2" r="1.5" fill="#94d79a"/>
<circle cx="280.6" cy="208.7" r="1.5" fill="#6fbc79"/>
<circle cx="291.3" cy="206.2" r="1.5" fill="#82ca8a"/>
<circle cx="297.7" cy="211.2" r="1.5" fill="#80c888"/>
<circle cx="297.1" cy="207.5" r="1.5" fill="#75c07e"/>
<circle cx="300.4" cy="211.2" r="1.5" fill="#54a55f"/>
<circle cx="296.1" cy="211.2" r="1.5" fill="#6ebb78"/>
<circle cx="293.7" cy="205.0" r="1.5" fill="#91d597"/>
<circle cx="302.4" cy="207.5" r="1.5" fill="#7cc584"/>
<circle cx="293.3" cy="213.7" r="1.5" fill="#5fae69"/>
<circle cx="301.6" cy="206.2" r="1.5" fill="#65b36f"/>
<circle cx="292.5" cy="201.2" r="1.5" fill="#6fbc79"/>
<circle cx="295.4" cy="207.5" r="1.5" fill="#9ddea2"/>
<circle cx="303.7" cy="207.5" r="1.5" fill="#4a9c55"/>
<circle cx="309.4" cy="207.5" r="1.5" fill="#5dac67"/>
<circle cx="282.8" cy="205.0" r="1.5" fill="#91d597"/>
<circle cx="303.6" cy="208.7" r="1.5" fill="#88ce8f"/>
<circle cx="290.6" cy="202.5" r="1.5" fill="#5eae69"/>
<circle cx="307.6" cy="207.5" r="1.5" fill="#90d597"/>
<circle cx="303.2" cy="210.0" r="1.5" fill="#72be7c"/>
<circle cx="293.1" cy="205.0" r="1.5" fill="#74bf7d"/>
<circle cx="283.3" cy="210.0" r="1.5" fill="#6cb976"/>
<circle cx="297.3" cy="208.7" r="1.5" fill="#80c988"/>
<circle cx="296.9" cy="210.0" r="1.5" fill="#85cc8d"/>
<circle cx="301.8" cy="208.7" r="1.5" fill="#469951"/>
<circle cx="299.2" cy="211.2" r="1.5" fill="#92d698"/>
<circle cx="286.7" cy="208.7" r="1.5" fill="#74bf7d"/>
<circle cx="297.5" cy="203.7" r="1.5" fill="#9bdda1"/>
<circle cx="289.0" cy="208.7" r="1.5" fill="#a3e2a7"/>
<circle cx="292.6" cy="212.5" r="1.5" fill="#86cd8d"/>
<circle cx="303.2" cy="205.0" r="1.5" fill="#7fc887"/>
<circle cx="289.6" cy="210.0" r="1.5" fill="#9edfa3"/>
<circle cx="287.8" cy="210.0" r="1.5" fill="#7ac482"/>
<circle cx="284.0" cy="210.0" r="1.5" fill="#8bd192"/>
<circle cx="285.7" cy="208.7" r="1.5" fill="#62b16c"/>
<circle cx="291.3" cy="208.7" r="1.5" fill="#88ce8f"/>
<circle cx="299.4" cy="202.5" r="1.5" fill="#6bb874"/>
<circle cx="318.3" cy="207.5" r="1.5" fill="#84cb8c"/>
<circle cx="291.4" cy="212.5" r="1.5" fill="#5dad67"/>
<circle cx="285.1" cy="207.5" r="1.5" fill="#92d698"/>
<circle cx="302.6" cy="207.5" r="1.5" fill="#6bb875"/>
<circle cx="300.0" cy="202.5" r="1.5" fill="#76c07e"/>
<circle cx="287.8" cy="206.2" r="1.5" fill="#89cf90"/>
<circle cx="294.5" cy="205.0" r="1.5" fill="#94d79a"/>
<circle cx="292.5" cy="203.7" r="1.5" fill="#5faf6a"/>
<circle cx="285.3" cy="206.2" r="1.5" fill="#7ec786"/>
<circle cx="294.7" cy="210.0" r="1.5" fill="#9ddea3"/>
<circle cx="297.6" cy="208.7" r="1.5" fill="#7fc787"/>
<circle cx="289.3" cy="207.5" r="1.5" fill="#95d89b"/>
<circle cx="300.9" cy="207.5" r="1.5" fill="#67b571"/>
<circle cx="285.6" cy="211.2" r="1.5" fill="#7ec786"/>
<circle cx="307.3" cy="208.7" r="1.5" fill="#43964e"/>
<circle cx="293.9" cy="210.0" r="1.5" fill="#65b36f"/>
<circle cx="286.8" cy="210.0" r="1.5" fill="#a1e1a6"/>
<circle cx="310.7" cy="207.5" r="1.5" fill="#4da058"/>
<circle cx="284.1" cy="206.2" r="1.5" fill="#8ad091"/>
<circle cx="281.8" cy="210.0" r="1.5" fill="#60af6a"/>
<circle cx="287.6" cy="208.7" r="1.5" fill="#7fc787"/>
<circle cx="294.7" cy="208.7" r="1.5" fill="#7dc686"/>
<circle cx="282.0" cy="208.7" r="1.5" fill="#92d698"/>
<circle cx="286.0" cy="207.5" r="1.5" fill="#97da9d"/>
<circle cx="296.2" cy="205.0" r="1.5" fill="#9cdea2"/>
<circle cx="282.7" cy="206.2" r="1.5" fill="#94d79a"/>
<circle cx="308.0" cy="208.7" r="1.5" fill="#7fc787"/>
<circle cx="298.6" cy="213.7" r="1.5" fill="#66b470"/>
<circle cx="297.6" cy="205.0" r="1.5" fill="#8dd293"/>
<circle cx="306.4" cy="208.7" r="1.5" fill="#8dd293"/>
<circle cx="287.0" cy="211.2" r="1.5" fill="#81c989"/>
<circle cx="300.4" cy="208.7" r="1.5" fill="#55a65f"/>
<circle cx="304.9" cy="208.7" r="1.5" fill="#8bd192"/>
<circle cx="301.1" cy="206.2" r="1.5" fill="#90d597"/>
<circle cx="295.7" cy="210.0" r="1.5" fill="#9bdda1"/>
<circle cx="292.3" cy="206.2" r="1.5" fill="#79c382"/>
<circle cx="282.2" cy="205.0" r="1.5" fill="#6ebb77"/>
<circle cx="289.0" cy="205.0" r="1.5" fill="#72be7b"/>
<circle cx="302.8" cy="208.7" r="1.5" fill="#43974e"/>
<circle cx="286.0" cy="203.7" r="1.5" fill="#73be7c"/>
<circle cx="311.0" cy="208.7" r="1.5" fill="#6fbb78"/>
<circle cx="288.7" cy="211.2" r="1.5" fill="#5ead68"/>
<circle cx="294.0" cy="208.7" r="1.5" fill="#9adc9f"/>
<circle cx="301.4" cy="208.7" r="1.5" fill="#86cd8d"/>
<circle cx="301.2" cy="210.0" r="1.5" fill="#4fa15a"/>
<circle cx="306.7" cy="210.0" r="1.5" fill="#58a963"/>
<circle cx="288.7" cy="206.2" r="1.5" fill="#81c989"/>
<circle cx="307.2" cy="206.2" r="1.5" fill="#82c989"/>
<circle cx="292.5" cy="207.5" r="1.5" fill="#91d597"/>
<circle cx="292.9" cy="211.2" r="1.5" fill="#9bdca0"/>
<circle cx="295.4" cy="203.7" r="1.5" fill="#82c989"/>
<circle cx="298.8" cy="208.7" r="1.5" fill="#60af6a"/>
<circle cx="308.6" cy="208.7" r="1.5" fill="#61b06b"/>
<circle cx="290.1" cy="208.7" r="1.5" fill="#96d99c"/>
<circle cx="303.8" cy="206.2" r="1.5" fill="#86cd8d"/>
<circle cx="295.1" cy="213.7" r="1.5" fill="#6ebb77"/>
<circle cx="296.0" cy="203.7" r="1.5" fill="#6cb976"/>
<circle cx="306.2" cy="206.2" r="1.5" fill="#7ac382"/>
<circle cx="285.3" cy="205.0" r="1.5" fill="#61b06c"/>
<circle cx="241.5" cy="207.5" r="1.5" fill="#9edfa3"/>
<circle cx="244.0" cy="207.5" r="1.5" fill="#9edfa3"/>
<circle cx="246.5" cy="207.5" r="1.5" fill="#9edfa3"/>
<circle cx="253.0" cy="207.5" r="1.5" fill="#9edfa3"/>
<circle cx="255.5" cy="207.5" r="1.5" fill="#9edfa3"/>
<circle cx="258.0" cy="207.5" r="1.5" fill="#9edfa3"/>
<circle cx="260.0" cy="207.5" r="1.5" fill="#9edfa3"/>
<circle cx="262.5" cy="207.5" r="1.5" fill="#9edfa3"/>
<circle cx="267.0" cy="207.5" r="1.5" fill="#9edfa3"/>
<circle cx="269.5" cy="207.5" r="1.5" fill="#9edfa3"/>
<circle cx="272.0" cy="207.5" r="1.5" fill="#9edfa3"/>
<circle cx="274.5" cy="207.5" r="1.5" fill="#9edfa3"/>
<circle cx="277.0" cy="207.5" r="1.5" fill="#9edfa3"/>
<circle cx="328.5" cy="207.5" r="1.5" fill="#3b9046"/>
<circle cx="330.5" cy="207.5" r="1.5" fill="#86cd8d"/>
<circle cx="334.0" cy="207.5" r="1.5" fill="#348a40"/>
</g>
<g>
<circle cx="289.6" cy="225.6" r="1.5" fill="#68b672"/>
<circle cx="300.9" cy="228.1" r="1.5" fill="#60af6a"/>
<circle cx="297.1" cy="229.4" r="1.5" fill="#94d79a"/>
<circle cx="292.1" cy="224.4" r="1.5" fill="#71bd7a"/>
<circle cx="318.4" cy="226.9" r="1.5" fill="#3c9047"/>
<circle cx="304.2" cy="225.6" r="1.5" fill="#6bb975"/>
<circle cx="272.2" cy="226.9" r="1.5" fill="#31883d"/>
<circle cx="319.4" cy="226.9" r="1.5" fill="#3b9047"/>
<circle cx="306.2" cy="225.6" r="1.5" fill="#80c888"/>
<circle cx="304.2" cy="228.1" r="1.5" fill="#8ad091"/>
<circle cx="283.0" cy="225.6" r="1.5" fill="#97da9d"/>
<circle cx="292.5" cy="230.6" r="1.5" fill="#4c9e57"/>
<circle cx="285.8" cy="225.6" r="1.5" fill="#6cb976"/>
<circle cx="292.1" cy="228.1" r="1.5" fill="#7bc583"/>
<circle cx="280.8" cy="228.1" r="1.5" fill="#92d698"/>
<circle cx="303.9" cy="226.9" r="1.5" fill="#4ea059"/>
<circle cx="301.8" cy="225.6" r="1.5" fill="#9adc9f"/>
<circle cx="285.0" cy="228.1" r="1.5" fill="#98db9e"/>
<circle cx="293.6" cy="225.6" r="1.5" fill="#8bd192"/>
<circle cx="297.0" cy="228.1" r="1.5" fill="#56a760"/>
<circle cx="287.8" cy="229.4" r="1.5" fill="#4ea059"/>
<circle cx="292.1" cy="231.9" r="1.5" fill="#7bc483"/>
<circle cx="281.7" cy="228.1" r="1.5" fill="#67b571"/>
<circle cx="279.1" cy="226.9" r="1.5" fill="#58a963"/>
<circle cx="306.4" cy="228.1" r="1.5" fill="#7dc685"/>
<circle cx="296.1" cy="229.4" r="1.5" fill="#91d598"/>
<circle cx="296.7" cy="223.1" r="1.5" fill="#5aaa65"/>
<circle cx="303.3" cy="228.1" r="1.5" fill="#76c07e"/>
<circle cx="296.8" cy="225.6" r="1.5" fill="#50a25b"/>
<circle cx="288.8" cy="230.6" r="1.5" fill="#9adc9f"/>
<circle cx="304.1" cy="224.4" r="1.5" fill="#4d9f58"/>
<circle cx="295.4" cy="225.6" r="1.5" fill="#4b9d56"/>
<circle cx="301.3" cy="226.9" r="1.5" fill="#4d9f58"/>
<circle cx="280.6" cy="226.9" r="1.5" fill="#59a964"/>
<circle cx="304.2" cy="229.4" r="1.5" fill="#72be7c"/>
<circle cx="305.3" cy="225.6" r="1.5" fill="#95d89b"/>
<circle cx="286.1" cy="228.1" r="1.5" fill="#7ec786"/>
<circle cx="295.1" cy="226.9" r="1.5" fill="#94d79a"/>
<circle cx="298.2" cy="225.6" r="1.5" fill="#79c381"/>
<circle cx="288.8" cy="224.4" r="1.5" fill="#5fae69"/>
<circle cx="297.8" cy="230.6" r="1.5" fill="#96d99c"/>
<circle cx="301.3" cy="230.6" r="1.5" fill="#8fd496"/>
<circle cx="292.8" cy="223.1" r="1.5" fill="#57a862"/>
<circle cx="292.3" cy="226.9" r="1.5" fill="#66b571"/>
<circle cx="282.8" cy="228.1" r="1.5" fill="#9adc9f"/>
<circle cx="301.5" cy="230.6" r="1.5" fill="#5aaa65"/>
<circle cx="296.7" cy="224.4" r="1.5" fill="#53a45e"/>
<circle cx="293.2" cy="226.9" r="1.5" fill="#8cd293"/>
<circle cx="296.6" cy="226.9" r="1.5" fill="#7ec686"/>
<circle cx="300.5" cy="228.1" r="1.5" fill="#4fa15a"/>
<circle cx="298.5" cy="226.9" r="1.5" fill="#65b36f"/>
<circle cx="288.4" cy="226.9" r="1.5" fill="#4c9e57"/>
<circle cx="277.9" cy="226.9" r="1.5" fill="#388d44"/>
<circle cx="288.9" cy="225.6" r="1.5" fill="#63b26d"/>
<circle cx="291.0" cy="224.4" r="1.5" fill="#51a25b"/>
<circle cx="306.8" cy="225.6" r="1.5" fill="#5eae68"/>
<circle cx="298.4" cy="228.1" r="1.5" fill="#7dc685"/>
<circle cx="307.7" cy="228.1" r="1.5" fill="#50a25b"/>
<circle cx="308.0" cy="226.9" r="1.5" fill="#8bd192"/>
<circle cx="309.6" cy="228.1" r="1.5" fill="#9bdca0"/>
<circle cx="274.6" cy="226.9" r="1.5" fill="#44984f"/>
<circle cx="289.1" cy="228.1" r="1.5" fill="#96d99c"/>
<circle cx="289.1" cy="226.9" r="1.5" fill="#64b36e"/>
<circle cx="288.4" cy="224.4" r="1.5" fill="#9adc9f"/>
<circle cx="298.9" cy="228.1" r="1.5" fill="#99db9e"/>
<circle cx="291.5" cy="229.4" r="1.5" fill="#56a761"/>
<circle cx="300.2" cy="224.4" r="1.5" fill="#9bdca0"/>
<circle cx="289.6" cy="229.4" r="1.5" fill="#51a35c"/>
<circle cx="302.0" cy="228.1" r="1.5" fill="#51a35c"/>
<circle cx="309.2" cy="226.9" r="1.5" fill="#57a862"/>
<circle cx="303.0" cy="224.4" r="1.5" fill="#55a65f"/>
<circle cx="293.6" cy="229.4" r="1.5" fill="#64b36e"/>
<circle cx="298.7" cy="229.4" r="1.5" fill="#69b773"/>
<circle cx="293.2" cy="229.4" r="1.5" fill="#6dba76"/>
<circle cx="291.7" cy="223.1" r="1.5" fill="#79c381"/>
<circle cx="285.7" cy="226.9" r="1.5" fill="#56a660"/>
<circle cx="310.4" cy="226.9" r="1.5" fill="#9edfa4"/>
<circle cx="284.2" cy="228.1" r="1.5" fill="#7dc685"/>
<circle cx="284.1" cy="225.6" r="1.5" fill="#5fae69"/>
<circle cx="324.8" cy="226.9" r="1.5" fill="#9edfa3"/>
<circle cx="284.3" cy="226.9" r="1.5" fill="#51a35c"/>
<circle cx="306.5" cy="226.9" r="1.5" fill="#8ed394"/>
<circle cx="284.7" cy="225.6" r="1.5" fill="#6bb875"/>
<circle cx="305.5" cy="228.1" r="1.5" fill="#51a25b"/>
<circle cx="291.5" cy="229.4" r="1.5" fill="#5cac66"/>
<circle cx="282.4" cy="226.9" r="1.5" fill="#71bd7a"/>
<circle cx="305.3" cy="226.9" r="1.5" fill="#4b9e56"/>
<circle cx="314.1" cy="226.9" r="1.5" fill="#90d497"/>
<circle cx="286.6" cy="228.1" r="1.5" fill="#5aaa64"/>
<circle cx="286.4" cy="229.4" r="1.5" fill="#6eba77"/>
<circle cx="291.0" cy="225.6" r="1.5" fill="#5bab66"/>
<circle cx="302.4" cy="224.4" r="1.5" fill="#4c9f57"/>
<circle cx="298.6" cy="226.9" r="1.5" fill="#9bdda1"/>
<circle cx="300.2" cy="229.4" r="1.5" fill="#97da9d"/>
<circle cx="290.6" cy="226.9" r="1.5" fill="#80c888"/>
<circle cx="286.5" cy="225.6" r="1.5" fill="#5cac67"/>
<circle cx="298.2" cy="223.1" r="1.5" fill="#76c17f"/>
<circle cx="287.5" cy="224.4" r="1.5" fill="#77c180"/>
<circle cx="301.1" cy="224.4" r="1.5" fill="#78c280"/>
<circle cx="293.7" cy="226.9" r="1.5" fill="#79c382"/>
<circle cx="299.5" cy="230.6" r="1.5" fill="#4fa059"/>
<circle cx="298.9" cy="224.4" r="1.5" fill="#57a761"/>
<circle cx="289.4" cy="229.4" r="1.5" fill="#6ebb77"/>
<circle cx="291.0" cy="230.6" r="1.5" fill="#86cd8d"/>
<circle cx="284.8" cy="226.9" r="1.5" fill="#77c180"/>
<circle cx="282.7" cy="226.9" r="1.5" fill="#8ad091"/>
<circle cx="298.5" cy="224.4" r="1.5" fill="#80c888"/>
<circle cx="280.0" cy="228.1" r="1.5" fill="#71bd7a"/>
<circle cx="288.0" cy="225.6" r="1.5" fill="#4a9d55"/>
<circle cx="300.4" cy="226.9" r="1.5" fill="#8cd192"/>
<circle cx="300.3" cy="225.6" r="1.5" fill="#60af6a"/>
<circle cx="294.5" cy="228.1" r="1.5" fill="#6dba77"/>
<circle cx="299.0" cy="223.1" r="1.5" fill="#6ab874"/>
<circle cx="285.3" cy="224.4" r="1.5" fill="#57a761"/>
<circle cx="270.1" cy="226.9" r="1.5" fill="#3c9147"/>
<circle cx="295.9" cy="225.6" r="1.5" fill="#66b570"/>
<circle cx="280.0" cy="226.9" r="1.5" fill="#6eba77"/>
<circle cx="311.6" cy="226.9" r="1.5" fill="#8fd496"/>
<circle cx="290.2" cy="228.1" r="1.5" fill="#89cf90"/>
<circle cx="299.0" cy="225.6" r="1.5" fill="#99db9f"/>
<circle cx="307.0" cy="226.9" r="1.5" fill="#4b9d56"/>
<circle cx="294.9" cy="228.1" r="1.5" fill="#93d699"/>
<circle cx="294.9" cy="224.4" r="1.5" fill="#8fd496"/>
<circle cx="285.4" cy="229.4" r="1.5" fill="#56a761"/>
<circle cx="296.0" cy="224.4" r="1.5" fill="#5fae69"/>
<circle cx="293.2" cy="224.4" r="1.5" fill="#63b16d"/>
<circle cx="307.0" cy="228.1" r="1.5" fill="#64b26e"/>
<circle cx="290.1" cy="226.9" r="1.5" fill="#7fc786"/>
<circle cx="295.0" cy="230.6" r="1.5" fill="#78c281"/>
<circle cx="268.4" cy="226.9" r="1.5" fill="#358b41"/>
<circle cx="286.3" cy="224.4" r="1.5" fill="#7dc685"/>
<circle cx="300.5" cy="225.6" r="1.5" fill="#58a963"/>
<circle cx="303.4" cy="225.6" r="1.5" fill="#94d89a"/>
<circle cx="287.2" cy="226.9" r="1.5" fill="#81c989"/>
<circle cx="314.7" cy="226.9" r="1.5" fill="#9adc9f"/>
<circle cx="322.2" cy="226.9" r="1.5" fill="#3a8f46"/>
<circle cx="324.3" cy="226.9" r="1.5" fill="#96d99c"/>
<circle cx="301.1" cy="229.4" r="1.5" fill="#69b773"/>
<circle cx="301.8" cy="226.9" r="1.5" fill="#83ca8a"/>
<circle cx="283.7" cy="229.4" r="1.5" fill="#6ab773"/>
<circle cx="291.7" cy="225.6" r="1.5" fill="#57a862"/>
<circle cx="320.3" cy="226.9" r="1.5" fill="#398e45"/>
<circle cx="303.3" cy="226.9" r="1.5" fill="#57a761"/>
<circle cx="295.0" cy="229.4" r="1.5" fill="#5cac66"/>
<circle cx="302.9" cy="229.4" r="1.5" fill="#86cd8e"/>
<circle cx="272.8" cy="226.9" r="1.5" fill="#42964d"/>
<circle cx="287.9" cy="228.1" r="1.5" fill="#93d799"/>
<circle cx="296.4" cy="226.9" r="1.5" fill="#78c280"/>
<circle cx="316.7" cy="226.9" r="1.5" fill="#8ed294"/>
<circle cx="297.1" cy="230.6" r="1.5" fill="#7ec786"/>
<circle cx="292.9" cy="225.6" r="1.5" fill="#91d598"/>
<circle cx="298.9" cy="230.6" r="1.5" fill="#4ea059"/>
<circle cx="287.4" cy="229.4" r="1.5" fill="#57a862"/>
<circle cx="296.2" cy="228.1" r="1.5" fill="#93d799"/>
<circle cx="292.4" cy="230.6" r="1.5" fill="#90d496"/>
<circle cx="293.0" cy="228.1" r="1.5" fill="#59aa64"/>
<circle cx="267.2" cy="226.9" r="1.5" fill="#358b41"/>
<circle cx="301.6" cy="229.4" r="1.5" fill="#80c888"/>
<circle cx="291.5" cy="228.1" r="1.5" fill="#95d89b"/>
<circle cx="297.7" cy="229.4" r="1.5" fill="#56a760"/>
<circle cx="253.3" cy="226.9" r="1.5" fill="#348a40"/>
<circle cx="258.5" cy="226.9" r="1.5" fill="#3b9046"/>
<circle cx="261.0" cy="226.9" r="1.5" fill="#3b9046"/>
<circle cx="263.0" cy="226.9" r="1.5" fill="#3b9046"/>
<circle cx="331.0" cy="226.9" r="1.5" fill="#9edfa3"/>
<circle cx="334.0" cy="226.9" r="1.5" fill="#9edfa3"/>
<circle cx="345.0" cy="226.9" r="1.5" fill="#9edfa3"/>
</g>
<g>
<circle cx="289.9" cy="248.8" r="1.5" fill="#59a964"/>
<circle cx="284.9" cy="247.5" r="1.5" fill="#4d9f58"/>
<circle cx="284.6" cy="246.3" r="1.5" fill="#56a660"/>
<circle cx="296.5" cy="246.3" r="1.5" fill="#87ce8f"/>
<circle cx="298.6" cy="245.0" r="1.5" fill="#99db9f"/>
<circle cx="285.9" cy="243.8" r="1.5" fill="#95d89b"/>
<circle cx="295.4" cy="245.0" r="1.5" fill="#85cc8c"/>
<circle cx="289.5" cy="247.5" r="1.5" fill="#459950"/>
<circle cx="282.1" cy="247.5" r="1.5" fill="#44984f"/>
<circle cx="287.5" cy="247.5" r="1.5" fill="#8bd192"/>
<circle cx="295.1" cy="247.5" r="1.5" fill="#88ce8f"/>
<circle cx="278.9" cy="245.0" r="1.5" fill="#67b571"/>
<circle cx="284.2" cy="246.3" r="1.5" fill="#87ce8f"/>
<circle cx="283.4" cy="247.5" r="1.5" fill="#7fc887"/>
<circle cx="284.7" cy="243.8" r="1.5" fill="#81c989"/>
<circle cx="292.0" cy="247.5" r="1.5" fill="#6dba77"/>
<circle cx="286.1" cy="245.0" r="1.5" fill="#6ebb78"/>
<circle cx="293.2" cy="246.3" r="1.5" fill="#52a45d"/>
<circle cx="303.3" cy="246.3" r="1.5" fill="#9adca0"/>
<circle cx="290.5" cy="246.3" r="1.5" fill="#84cb8b"/>
<circle cx="296.1" cy="247.5" r="1.5" fill="#95d89b"/>
<circle cx="294.3" cy="246.3" r="1.5" fill="#64b26e"/>
<circle cx="293.4" cy="243.8" r="1.5" fill="#479a52"/>
<circle cx="296.1" cy="246.3" r="1.5" fill="#69b773"/>
<circle cx="288.5" cy="246.3" r="1.5" fill="#4b9e56"/>
<circle cx="304.4" cy="246.3" r="1.5" fill="#92d598"/>
<circle cx="286.6" cy="243.8" r="1.5" fill="#83ca8a"/>
<circle cx="286.2" cy="250.0" r="1.5" fill="#5cab66"/>
<circle cx="288.3" cy="251.3" r="1.5" fill="#89cf90"/>
<circle cx="275.8" cy="246.3" r="1.5" fill="#6ab874"/>
<circle cx="287.8" cy="248.8" r="1.5" fill="#7ac483"/>
<circle cx="291.5" cy="245.0" r="1.5" fill="#77c17f"/>
<circle cx="289.7" cy="243.8" r="1.5" fill="#4a9d55"/>
<circle cx="294.8" cy="248.8" r="1.5" fill="#8ed395"/>
<circle cx="294.6" cy="246.3" r="1.5" fill="#479b53"/>
<circle cx="295.6" cy="248.8" r="1.5" fill="#6dba76"/>
<circle cx="302.0" cy="247.5" r="1.5" fill="#98da9d"/>
<circle cx="286.3" cy="246.3" r="1.5" fill="#8cd192"/>
<circle cx="287.5" cy="247.5" r="1.5" fill="#50a25b"/>
<circle cx="294.2" cy="248.8" r="1.5" fill="#85cc8c"/>
<circle cx="278.7" cy="247.5" r="1.5" fill="#6fbb79"/>
<circle cx="301.1" cy="246.3" r="1.5" fill="#9cdda1"/>
<circle cx="284.0" cy="248.8" r="1.5" fill="#459850"/>
<circle cx="286.7" cy="248.8" r="1.5" fill="#4fa15a"/>
<circle cx="299.0" cy="246.3" r="1.5" fill="#95d89b"/>
<circle cx="280.1" cy="246.3" r="1.5" fill="#6fbc79"/>
<circle cx="301.8" cy="246.3" r="1.5" fill="#9cdda1"/>
<circle cx="284.4" cy="245.0" r="1.5" fill="#70bc7a"/>
<circle cx="285.0" cy="248.8" r="1.5" fill="#4d9f58"/>
<circle cx="285.7" cy="247.5" r="1.5" fill="#5ead68"/>
<circle cx="282.8" cy="245.0" r="1.5" fill="#78c281"/>
<circle cx="296.9" cy="245.0" r="1.5" fill="#5bab65"/>
<circle cx="289.8" cy="246.3" r="1.5" fill="#87cd8e"/>
<circle cx="300.4" cy="247.5" r="1.5" fill="#9fdfa4"/>
<circle cx="313.2" cy="246.3" r="1.5" fill="#98db9e"/>
<circle cx="296.8" cy="247.5" r="1.5" fill="#5aaa64"/>
<circle cx="280.8" cy="247.5" r="1.5" fill="#55a660"/>
<circle cx="280.0" cy="247.5" r="1.5" fill="#5eae69"/>
<circle cx="297.0" cy="248.8" r="1.5" fill="#76c17f"/>
<circle cx="287.1" cy="246.3" r="1.5" fill="#6dba77"/>
<circle cx="297.7" cy="246.3" r="1.5" fill="#68b672"/>
<circle cx="294.5" cy="247.5" r="1.5" fill="#53a45e"/>
<circle cx="287.6" cy="243.8" r="1.5" fill="#4a9c55"/>
<circle cx="283.1" cy="246.3" r="1.5" fill="#78c281"/>
<circle cx="288.0" cy="250.0" r="1.5" fill="#7cc685"/>
<circle cx="293.6" cy="243.8" r="1.5" fill="#95d89b"/>
<circle cx="282.7" cy="248.8" r="1.5" fill="#4d9f58"/>
<circle cx="298.4" cy="247.5" r="1.5" fill="#69b773"/>
<circle cx="306.4" cy="246.3" r="1.5" fill="#a1e1a6"/>
<circle cx="290.6" cy="247.5" r="1.5" fill="#8fd395"/>
<circle cx="288.6" cy="245.0" r="1.5" fill="#72bd7b"/>
<circle cx="302.8" cy="247.5" r="1.5" fill="#9ddea2"/>
<circle cx="277.9" cy="247.5" r="1.5" fill="#68b672"/>
<circle cx="292.6" cy="247.5" r="1.5" fill="#8cd193"/>
<circle cx="281.6" cy="246.3" r="1.5" fill="#5cac66"/>
<circle cx="289.4" cy="247.5" r="1.5" fill="#479a52"/>
<circle cx="289.0" cy="246.3" r="1.5" fill="#8bd091"/>
<circle cx="277.5" cy="247.5" r="1.5" fill="#5faf6a"/>
<circle cx="301.0" cy="247.5" r="1.5" fill="#92d698"/>
<circle cx="299.1" cy="247.5" r="1.5" fill="#9adca0"/>
<circle cx="284.4" cy="247.5" r="1.5" fill="#6ab874"/>
<circle cx="285.8" cy="248.8" r="1.5" fill="#84cb8b"/>
<circle cx="299.5" cy="246.3" r="1.5" fill="#96d99c"/>
<circle cx="311.8" cy="246.3" r="1.5" fill="#91d597"/>
<circle cx="294.0" cy="245.0" r="1.5" fill="#82ca8a"/>
<circle cx="292.8" cy="245.0" r="1.5" fill="#91d598"/>
<circle cx="310.6" cy="246.3" r="1.5" fill="#96d99c"/>
<circle cx="296.3" cy="245.0" r="1.5" fill="#65b36f"/>
<circle cx="281.1" cy="246.3" r="1.5" fill="#5cac66"/>
<circle cx="285.0" cy="245.0" r="1.5" fill="#54a55e"/>
<circle cx="304.6" cy="246.3" r="1.5" fill="#9ddea2"/>
<circle cx="288.3" cy="245.0" r="1.5" fill="#85cc8c"/>
<circle cx="272.6" cy="246.3" r="1.5" fill="#69b773"/>
<circle cx="289.0" cy="248.8" r="1.5" fill="#71bd7b"/>
<circle cx="292.3" cy="245.0" r="1.5" fill="#59aa64"/>
<circle cx="278.5" cy="246.3" r="1.5" fill="#56a761"/>
<circle cx="291.2" cy="248.8" r="1.5" fill="#79c382"/>
<circle cx="278.3" cy="246.3" r="1.5" fill="#6fbb78"/>
<circle cx="286.6" cy="245.0" r="1.5" fill="#66b570"/>
<circle cx="287.8" cy="242.5" r="1.5" fill="#83cb8b"/>
<circle cx="293.5" cy="248.8" r="1.5" fill="#63b26d"/>
<circle cx="276.5" cy="246.3" r="1.5" fill="#6fbb79"/>
<circle cx="291.6" cy="246.3" r="1.5" fill="#53a45e"/>
<circle cx="289.6" cy="245.0" r="1.5" fill="#65b36f"/>
<circle cx="318.0" cy="246.3" r="1.5" fill="#9edfa3"/>
<circle cx="327.0" cy="246.3" r="1.5" fill="#9edfa3"/>
<circle cx="331.5" cy="246.3" r="1.5" fill="#9edfa3"/>
<circle cx="337.0" cy="246.3" r="1.5" fill="#9edfa3"/>
</g>
<g>
<circle cx="305.5" cy="268.1" r="1.5" fill="#479a52"/>
<circle cx="290.9" cy="265.6" r="1.5" fill="#88ce8f"/>
<circle cx="307.7" cy="265.6" r="1.5" fill="#87cd8e"/>
<circle cx="287.8" cy="266.9" r="1.5" fill="#58a862"/>
<circle cx="292.7" cy="261.9" r="1.5" fill="#5cac67"/>
<circle cx="296.3" cy="264.4" r="1.5" fill="#60b06b"/>
<circle cx="301.3" cy="269.4" r="1.5" fill="#52a35c"/>
<circle cx="301.4" cy="268.1" r="1.5" fill="#65b36f"/>
<circle cx="297.9" cy="259.4" r="1.5" fill="#69b773"/>
<circle cx="297.9" cy="263.1" r="1.5" fill="#4d9f58"/>
<circle cx="290.6" cy="263.1" r="1.5" fill="#68b672"/>
<circle cx="300.6" cy="264.4" r="1.5" fill="#82ca8a"/>
<circle cx="301.2" cy="265.6" r="1.5" fill="#67b571"/>
<circle cx="300.2" cy="265.6" r="1.5" fill="#6bb875"/>
<circle cx="285.6" cy="265.6" r="1.5" fill="#9adc9f"/>
<circle cx="299.9" cy="268.1" r="1.5" fill="#58a963"/>
<circle cx="294.1" cy="263.1" r="1.5" fill="#4fa159"/>
<circle cx="301.6" cy="266.9" r="1.5" fill="#59aa64"/>
<circle cx="295.8" cy="269.4" r="1.5" fill="#70bc79"/>
<circle cx="296.3" cy="265.6" r="1.5" fill="#4b9d56"/>
<circle cx="295.1" cy="264.4" r="1.5" fill="#87ce8f"/>
<circle cx="301.8" cy="263.1" r="1.5" fill="#63b26d"/>
<circle cx="290.6" cy="269.4" r="1.5" fill="#83cb8b"/>
<circle cx="303.1" cy="270.6" r="1.5" fill="#479b53"/>
<circle cx="307.0" cy="266.9" r="1.5" fill="#57a862"/>
<circle cx="293.2" cy="269.4" r="1.5" fill="#489b53"/>
<circle cx="302.6" cy="261.9" r="1.5" fill="#75c07d"/>
<circle cx="297.4" cy="263.1" r="1.5" fill="#79c382"/>
<circle cx="298.7" cy="263.1" r="1.5" fill="#4b9d56"/>
<circle cx="283.8" cy="265.6" r="1.5" fill="#9adca0"/>
<circle cx="303.1" cy="268.1" r="1.5" fill="#5bab66"/>
<circle cx="308.7" cy="264.4" r="1.5" fill="#3f934a"/>
<circle cx="308.9" cy="265.6" r="1.5" fill="#7cc584"/>
<circle cx="291.8" cy="265.6" r="1.5" fill="#64b36e"/>
<circle cx="299.4" cy="270.6" r="1.5" fill="#80c888"/>
<circle cx="303.0" cy="269.4" r="1.5" fill="#7ec786"/>
<circle cx="292.6" cy="264.4" r="1.5" fill="#61b06b"/>
<circle cx="306.3" cy="263.1" r="1.5" fill="#42964d"/>
<circle cx="289.4" cy="268.1" r="1.5" fill="#3e9249"/>
<circle cx="298.0" cy="273.1" r="1.5" fill="#6bb975"/>
<circle cx="293.6" cy="269.4" r="1.5" fill="#58a963"/>
<circle cx="288.3" cy="264.4" r="1.5" fill="#80c888"/>
<circle cx="297.0" cy="265.6" r="1.5" fill="#85cc8c"/>
<circle cx="305.5" cy="265.6" r="1.5" fill="#54a55f"/>
<circle cx="292.5" cy="268.1" r="1.5" fill="#459850"/>
<circle cx="304.4" cy="263.1" r="1.5" fill="#7dc685"/>
<circle cx="299.0" cy="261.9" r="1.5" fill="#79c381"/>
<circle cx="294.0" cy="266.9" r="1.5" fill="#5cac66"/>
<circle cx="307.4" cy="264.4" r="1.5" fill="#7fc787"/>
<circle cx="296.6" cy="268.1" r="1.5" fill="#6ebb78"/>
<circle cx="301.9" cy="268.1" r="1.5" fill="#6eba77"/>
<circle cx="304.2" cy="265.6" r="1.5" fill="#4b9d56"/>
<circle cx="309.4" cy="266.9" r="1.5" fill="#4ea059"/>
<circle cx="294.4" cy="264.4" r="1.5" fill="#489b53"/>
<circle cx="287.0" cy="264.4" r="1.5" fill="#8fd395"/>
<circle cx="298.0" cy="268.1" r="1.5" fill="#7ec786"/>
<circle cx="290.8" cy="264.4" r="1.5" fill="#5fae69"/>
<circle cx="299.7" cy="260.6" r="1.5" fill="#78c280"/>
<circle cx="293.4" cy="263.1" r="1.5" fill="#41954c"/>
<circle cx="305.4" cy="269.4" r="1.5" fill="#66b470"/>
<circle cx="295.4" cy="269.4" r="1.5" fill="#7fc787"/>
<circle cx="293.5" cy="268.1" r="1.5" fill="#71bd7a"/>
<circle cx="298.4" cy="261.9" r="1.5" fill="#7ec786"/>
<circle cx="308.1" cy="266.9" r="1.5" fill="#58a963"/>
<circle cx="307.0" cy="268.1" r="1.5" fill="#3e934a"/>
<circle cx="302.5" cy="270.6" r="1.5" fill="#41954c"/>
<circle cx="300.2" cy="261.9" r="1.5" fill="#7bc583"/>
<circle cx="291.0" cy="268.1" r="1.5" fill="#69b773"/>
<circle cx="300.4" cy="270.6" r="1.5" fill="#70bc79"/>
<circle cx="295.7" cy="263.1" r="1.5" fill="#57a862"/>
<circle cx="301.0" cy="263.1" r="1.5" fill="#50a15a"/>
<circle cx="288.7" cy="263.1" r="1.5" fill="#58a963"/>
<circle cx="304.7" cy="266.9" r="1.5" fill="#4d9f58"/>
<circle cx="294.8" cy="268.1" r="1.5" fill="#79c382"/>
<circle cx="297.8" cy="260.6" r="1.5" fill="#7ec786"/>
<circle cx="286.5" cy="266.9" r="1.5" fill="#99db9e"/>
<circle cx="303.7" cy="264.4" r="1.5" fill="#4a9d55"/>
<circle cx="296.1" cy="268.1" r="1.5" fill="#4c9f57"/>
<circle cx="305.2" cy="268.1" r="1.5" fill="#82ca8a"/>
<circle cx="289.8" cy="266.9" r="1.5" fill="#51a35c"/>
<circle cx="300.2" cy="264.4" r="1.5" fill="#60af6a"/>
<circle cx="292.4" cy="264.4" r="1.5" fill="#70bc79"/>
<circle cx="308.2" cy="264.4" r="1.5" fill="#3e934a"/>
<circle cx="301.3" cy="266.9" r="1.5" fill="#51a35c"/>
<circle cx="288.5" cy="266.9" r="1.5" fill="#60af6a"/>
<circle cx="290.1" cy="265.6" r="1.5" fill="#58a963"/>
<circle cx="303.4" cy="264.4" r="1.5" fill="#3f944b"/>
<circle cx="288.5" cy="264.4" r="1.5" fill="#6fbb78"/>
<circle cx="298.8" cy="268.1" r="1.5" fill="#6fbc79"/>
<circle cx="306.1" cy="266.9" r="1.5" fill="#55a660"/>
<circle cx="304.5" cy="264.4" r="1.5" fill="#5aaa64"/>
<circle cx="302.6" cy="266.9" r="1.5" fill="#87cd8e"/>
<circle cx="287.2" cy="265.6" r="1.5" fill="#9bdca0"/>
<circle cx="292.2" cy="266.9" r="1.5" fill="#78c281"/>
<circle cx="301.6" cy="269.4" r="1.5" fill="#79c382"/>
<circle cx="298.1" cy="270.6" r="1.5" fill="#85cc8c"/>
<circle cx="300.0" cy="266.9" r="1.5" fill="#73bf7c"/>
<circle cx="296.3" cy="261.9" r="1.5" fill="#489b53"/>
<circle cx="293.9" cy="265.6" r="1.5" fill="#6cb976"/>
<circle cx="306.6" cy="265.6" r="1.5" fill="#43974e"/>
<circle cx="297.1" cy="266.9" r="1.5" fill="#52a45d"/>
<circle cx="299.0" cy="265.6" r="1.5" fill="#84cb8b"/>
<circle cx="299.4" cy="269.4" r="1.5" fill="#42964e"/>
<circle cx="298.5" cy="265.6" r="1.5" fill="#67b571"/>
<circle cx="299.6" cy="263.1" r="1.5" fill="#82ca8a"/>
<circle cx="285.3" cy="265.6" r="1.5" fill="#96d99c"/>
<circle cx="304.8" cy="265.6" r="1.5" fill="#7bc483"/>
<circle cx="298.4" cy="269.4" r="1.5" fill="#84cb8c"/>
<circle cx="295.2" cy="265.6" r="1.5" fill="#7bc483"/>
<circle cx="290.0" cy="264.4" r="1.5" fill="#4a9d55"/>
<circle cx="288.8" cy="269.4" r="1.5" fill="#499c54"/>
<circle cx="288.0" cy="265.6" r="1.5" fill="#83cb8b"/>
<circle cx="298.0" cy="266.9" r="1.5" fill="#74bf7d"/>
<circle cx="292.7" cy="268.1" r="1.5" fill="#67b571"/>
<circle cx="292.7" cy="265.6" r="1.5" fill="#5cac67"/>
<circle cx="298.7" cy="264.4" r="1.5" fill="#43974f"/>
<circle cx="298.3" cy="271.9" r="1.5" fill="#6ab874"/>
<circle cx="301.9" cy="265.6" r="1.5" fill="#42964d"/>
<circle cx="306.2" cy="264.4" r="1.5" fill="#6db976"/>
<circle cx="303.3" cy="265.6" r="1.5" fill="#42964d"/>
<circle cx="297.6" cy="264.4" r="1.5" fill="#66b470"/>
<circle cx="303.6" cy="266.9" r="1.5" fill="#85cc8d"/>
<circle cx="295.0" cy="263.1" r="1.5" fill="#63b26d"/>
<circle cx="296.2" cy="266.9" r="1.5" fill="#42964d"/>
<circle cx="287.0" cy="266.9" r="1.5" fill="#90d496"/>
<circle cx="299.7" cy="269.4" r="1.5" fill="#7ec786"/>
<circle cx="297.5" cy="264.4" r="1.5" fill="#7cc584"/>
<circle cx="299.3" cy="266.9" r="1.5" fill="#54a55f"/>
<circle cx="302.9" cy="263.1" r="1.5" fill="#69b773"/>
<circle cx="291.3" cy="266.9" r="1.5" fill="#60af6a"/>
<circle cx="304.6" cy="263.1" r="1.5" fill="#64b36e"/>
<circle cx="302.4" cy="264.4" r="1.5" fill="#4fa15a"/>
<circle cx="295.5" cy="266.9" r="1.5" fill="#64b36e"/>
<circle cx="303.6" cy="268.1" r="1.5" fill="#4fa15a"/>
<circle cx="288.9" cy="265.6" r="1.5" fill="#65b36f"/>
<circle cx="296.5" cy="270.6" r="1.5" fill="#73bf7c"/>
<circle cx="304.2" cy="269.4" r="1.5" fill="#50a25b"/>
<circle cx="290.3" cy="268.1" r="1.5" fill="#50a25b"/>
<circle cx="302.0" cy="261.9" r="1.5" fill="#56a760"/>
<circle cx="292.8" cy="266.9" r="1.5" fill="#81c989"/>
<circle cx="238.0" cy="265.6" r="1.5" fill="#98da9e"/>
<circle cx="256.0" cy="265.6" r="1.5" fill="#9edfa3"/>
<circle cx="258.5" cy="265.6" r="1.5" fill="#9edfa3"/>
<circle cx="261.0" cy="265.6" r="1.5" fill="#9edfa3"/>
<circle cx="263.5" cy="265.6" r="1.5" fill="#9edfa3"/>
<circle cx="270.0" cy="265.6" r="1.5" fill="#92d698"/>
<circle cx="272.5" cy="265.6" r="1.5" fill="#92d698"/>
<circle cx="275.5" cy="265.6" r="1.5" fill="#92d698"/>
<circle cx="277.5" cy="265.6" r="1.5" fill="#92d698"/>
</g>
<g>
<circle cx="308.2" cy="285.0" r="1.5" fill="#97d99d"/>
<circle cx="305.2" cy="286.3" r="1.5" fill="#a1e1a5"/>
<circle cx="297.2" cy="286.3" r="1.5" fill="#80c888"/>
<circle cx="294.1" cy="288.8" r="1.5" fill="#86cd8d"/>
<circle cx="300.0" cy="283.8" r="1.5" fill="#86cd8d"/>
<circle cx="288.2" cy="285.0" r="1.5" fill="#a2e2a7"/>
<circle cx="299.9" cy="286.3" r="1.5" fill="#7ec786"/>
<circle cx="291.2" cy="282.5" r="1.5" fill="#a4e3a8"/>
<circle cx="288.7" cy="286.3" r="1.5" fill="#86cd8e"/>
<circle cx="304.0" cy="283.8" r="1.5" fill="#9ddea2"/>
<circle cx="295.8" cy="288.8" r="1.5" fill="#82c989"/>
<circle cx="301.0" cy="286.3" r="1.5" fill="#7dc685"/>
<circle cx="299.4" cy="286.3" r="1.5" fill="#7cc584"/>
<circle cx="304.4" cy="286.3" r="1.5" fill="#9fdfa4"/>
<circle cx="298.1" cy="283.8" r="1.5" fill="#86cc8d"/>
<circle cx="292.3" cy="285.0" r="1.5" fill="#a0e1a5"/>
<circle cx="299.8" cy="287.5" r="1.5" fill="#94d79a"/>
<circle cx="290.8" cy="287.5" r="1.5" fill="#89cf90"/>
<circle cx="295.8" cy="286.3" r="1.5" fill="#7cc584"/>
<circle cx="297.7" cy="287.5" r="1.5" fill="#89cf90"/>
<circle cx="291.8" cy="286.3" r="1.5" fill="#a1e1a5"/>
<circle cx="297.0" cy="285.0" r="1.5" fill="#96d99c"/>
<circle cx="301.2" cy="285.0" r="1.5" fill="#75c07e"/>
<circle cx="293.2" cy="287.5" r="1.5" fill="#9ddea2"/>
<circle cx="299.2" cy="282.5" r="1.5" fill="#78c280"/>
<circle cx="298.7" cy="287.5" r="1.5" fill="#76c07f"/>
<circle cx="293.8" cy="286.3" r="1.5" fill="#95d89b"/>
<circle cx="294.3" cy="287.5" r="1.5" fill="#84cb8b"/>
<circle cx="294.8" cy="288.8" r="1.5" fill="#99db9f"/>
<circle cx="294.7" cy="291.3" r="1.5" fill="#9ddea2"/>
<circle cx="291.0" cy="285.0" r="1.5" fill="#8bd092"/>
<circle cx="290.2" cy="285.0" r="1.5" fill="#a0e0a5"/>
<circle cx="302.5" cy="286.3" r="1.5" fill="#98da9d"/>
<circle cx="301.2" cy="283.8" r="1.5" fill="#82ca8a"/>
<circle cx="299.4" cy="288.8" r="1.5" fill="#88ce8f"/>
<circle cx="297.2" cy="282.5" r="1.5" fill="#6fbc79"/>
<circle cx="294.4" cy="282.5" r="1.5" fill="#a0e1a5"/>
<circle cx="293.2" cy="286.3" r="1.5" fill="#a4e3a8"/>
<circle cx="292.6" cy="285.0" r="1.5" fill="#89cf90"/>
<circle cx="304.4" cy="285.0" r="1.5" fill="#98da9e"/>
<circle cx="295.3" cy="278.8" r="1.5" fill="#89cf90"/>
<circle cx="294.9" cy="282.5" r="1.5" fill="#85cc8c"/>
<circle cx="294.0" cy="283.8" r="1.5" fill="#8cd193"/>
<circle cx="298.5" cy="285.0" r="1.5" fill="#7cc584"/>
<circle cx="296.0" cy="285.0" r="1.5" fill="#80c888"/>
<circle cx="289.1" cy="285.0" r="1.5" fill="#96d99c"/>
<circle cx="295.5" cy="280.0" r="1.5" fill="#91d597"/>
<circle cx="295.5" cy="281.3" r="1.5" fill="#9adc9f"/>
<circle cx="297.3" cy="287.5" r="1.5" fill="#91d597"/>
<circle cx="292.7" cy="283.8" r="1.5" fill="#a4e4a9"/>
<circle cx="298.3" cy="286.3" r="1.5" fill="#87ce8f"/>
<circle cx="298.8" cy="285.0" r="1.5" fill="#74bf7c"/>
<circle cx="301.9" cy="286.3" r="1.5" fill="#89cf90"/>
<circle cx="302.8" cy="285.0" r="1.5" fill="#a1e1a6"/>
<circle cx="297.5" cy="283.8" r="1.5" fill="#9edfa3"/>
<circle cx="301.8" cy="285.0" r="1.5" fill="#72be7b"/>
<circle cx="289.8" cy="283.8" r="1.5" fill="#97da9d"/>
<circle cx="295.6" cy="287.5" r="1.5" fill="#7ac482"/>
<circle cx="294.7" cy="285.0" r="1.5" fill="#a1e1a6"/>
<circle cx="289.6" cy="286.3" r="1.5" fill="#89cf90"/>
<circle cx="288.1" cy="286.3" r="1.5" fill="#a6e5aa"/>
<circle cx="295.4" cy="290.0" r="1.5" fill="#85cc8c"/>
<circle cx="286.5" cy="285.0" r="1.5" fill="#a0e0a5"/>
<circle cx="307.3" cy="285.0" r="1.5" fill="#9adc9f"/>
<circle cx="300.2" cy="285.0" r="1.5" fill="#82ca8a"/>
<circle cx="294.5" cy="283.8" r="1.5" fill="#9adca0"/>
<circle cx="290.6" cy="283.8" r="1.5" fill="#93d799"/>
<circle cx="292.5" cy="287.5" r="1.5" fill="#99db9f"/>
<circle cx="293.6" cy="285.0" r="1.5" fill="#9adc9f"/>
<circle cx="298.6" cy="283.8" r="1.5" fill="#74bf7d"/>
<circle cx="296.0" cy="283.8" r="1.5" fill="#87ce8e"/>
<circle cx="292.5" cy="283.8" r="1.5" fill="#88ce8f"/>
<circle cx="295.2" cy="286.3" r="1.5" fill="#a2e2a7"/>
<circle cx="295.8" cy="282.5" r="1.5" fill="#86cc8d"/>
<circle cx="294.9" cy="287.5" r="1.5" fill="#a4e3a9"/>
<circle cx="304.5" cy="285.0" r="1.5" fill="#9ddea3"/>
<circle cx="290.5" cy="286.3" r="1.5" fill="#86cd8d"/>
<circle cx="289.0" cy="283.8" r="1.5" fill="#8ad091"/>
<circle cx="283.0" cy="285.0" r="1.5" fill="#3b9046"/>
<circle cx="294.0" cy="285.0" r="1.5" fill="#3b9046"/>
<circle cx="294.6" cy="285.0" r="1.5" fill="#41954d"/>
<circle cx="302.5" cy="285.0" r="1.5" fill="#4ea059"/>
<circle cx="304.0" cy="285.0" r="1.5" fill="#55a65f"/>
</g>
<line x1="168.5" x2="378.3" y1="304.4" y2="304.4" stroke="#222" stroke-width="0.9"/>
<line x1="179.9" x2="179.9" y1="304.4" y2="307.6" stroke="#222" stroke-width="0.9"/>
<line x1="237.5" x2="237.5" y1="304.4" y2="307.6" stroke="#222" stroke-width="0.9"/>
<line x1="295" x2="295" y1="304.4" y2="307.6" stroke="#222" stroke-width="0.9"/>
<line x1="352.3" x2="352.3" y1="304.4" y2="307.6" stroke="#222" stroke-width="0.9"/>
<rect x="391.3" y="33" width="3.3" height="271.4" fill="url(#cb)"/>
<text font-family="Liberation Sans, Arial, sans-serif" font-size="12.5" fill="#000" text-anchor="end" transform="translate(183.9,311.6) rotate(-90)"><tspan font-size="14.2">−</tspan>0.2</text>
<text font-family="Liberation Sans, Arial, sans-serif" font-size="12.5" fill="#000" text-anchor="end" transform="translate(241.5,311.6) rotate(-90)"><tspan font-size="14.2">−</tspan>0.1</text>
<text font-family="Liberation Sans, Arial, sans-serif" font-size="12.5" fill="#000" text-anchor="end" transform="translate(299.0,311.6) rotate(-90)">0.0</text>
<text font-family="Liberation Sans, Arial, sans-serif" font-size="12.5" fill="#000" text-anchor="end" transform="translate(356.3,311.6) rotate(-90)">0.1</text>
<text font-family="Liberation Sans, Arial, sans-serif" font-size="13" fill="#000" text-anchor="end" x="148.6" y="57.40">Wind Speed</text>
<text font-family="Liberation Sans, Arial, sans-serif" font-size="13" fill="#000" text-anchor="end" x="148.6" y="76.79">LULC</text>
<text font-family="Liberation Sans, Arial, sans-serif" font-size="13" fill="#000" text-anchor="end" x="148.6" y="96.17">Slope</text>
<text font-family="Liberation Sans, Arial, sans-serif" font-size="13" fill="#000" text-anchor="end" x="148.6" y="115.56">Temperature</text>
<text font-family="Liberation Sans, Arial, sans-serif" font-size="13" fill="#000" text-anchor="end" x="148.6" y="134.94">NDVI</text>
<text font-family="Liberation Sans, Arial, sans-serif" font-size="13" fill="#000" text-anchor="end" x="148.6" y="154.33">Distance to Villages</text>
<text font-family="Liberation Sans, Arial, sans-serif" font-size="13" fill="#000" text-anchor="end" x="148.6" y="173.72">Distance to Roads</text>
<text font-family="Liberation Sans, Arial, sans-serif" font-size="13" fill="#000" text-anchor="end" x="148.6" y="193.10">TWI</text>
<text font-family="Liberation Sans, Arial, sans-serif" font-size="13" fill="#000" text-anchor="end" x="148.6" y="212.49">Solar Radiance</text>
<text font-family="Liberation Sans, Arial, sans-serif" font-size="13" fill="#000" text-anchor="end" x="148.6" y="231.87">Rainfall</text>
<text font-family="Liberation Sans, Arial, sans-serif" font-size="13" fill="#000" text-anchor="end" x="148.6" y="251.26">Distance to Streams</text>
<text font-family="Liberation Sans, Arial, sans-serif" font-size="13" fill="#000" text-anchor="end" x="148.6" y="270.65">Aspect</text>
<text font-family="Liberation Sans, Arial, sans-serif" font-size="13" fill="#000" text-anchor="end" x="148.6" y="290.03">Forest Type</text>
<text font-family="Liberation Serif, Times New Roman, serif" font-weight="bold" font-size="16.3" fill="#000" text-anchor="middle" x="287.3" y="17.1">RF - SHAP Summary Plot</text>
<text font-family="Liberation Sans, Arial, sans-serif" font-size="9" fill="#000" x="397.6" y="36.8">High</text>
<text font-family="Liberation Sans, Arial, sans-serif" font-size="9" fill="#000" x="397.6" y="308.1">Low</text>
<text font-family="Liberation Sans, Arial, sans-serif" font-size="9.6" fill="#000" text-anchor="middle" transform="translate(423.4,169.7) rotate(-90)">Factor Value</text>
<text font-family="Liberation Sans, Arial, sans-serif" font-size="13" fill="#000" text-anchor="middle" transform="translate(13.3,170.6) rotate(-90)">Factors</text>
<text font-family="Liberation Sans, Arial, sans-serif" font-size="10.6" fill="#000" text-anchor="middle" x="273.2" y="346.9">SHAP value (impact on model output)</text>
<text font-family="Liberation Sans, Arial, sans-serif" font-size="13" fill="#000" y="372.9"><tspan x="44.5" y="372.9" font-size="19.5">← </tspan><tspan x="64.2" y="372.9">Lower Contribution to Susceptibility</tspan></text>
<text font-family="Liberation Sans, Arial, sans-serif" font-size="13" fill="#000" text-anchor="end" y="372.9"><tspan x="530.3" y="372.9">Higher Contribution to Susceptibility</tspan><tspan x="550.5" y="372.9" font-size="19.5"> →</tspan></text>
</svg>
</body></html>
